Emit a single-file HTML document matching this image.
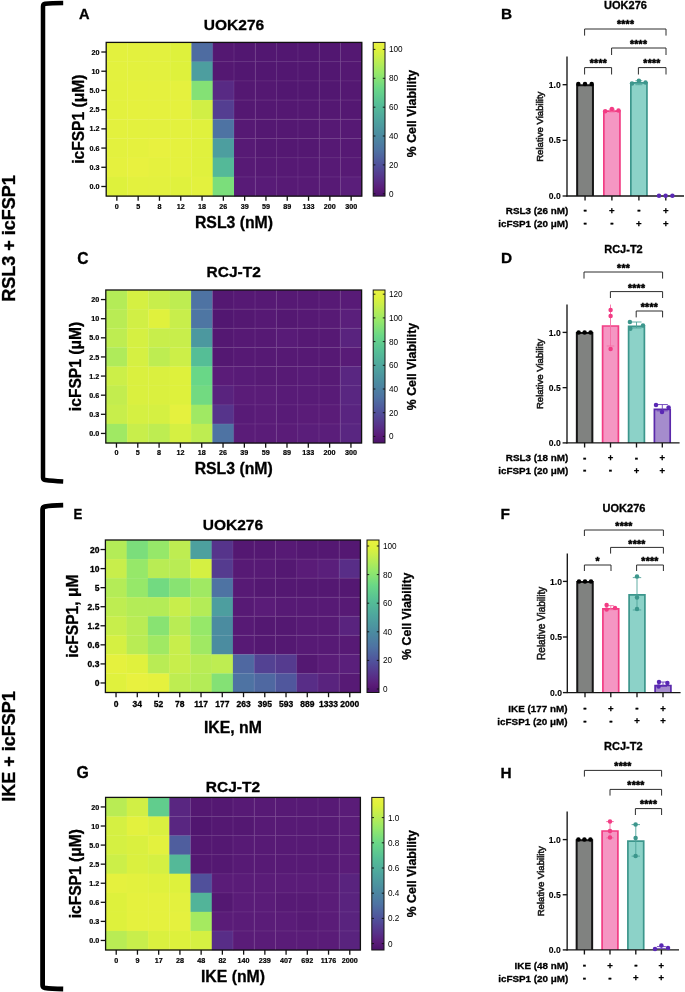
<!DOCTYPE html>
<html lang="en"><head><meta charset="utf-8"><title>Figure</title>
<style>html,body{margin:0;padding:0;background:#fff}svg{display:block}text{font-family:'Liberation Sans', Arial, Helvetica, sans-serif;fill:#000}text[font-weight="700"]{stroke:#000;stroke-width:0.3px}</style>
</head><body>
<svg width="685" height="992" viewBox="0 0 685 992">
<rect width="685" height="992" fill="#fff"/>
<path d="M63.2,2.9 C56,2.9 49,3.2 45.2,3.8 Q43,4.2 43,6.6 L43,477.4 Q43,479.6 45.2,479.9 C49,480.4 56,481 63.2,481.4" fill="none" stroke="#000" stroke-width="4.5"/>
<path d="M63.2,505.1 C56,505.2 49,505.6 44.8,506.6 Q42.6,507.2 42.6,509.6 L42.6,985 Q42.6,987.4 44.8,987.8 C49,988.4 56,988.8 63.2,989" fill="none" stroke="#000" stroke-width="4.8"/>
<text transform="translate(15.4,238.5) rotate(-90)" font-size="18" font-weight="700" text-anchor="middle">RSL3 + icFSP1</text>
<text transform="translate(15.4,746.5) rotate(-90)" font-size="18" font-weight="700" text-anchor="middle">IKE + icFSP1</text>
<text x="78.9" y="19.3" font-size="14.6" font-weight="700">A</text>
<text x="77.2" y="263.7" font-size="15.6" font-weight="700">C</text>
<text x="73.4" y="519.4" font-size="15.4" font-weight="700" textLength="8.8" lengthAdjust="spacingAndGlyphs">E</text>
<text x="76.4" y="778.3" font-size="15.8" font-weight="700">G</text>
<rect x="106.20" y="42.40" width="21.60" height="19.51" fill="#e3f13e"/>
<rect x="127.50" y="42.40" width="21.60" height="19.51" fill="#e3f13e"/>
<rect x="148.80" y="42.40" width="21.60" height="19.51" fill="#e3f13e"/>
<rect x="170.10" y="42.40" width="21.60" height="19.51" fill="#def13c"/>
<rect x="191.40" y="42.40" width="21.60" height="19.51" fill="#4e6ca1"/>
<rect x="212.70" y="42.40" width="21.60" height="19.51" fill="#541872"/>
<rect x="234.00" y="42.40" width="21.60" height="19.51" fill="#521771"/>
<rect x="255.30" y="42.40" width="21.60" height="19.51" fill="#521771"/>
<rect x="276.60" y="42.40" width="21.60" height="19.51" fill="#521771"/>
<rect x="297.90" y="42.40" width="21.60" height="19.51" fill="#521771"/>
<rect x="319.20" y="42.40" width="21.60" height="19.51" fill="#521771"/>
<rect x="340.50" y="42.40" width="21.60" height="19.51" fill="#541872"/>
<rect x="106.20" y="61.61" width="21.60" height="19.51" fill="#e3f13e"/>
<rect x="127.50" y="61.61" width="21.60" height="19.51" fill="#e3f13e"/>
<rect x="148.80" y="61.61" width="21.60" height="19.51" fill="#e3f13e"/>
<rect x="170.10" y="61.61" width="21.60" height="19.51" fill="#def13c"/>
<rect x="191.40" y="61.61" width="21.60" height="19.51" fill="#4d9e9f"/>
<rect x="212.70" y="61.61" width="21.60" height="19.51" fill="#541872"/>
<rect x="234.00" y="61.61" width="21.60" height="19.51" fill="#521771"/>
<rect x="255.30" y="61.61" width="21.60" height="19.51" fill="#521771"/>
<rect x="276.60" y="61.61" width="21.60" height="19.51" fill="#521771"/>
<rect x="297.90" y="61.61" width="21.60" height="19.51" fill="#521771"/>
<rect x="319.20" y="61.61" width="21.60" height="19.51" fill="#521771"/>
<rect x="340.50" y="61.61" width="21.60" height="19.51" fill="#541872"/>
<rect x="106.20" y="80.82" width="21.60" height="19.51" fill="#e3f13e"/>
<rect x="127.50" y="80.82" width="21.60" height="19.51" fill="#e5f13e"/>
<rect x="148.80" y="80.82" width="21.60" height="19.51" fill="#e5f13e"/>
<rect x="170.10" y="80.82" width="21.60" height="19.51" fill="#e5f13e"/>
<rect x="191.40" y="80.82" width="21.60" height="19.51" fill="#84e175"/>
<rect x="212.70" y="80.82" width="21.60" height="19.51" fill="#582a84"/>
<rect x="234.00" y="80.82" width="21.60" height="19.51" fill="#541872"/>
<rect x="255.30" y="80.82" width="21.60" height="19.51" fill="#541872"/>
<rect x="276.60" y="80.82" width="21.60" height="19.51" fill="#521771"/>
<rect x="297.90" y="80.82" width="21.60" height="19.51" fill="#521771"/>
<rect x="319.20" y="80.82" width="21.60" height="19.51" fill="#521771"/>
<rect x="340.50" y="80.82" width="21.60" height="19.51" fill="#541872"/>
<rect x="106.20" y="100.04" width="21.60" height="19.51" fill="#e3f13e"/>
<rect x="127.50" y="100.04" width="21.60" height="19.51" fill="#e5f13e"/>
<rect x="148.80" y="100.04" width="21.60" height="19.51" fill="#e5f13e"/>
<rect x="170.10" y="100.04" width="21.60" height="19.51" fill="#e5f13e"/>
<rect x="191.40" y="100.04" width="21.60" height="19.51" fill="#d1ef45"/>
<rect x="212.70" y="100.04" width="21.60" height="19.51" fill="#543e91"/>
<rect x="234.00" y="100.04" width="21.60" height="19.51" fill="#541872"/>
<rect x="255.30" y="100.04" width="21.60" height="19.51" fill="#541872"/>
<rect x="276.60" y="100.04" width="21.60" height="19.51" fill="#541872"/>
<rect x="297.90" y="100.04" width="21.60" height="19.51" fill="#541872"/>
<rect x="319.20" y="100.04" width="21.60" height="19.51" fill="#541872"/>
<rect x="340.50" y="100.04" width="21.60" height="19.51" fill="#541872"/>
<rect x="106.20" y="119.25" width="21.60" height="19.51" fill="#e3f13e"/>
<rect x="127.50" y="119.25" width="21.60" height="19.51" fill="#e3f13e"/>
<rect x="148.80" y="119.25" width="21.60" height="19.51" fill="#e3f13e"/>
<rect x="170.10" y="119.25" width="21.60" height="19.51" fill="#e3f13e"/>
<rect x="191.40" y="119.25" width="21.60" height="19.51" fill="#e0f13d"/>
<rect x="212.70" y="119.25" width="21.60" height="19.51" fill="#4e73a3"/>
<rect x="234.00" y="119.25" width="21.60" height="19.51" fill="#561974"/>
<rect x="255.30" y="119.25" width="21.60" height="19.51" fill="#541872"/>
<rect x="276.60" y="119.25" width="21.60" height="19.51" fill="#541872"/>
<rect x="297.90" y="119.25" width="21.60" height="19.51" fill="#541872"/>
<rect x="319.20" y="119.25" width="21.60" height="19.51" fill="#561974"/>
<rect x="340.50" y="119.25" width="21.60" height="19.51" fill="#561974"/>
<rect x="106.20" y="138.46" width="21.60" height="19.51" fill="#e3f13e"/>
<rect x="127.50" y="138.46" width="21.60" height="19.51" fill="#e5f13e"/>
<rect x="148.80" y="138.46" width="21.60" height="19.51" fill="#e8f13f"/>
<rect x="170.10" y="138.46" width="21.60" height="19.51" fill="#e5f13e"/>
<rect x="191.40" y="138.46" width="21.60" height="19.51" fill="#e0f13d"/>
<rect x="212.70" y="138.46" width="21.60" height="19.51" fill="#4d9e9f"/>
<rect x="234.00" y="138.46" width="21.60" height="19.51" fill="#571a75"/>
<rect x="255.30" y="138.46" width="21.60" height="19.51" fill="#541872"/>
<rect x="276.60" y="138.46" width="21.60" height="19.51" fill="#541872"/>
<rect x="297.90" y="138.46" width="21.60" height="19.51" fill="#541872"/>
<rect x="319.20" y="138.46" width="21.60" height="19.51" fill="#561974"/>
<rect x="340.50" y="138.46" width="21.60" height="19.51" fill="#561974"/>
<rect x="106.20" y="157.67" width="21.60" height="19.51" fill="#e5f13e"/>
<rect x="127.50" y="157.67" width="21.60" height="19.51" fill="#e8f13f"/>
<rect x="148.80" y="157.67" width="21.60" height="19.51" fill="#e5f13e"/>
<rect x="170.10" y="157.67" width="21.60" height="19.51" fill="#e5f13e"/>
<rect x="191.40" y="157.67" width="21.60" height="19.51" fill="#e0f13d"/>
<rect x="212.70" y="157.67" width="21.60" height="19.51" fill="#54b998"/>
<rect x="234.00" y="157.67" width="21.60" height="19.51" fill="#571a75"/>
<rect x="255.30" y="157.67" width="21.60" height="19.51" fill="#561974"/>
<rect x="276.60" y="157.67" width="21.60" height="19.51" fill="#561974"/>
<rect x="297.90" y="157.67" width="21.60" height="19.51" fill="#561974"/>
<rect x="319.20" y="157.67" width="21.60" height="19.51" fill="#571a75"/>
<rect x="340.50" y="157.67" width="21.60" height="19.51" fill="#571a75"/>
<rect x="106.20" y="176.89" width="21.60" height="19.51" fill="#def13c"/>
<rect x="127.50" y="176.89" width="21.60" height="19.51" fill="#e3f13e"/>
<rect x="148.80" y="176.89" width="21.60" height="19.51" fill="#e3f13e"/>
<rect x="170.10" y="176.89" width="21.60" height="19.51" fill="#e0f13d"/>
<rect x="191.40" y="176.89" width="21.60" height="19.51" fill="#e3f13e"/>
<rect x="212.70" y="176.89" width="21.60" height="19.51" fill="#7bde7b"/>
<rect x="234.00" y="176.89" width="21.60" height="19.51" fill="#581b77"/>
<rect x="255.30" y="176.89" width="21.60" height="19.51" fill="#581b77"/>
<rect x="276.60" y="176.89" width="21.60" height="19.51" fill="#571a75"/>
<rect x="297.90" y="176.89" width="21.60" height="19.51" fill="#571a75"/>
<rect x="319.20" y="176.89" width="21.60" height="19.51" fill="#571a75"/>
<rect x="340.50" y="176.89" width="21.60" height="19.51" fill="#5a1e7a"/>
<line x1="127.50" y1="42.40" x2="127.50" y2="61.61" stroke="#fff" stroke-opacity="0.05" stroke-width="0.6"/>
<line x1="127.50" y1="61.61" x2="127.50" y2="80.82" stroke="#fff" stroke-opacity="0.05" stroke-width="0.6"/>
<line x1="127.50" y1="80.82" x2="127.50" y2="100.04" stroke="#fff" stroke-opacity="0.05" stroke-width="0.6"/>
<line x1="127.50" y1="100.04" x2="127.50" y2="119.25" stroke="#fff" stroke-opacity="0.05" stroke-width="0.6"/>
<line x1="127.50" y1="119.25" x2="127.50" y2="138.46" stroke="#fff" stroke-opacity="0.05" stroke-width="0.6"/>
<line x1="127.50" y1="138.46" x2="127.50" y2="157.67" stroke="#fff" stroke-opacity="0.05" stroke-width="0.6"/>
<line x1="127.50" y1="157.67" x2="127.50" y2="176.89" stroke="#fff" stroke-opacity="0.05" stroke-width="0.6"/>
<line x1="127.50" y1="176.89" x2="127.50" y2="196.10" stroke="#fff" stroke-opacity="0.05" stroke-width="0.6"/>
<line x1="148.80" y1="42.40" x2="148.80" y2="61.61" stroke="#fff" stroke-opacity="0.05" stroke-width="0.6"/>
<line x1="148.80" y1="61.61" x2="148.80" y2="80.82" stroke="#fff" stroke-opacity="0.05" stroke-width="0.6"/>
<line x1="148.80" y1="80.82" x2="148.80" y2="100.04" stroke="#fff" stroke-opacity="0.05" stroke-width="0.6"/>
<line x1="148.80" y1="100.04" x2="148.80" y2="119.25" stroke="#fff" stroke-opacity="0.05" stroke-width="0.6"/>
<line x1="148.80" y1="119.25" x2="148.80" y2="138.46" stroke="#fff" stroke-opacity="0.05" stroke-width="0.6"/>
<line x1="148.80" y1="138.46" x2="148.80" y2="157.67" stroke="#fff" stroke-opacity="0.05" stroke-width="0.6"/>
<line x1="148.80" y1="157.67" x2="148.80" y2="176.89" stroke="#fff" stroke-opacity="0.05" stroke-width="0.6"/>
<line x1="148.80" y1="176.89" x2="148.80" y2="196.10" stroke="#fff" stroke-opacity="0.05" stroke-width="0.6"/>
<line x1="170.10" y1="42.40" x2="170.10" y2="61.61" stroke="#fff" stroke-opacity="0.05" stroke-width="0.6"/>
<line x1="170.10" y1="61.61" x2="170.10" y2="80.82" stroke="#fff" stroke-opacity="0.05" stroke-width="0.6"/>
<line x1="170.10" y1="80.82" x2="170.10" y2="100.04" stroke="#fff" stroke-opacity="0.05" stroke-width="0.6"/>
<line x1="170.10" y1="100.04" x2="170.10" y2="119.25" stroke="#fff" stroke-opacity="0.05" stroke-width="0.6"/>
<line x1="170.10" y1="119.25" x2="170.10" y2="138.46" stroke="#fff" stroke-opacity="0.05" stroke-width="0.6"/>
<line x1="170.10" y1="138.46" x2="170.10" y2="157.67" stroke="#fff" stroke-opacity="0.05" stroke-width="0.6"/>
<line x1="170.10" y1="157.67" x2="170.10" y2="176.89" stroke="#fff" stroke-opacity="0.05" stroke-width="0.6"/>
<line x1="170.10" y1="176.89" x2="170.10" y2="196.10" stroke="#fff" stroke-opacity="0.05" stroke-width="0.6"/>
<line x1="191.40" y1="42.40" x2="191.40" y2="61.61" stroke="#fff" stroke-opacity="0.05" stroke-width="0.6"/>
<line x1="191.40" y1="61.61" x2="191.40" y2="80.82" stroke="#fff" stroke-opacity="0.05" stroke-width="0.6"/>
<line x1="191.40" y1="80.82" x2="191.40" y2="100.04" stroke="#fff" stroke-opacity="0.05" stroke-width="0.6"/>
<line x1="191.40" y1="100.04" x2="191.40" y2="119.25" stroke="#fff" stroke-opacity="0.05" stroke-width="0.6"/>
<line x1="191.40" y1="119.25" x2="191.40" y2="138.46" stroke="#fff" stroke-opacity="0.05" stroke-width="0.6"/>
<line x1="191.40" y1="138.46" x2="191.40" y2="157.67" stroke="#fff" stroke-opacity="0.05" stroke-width="0.6"/>
<line x1="191.40" y1="157.67" x2="191.40" y2="176.89" stroke="#fff" stroke-opacity="0.05" stroke-width="0.6"/>
<line x1="191.40" y1="176.89" x2="191.40" y2="196.10" stroke="#fff" stroke-opacity="0.05" stroke-width="0.6"/>
<line x1="212.70" y1="42.40" x2="212.70" y2="61.61" stroke="#fff" stroke-opacity="0.15" stroke-width="0.6"/>
<line x1="212.70" y1="61.61" x2="212.70" y2="80.82" stroke="#fff" stroke-opacity="0.05" stroke-width="0.6"/>
<line x1="212.70" y1="80.82" x2="212.70" y2="100.04" stroke="#fff" stroke-opacity="0.05" stroke-width="0.6"/>
<line x1="212.70" y1="100.04" x2="212.70" y2="119.25" stroke="#fff" stroke-opacity="0.05" stroke-width="0.6"/>
<line x1="212.70" y1="119.25" x2="212.70" y2="138.46" stroke="#fff" stroke-opacity="0.05" stroke-width="0.6"/>
<line x1="212.70" y1="138.46" x2="212.70" y2="157.67" stroke="#fff" stroke-opacity="0.05" stroke-width="0.6"/>
<line x1="212.70" y1="157.67" x2="212.70" y2="176.89" stroke="#fff" stroke-opacity="0.05" stroke-width="0.6"/>
<line x1="212.70" y1="176.89" x2="212.70" y2="196.10" stroke="#fff" stroke-opacity="0.05" stroke-width="0.6"/>
<line x1="234.00" y1="42.40" x2="234.00" y2="61.61" stroke="#fff" stroke-opacity="0.15" stroke-width="0.6"/>
<line x1="234.00" y1="61.61" x2="234.00" y2="80.82" stroke="#fff" stroke-opacity="0.15" stroke-width="0.6"/>
<line x1="234.00" y1="80.82" x2="234.00" y2="100.04" stroke="#fff" stroke-opacity="0.15" stroke-width="0.6"/>
<line x1="234.00" y1="100.04" x2="234.00" y2="119.25" stroke="#fff" stroke-opacity="0.15" stroke-width="0.6"/>
<line x1="234.00" y1="119.25" x2="234.00" y2="138.46" stroke="#fff" stroke-opacity="0.15" stroke-width="0.6"/>
<line x1="234.00" y1="138.46" x2="234.00" y2="157.67" stroke="#fff" stroke-opacity="0.05" stroke-width="0.6"/>
<line x1="234.00" y1="157.67" x2="234.00" y2="176.89" stroke="#fff" stroke-opacity="0.05" stroke-width="0.6"/>
<line x1="234.00" y1="176.89" x2="234.00" y2="196.10" stroke="#fff" stroke-opacity="0.05" stroke-width="0.6"/>
<line x1="255.30" y1="42.40" x2="255.30" y2="61.61" stroke="#fff" stroke-opacity="0.15" stroke-width="0.6"/>
<line x1="255.30" y1="61.61" x2="255.30" y2="80.82" stroke="#fff" stroke-opacity="0.15" stroke-width="0.6"/>
<line x1="255.30" y1="80.82" x2="255.30" y2="100.04" stroke="#fff" stroke-opacity="0.15" stroke-width="0.6"/>
<line x1="255.30" y1="100.04" x2="255.30" y2="119.25" stroke="#fff" stroke-opacity="0.15" stroke-width="0.6"/>
<line x1="255.30" y1="119.25" x2="255.30" y2="138.46" stroke="#fff" stroke-opacity="0.15" stroke-width="0.6"/>
<line x1="255.30" y1="138.46" x2="255.30" y2="157.67" stroke="#fff" stroke-opacity="0.15" stroke-width="0.6"/>
<line x1="255.30" y1="157.67" x2="255.30" y2="176.89" stroke="#fff" stroke-opacity="0.15" stroke-width="0.6"/>
<line x1="255.30" y1="176.89" x2="255.30" y2="196.10" stroke="#fff" stroke-opacity="0.15" stroke-width="0.6"/>
<line x1="276.60" y1="42.40" x2="276.60" y2="61.61" stroke="#fff" stroke-opacity="0.15" stroke-width="0.6"/>
<line x1="276.60" y1="61.61" x2="276.60" y2="80.82" stroke="#fff" stroke-opacity="0.15" stroke-width="0.6"/>
<line x1="276.60" y1="80.82" x2="276.60" y2="100.04" stroke="#fff" stroke-opacity="0.15" stroke-width="0.6"/>
<line x1="276.60" y1="100.04" x2="276.60" y2="119.25" stroke="#fff" stroke-opacity="0.15" stroke-width="0.6"/>
<line x1="276.60" y1="119.25" x2="276.60" y2="138.46" stroke="#fff" stroke-opacity="0.15" stroke-width="0.6"/>
<line x1="276.60" y1="138.46" x2="276.60" y2="157.67" stroke="#fff" stroke-opacity="0.15" stroke-width="0.6"/>
<line x1="276.60" y1="157.67" x2="276.60" y2="176.89" stroke="#fff" stroke-opacity="0.15" stroke-width="0.6"/>
<line x1="276.60" y1="176.89" x2="276.60" y2="196.10" stroke="#fff" stroke-opacity="0.15" stroke-width="0.6"/>
<line x1="297.90" y1="42.40" x2="297.90" y2="61.61" stroke="#fff" stroke-opacity="0.15" stroke-width="0.6"/>
<line x1="297.90" y1="61.61" x2="297.90" y2="80.82" stroke="#fff" stroke-opacity="0.15" stroke-width="0.6"/>
<line x1="297.90" y1="80.82" x2="297.90" y2="100.04" stroke="#fff" stroke-opacity="0.15" stroke-width="0.6"/>
<line x1="297.90" y1="100.04" x2="297.90" y2="119.25" stroke="#fff" stroke-opacity="0.15" stroke-width="0.6"/>
<line x1="297.90" y1="119.25" x2="297.90" y2="138.46" stroke="#fff" stroke-opacity="0.15" stroke-width="0.6"/>
<line x1="297.90" y1="138.46" x2="297.90" y2="157.67" stroke="#fff" stroke-opacity="0.15" stroke-width="0.6"/>
<line x1="297.90" y1="157.67" x2="297.90" y2="176.89" stroke="#fff" stroke-opacity="0.15" stroke-width="0.6"/>
<line x1="297.90" y1="176.89" x2="297.90" y2="196.10" stroke="#fff" stroke-opacity="0.15" stroke-width="0.6"/>
<line x1="319.20" y1="42.40" x2="319.20" y2="61.61" stroke="#fff" stroke-opacity="0.15" stroke-width="0.6"/>
<line x1="319.20" y1="61.61" x2="319.20" y2="80.82" stroke="#fff" stroke-opacity="0.15" stroke-width="0.6"/>
<line x1="319.20" y1="80.82" x2="319.20" y2="100.04" stroke="#fff" stroke-opacity="0.15" stroke-width="0.6"/>
<line x1="319.20" y1="100.04" x2="319.20" y2="119.25" stroke="#fff" stroke-opacity="0.15" stroke-width="0.6"/>
<line x1="319.20" y1="119.25" x2="319.20" y2="138.46" stroke="#fff" stroke-opacity="0.15" stroke-width="0.6"/>
<line x1="319.20" y1="138.46" x2="319.20" y2="157.67" stroke="#fff" stroke-opacity="0.15" stroke-width="0.6"/>
<line x1="319.20" y1="157.67" x2="319.20" y2="176.89" stroke="#fff" stroke-opacity="0.15" stroke-width="0.6"/>
<line x1="319.20" y1="176.89" x2="319.20" y2="196.10" stroke="#fff" stroke-opacity="0.15" stroke-width="0.6"/>
<line x1="340.50" y1="42.40" x2="340.50" y2="61.61" stroke="#fff" stroke-opacity="0.15" stroke-width="0.6"/>
<line x1="340.50" y1="61.61" x2="340.50" y2="80.82" stroke="#fff" stroke-opacity="0.15" stroke-width="0.6"/>
<line x1="340.50" y1="80.82" x2="340.50" y2="100.04" stroke="#fff" stroke-opacity="0.15" stroke-width="0.6"/>
<line x1="340.50" y1="100.04" x2="340.50" y2="119.25" stroke="#fff" stroke-opacity="0.15" stroke-width="0.6"/>
<line x1="340.50" y1="119.25" x2="340.50" y2="138.46" stroke="#fff" stroke-opacity="0.15" stroke-width="0.6"/>
<line x1="340.50" y1="138.46" x2="340.50" y2="157.67" stroke="#fff" stroke-opacity="0.15" stroke-width="0.6"/>
<line x1="340.50" y1="157.67" x2="340.50" y2="176.89" stroke="#fff" stroke-opacity="0.15" stroke-width="0.6"/>
<line x1="340.50" y1="176.89" x2="340.50" y2="196.10" stroke="#fff" stroke-opacity="0.15" stroke-width="0.6"/>
<line x1="106.20" y1="61.61" x2="127.50" y2="61.61" stroke="#fff" stroke-opacity="0.05" stroke-width="0.6"/>
<line x1="127.50" y1="61.61" x2="148.80" y2="61.61" stroke="#fff" stroke-opacity="0.05" stroke-width="0.6"/>
<line x1="148.80" y1="61.61" x2="170.10" y2="61.61" stroke="#fff" stroke-opacity="0.05" stroke-width="0.6"/>
<line x1="170.10" y1="61.61" x2="191.40" y2="61.61" stroke="#fff" stroke-opacity="0.05" stroke-width="0.6"/>
<line x1="191.40" y1="61.61" x2="212.70" y2="61.61" stroke="#fff" stroke-opacity="0.05" stroke-width="0.6"/>
<line x1="212.70" y1="61.61" x2="234.00" y2="61.61" stroke="#fff" stroke-opacity="0.15" stroke-width="0.6"/>
<line x1="234.00" y1="61.61" x2="255.30" y2="61.61" stroke="#fff" stroke-opacity="0.15" stroke-width="0.6"/>
<line x1="255.30" y1="61.61" x2="276.60" y2="61.61" stroke="#fff" stroke-opacity="0.15" stroke-width="0.6"/>
<line x1="276.60" y1="61.61" x2="297.90" y2="61.61" stroke="#fff" stroke-opacity="0.15" stroke-width="0.6"/>
<line x1="297.90" y1="61.61" x2="319.20" y2="61.61" stroke="#fff" stroke-opacity="0.15" stroke-width="0.6"/>
<line x1="319.20" y1="61.61" x2="340.50" y2="61.61" stroke="#fff" stroke-opacity="0.15" stroke-width="0.6"/>
<line x1="340.50" y1="61.61" x2="361.80" y2="61.61" stroke="#fff" stroke-opacity="0.15" stroke-width="0.6"/>
<line x1="106.20" y1="80.82" x2="127.50" y2="80.82" stroke="#fff" stroke-opacity="0.05" stroke-width="0.6"/>
<line x1="127.50" y1="80.82" x2="148.80" y2="80.82" stroke="#fff" stroke-opacity="0.05" stroke-width="0.6"/>
<line x1="148.80" y1="80.82" x2="170.10" y2="80.82" stroke="#fff" stroke-opacity="0.05" stroke-width="0.6"/>
<line x1="170.10" y1="80.82" x2="191.40" y2="80.82" stroke="#fff" stroke-opacity="0.05" stroke-width="0.6"/>
<line x1="191.40" y1="80.82" x2="212.70" y2="80.82" stroke="#fff" stroke-opacity="0.05" stroke-width="0.6"/>
<line x1="212.70" y1="80.82" x2="234.00" y2="80.82" stroke="#fff" stroke-opacity="0.15" stroke-width="0.6"/>
<line x1="234.00" y1="80.82" x2="255.30" y2="80.82" stroke="#fff" stroke-opacity="0.15" stroke-width="0.6"/>
<line x1="255.30" y1="80.82" x2="276.60" y2="80.82" stroke="#fff" stroke-opacity="0.15" stroke-width="0.6"/>
<line x1="276.60" y1="80.82" x2="297.90" y2="80.82" stroke="#fff" stroke-opacity="0.15" stroke-width="0.6"/>
<line x1="297.90" y1="80.82" x2="319.20" y2="80.82" stroke="#fff" stroke-opacity="0.15" stroke-width="0.6"/>
<line x1="319.20" y1="80.82" x2="340.50" y2="80.82" stroke="#fff" stroke-opacity="0.15" stroke-width="0.6"/>
<line x1="340.50" y1="80.82" x2="361.80" y2="80.82" stroke="#fff" stroke-opacity="0.15" stroke-width="0.6"/>
<line x1="106.20" y1="100.04" x2="127.50" y2="100.04" stroke="#fff" stroke-opacity="0.05" stroke-width="0.6"/>
<line x1="127.50" y1="100.04" x2="148.80" y2="100.04" stroke="#fff" stroke-opacity="0.05" stroke-width="0.6"/>
<line x1="148.80" y1="100.04" x2="170.10" y2="100.04" stroke="#fff" stroke-opacity="0.05" stroke-width="0.6"/>
<line x1="170.10" y1="100.04" x2="191.40" y2="100.04" stroke="#fff" stroke-opacity="0.05" stroke-width="0.6"/>
<line x1="191.40" y1="100.04" x2="212.70" y2="100.04" stroke="#fff" stroke-opacity="0.05" stroke-width="0.6"/>
<line x1="212.70" y1="100.04" x2="234.00" y2="100.04" stroke="#fff" stroke-opacity="0.15" stroke-width="0.6"/>
<line x1="234.00" y1="100.04" x2="255.30" y2="100.04" stroke="#fff" stroke-opacity="0.15" stroke-width="0.6"/>
<line x1="255.30" y1="100.04" x2="276.60" y2="100.04" stroke="#fff" stroke-opacity="0.15" stroke-width="0.6"/>
<line x1="276.60" y1="100.04" x2="297.90" y2="100.04" stroke="#fff" stroke-opacity="0.15" stroke-width="0.6"/>
<line x1="297.90" y1="100.04" x2="319.20" y2="100.04" stroke="#fff" stroke-opacity="0.15" stroke-width="0.6"/>
<line x1="319.20" y1="100.04" x2="340.50" y2="100.04" stroke="#fff" stroke-opacity="0.15" stroke-width="0.6"/>
<line x1="340.50" y1="100.04" x2="361.80" y2="100.04" stroke="#fff" stroke-opacity="0.15" stroke-width="0.6"/>
<line x1="106.20" y1="119.25" x2="127.50" y2="119.25" stroke="#fff" stroke-opacity="0.05" stroke-width="0.6"/>
<line x1="127.50" y1="119.25" x2="148.80" y2="119.25" stroke="#fff" stroke-opacity="0.05" stroke-width="0.6"/>
<line x1="148.80" y1="119.25" x2="170.10" y2="119.25" stroke="#fff" stroke-opacity="0.05" stroke-width="0.6"/>
<line x1="170.10" y1="119.25" x2="191.40" y2="119.25" stroke="#fff" stroke-opacity="0.05" stroke-width="0.6"/>
<line x1="191.40" y1="119.25" x2="212.70" y2="119.25" stroke="#fff" stroke-opacity="0.05" stroke-width="0.6"/>
<line x1="212.70" y1="119.25" x2="234.00" y2="119.25" stroke="#fff" stroke-opacity="0.15" stroke-width="0.6"/>
<line x1="234.00" y1="119.25" x2="255.30" y2="119.25" stroke="#fff" stroke-opacity="0.15" stroke-width="0.6"/>
<line x1="255.30" y1="119.25" x2="276.60" y2="119.25" stroke="#fff" stroke-opacity="0.15" stroke-width="0.6"/>
<line x1="276.60" y1="119.25" x2="297.90" y2="119.25" stroke="#fff" stroke-opacity="0.15" stroke-width="0.6"/>
<line x1="297.90" y1="119.25" x2="319.20" y2="119.25" stroke="#fff" stroke-opacity="0.15" stroke-width="0.6"/>
<line x1="319.20" y1="119.25" x2="340.50" y2="119.25" stroke="#fff" stroke-opacity="0.15" stroke-width="0.6"/>
<line x1="340.50" y1="119.25" x2="361.80" y2="119.25" stroke="#fff" stroke-opacity="0.15" stroke-width="0.6"/>
<line x1="106.20" y1="138.46" x2="127.50" y2="138.46" stroke="#fff" stroke-opacity="0.05" stroke-width="0.6"/>
<line x1="127.50" y1="138.46" x2="148.80" y2="138.46" stroke="#fff" stroke-opacity="0.05" stroke-width="0.6"/>
<line x1="148.80" y1="138.46" x2="170.10" y2="138.46" stroke="#fff" stroke-opacity="0.05" stroke-width="0.6"/>
<line x1="170.10" y1="138.46" x2="191.40" y2="138.46" stroke="#fff" stroke-opacity="0.05" stroke-width="0.6"/>
<line x1="191.40" y1="138.46" x2="212.70" y2="138.46" stroke="#fff" stroke-opacity="0.05" stroke-width="0.6"/>
<line x1="212.70" y1="138.46" x2="234.00" y2="138.46" stroke="#fff" stroke-opacity="0.05" stroke-width="0.6"/>
<line x1="234.00" y1="138.46" x2="255.30" y2="138.46" stroke="#fff" stroke-opacity="0.15" stroke-width="0.6"/>
<line x1="255.30" y1="138.46" x2="276.60" y2="138.46" stroke="#fff" stroke-opacity="0.15" stroke-width="0.6"/>
<line x1="276.60" y1="138.46" x2="297.90" y2="138.46" stroke="#fff" stroke-opacity="0.15" stroke-width="0.6"/>
<line x1="297.90" y1="138.46" x2="319.20" y2="138.46" stroke="#fff" stroke-opacity="0.15" stroke-width="0.6"/>
<line x1="319.20" y1="138.46" x2="340.50" y2="138.46" stroke="#fff" stroke-opacity="0.15" stroke-width="0.6"/>
<line x1="340.50" y1="138.46" x2="361.80" y2="138.46" stroke="#fff" stroke-opacity="0.15" stroke-width="0.6"/>
<line x1="106.20" y1="157.67" x2="127.50" y2="157.67" stroke="#fff" stroke-opacity="0.05" stroke-width="0.6"/>
<line x1="127.50" y1="157.67" x2="148.80" y2="157.67" stroke="#fff" stroke-opacity="0.05" stroke-width="0.6"/>
<line x1="148.80" y1="157.67" x2="170.10" y2="157.67" stroke="#fff" stroke-opacity="0.05" stroke-width="0.6"/>
<line x1="170.10" y1="157.67" x2="191.40" y2="157.67" stroke="#fff" stroke-opacity="0.05" stroke-width="0.6"/>
<line x1="191.40" y1="157.67" x2="212.70" y2="157.67" stroke="#fff" stroke-opacity="0.05" stroke-width="0.6"/>
<line x1="212.70" y1="157.67" x2="234.00" y2="157.67" stroke="#fff" stroke-opacity="0.05" stroke-width="0.6"/>
<line x1="234.00" y1="157.67" x2="255.30" y2="157.67" stroke="#fff" stroke-opacity="0.15" stroke-width="0.6"/>
<line x1="255.30" y1="157.67" x2="276.60" y2="157.67" stroke="#fff" stroke-opacity="0.15" stroke-width="0.6"/>
<line x1="276.60" y1="157.67" x2="297.90" y2="157.67" stroke="#fff" stroke-opacity="0.15" stroke-width="0.6"/>
<line x1="297.90" y1="157.67" x2="319.20" y2="157.67" stroke="#fff" stroke-opacity="0.15" stroke-width="0.6"/>
<line x1="319.20" y1="157.67" x2="340.50" y2="157.67" stroke="#fff" stroke-opacity="0.15" stroke-width="0.6"/>
<line x1="340.50" y1="157.67" x2="361.80" y2="157.67" stroke="#fff" stroke-opacity="0.15" stroke-width="0.6"/>
<line x1="106.20" y1="176.89" x2="127.50" y2="176.89" stroke="#fff" stroke-opacity="0.05" stroke-width="0.6"/>
<line x1="127.50" y1="176.89" x2="148.80" y2="176.89" stroke="#fff" stroke-opacity="0.05" stroke-width="0.6"/>
<line x1="148.80" y1="176.89" x2="170.10" y2="176.89" stroke="#fff" stroke-opacity="0.05" stroke-width="0.6"/>
<line x1="170.10" y1="176.89" x2="191.40" y2="176.89" stroke="#fff" stroke-opacity="0.05" stroke-width="0.6"/>
<line x1="191.40" y1="176.89" x2="212.70" y2="176.89" stroke="#fff" stroke-opacity="0.05" stroke-width="0.6"/>
<line x1="212.70" y1="176.89" x2="234.00" y2="176.89" stroke="#fff" stroke-opacity="0.05" stroke-width="0.6"/>
<line x1="234.00" y1="176.89" x2="255.30" y2="176.89" stroke="#fff" stroke-opacity="0.15" stroke-width="0.6"/>
<line x1="255.30" y1="176.89" x2="276.60" y2="176.89" stroke="#fff" stroke-opacity="0.15" stroke-width="0.6"/>
<line x1="276.60" y1="176.89" x2="297.90" y2="176.89" stroke="#fff" stroke-opacity="0.15" stroke-width="0.6"/>
<line x1="297.90" y1="176.89" x2="319.20" y2="176.89" stroke="#fff" stroke-opacity="0.15" stroke-width="0.6"/>
<line x1="319.20" y1="176.89" x2="340.50" y2="176.89" stroke="#fff" stroke-opacity="0.15" stroke-width="0.6"/>
<line x1="340.50" y1="176.89" x2="361.80" y2="176.89" stroke="#fff" stroke-opacity="0.15" stroke-width="0.6"/>
<rect x="106.2" y="42.4" width="255.60000000000002" height="153.7" fill="none" stroke="#111" stroke-width="1.3"/>
<text x="234.0" y="30" font-size="15.5" font-weight="700" text-anchor="middle">UOK276</text>
<line x1="116.85" y1="196.1" x2="116.85" y2="200.79999999999998" stroke="#111" stroke-width="1.3"/>
<text x="116.85" y="208.5" font-size="7.2" font-weight="700" text-anchor="middle" style="stroke-width:0.2px">0</text>
<line x1="138.15" y1="196.1" x2="138.15" y2="200.79999999999998" stroke="#111" stroke-width="1.3"/>
<text x="138.15" y="208.5" font-size="7.2" font-weight="700" text-anchor="middle" style="stroke-width:0.2px">5</text>
<line x1="159.45" y1="196.1" x2="159.45" y2="200.79999999999998" stroke="#111" stroke-width="1.3"/>
<text x="159.45" y="208.5" font-size="7.2" font-weight="700" text-anchor="middle" style="stroke-width:0.2px">8</text>
<line x1="180.75" y1="196.1" x2="180.75" y2="200.79999999999998" stroke="#111" stroke-width="1.3"/>
<text x="180.75" y="208.5" font-size="7.2" font-weight="700" text-anchor="middle" style="stroke-width:0.2px">12</text>
<line x1="202.05" y1="196.1" x2="202.05" y2="200.79999999999998" stroke="#111" stroke-width="1.3"/>
<text x="202.05" y="208.5" font-size="7.2" font-weight="700" text-anchor="middle" style="stroke-width:0.2px">18</text>
<line x1="223.35" y1="196.1" x2="223.35" y2="200.79999999999998" stroke="#111" stroke-width="1.3"/>
<text x="223.35" y="208.5" font-size="7.2" font-weight="700" text-anchor="middle" style="stroke-width:0.2px">26</text>
<line x1="244.65" y1="196.1" x2="244.65" y2="200.79999999999998" stroke="#111" stroke-width="1.3"/>
<text x="244.65" y="208.5" font-size="7.2" font-weight="700" text-anchor="middle" style="stroke-width:0.2px">39</text>
<line x1="265.95" y1="196.1" x2="265.95" y2="200.79999999999998" stroke="#111" stroke-width="1.3"/>
<text x="265.95" y="208.5" font-size="7.2" font-weight="700" text-anchor="middle" style="stroke-width:0.2px">59</text>
<line x1="287.25" y1="196.1" x2="287.25" y2="200.79999999999998" stroke="#111" stroke-width="1.3"/>
<text x="287.25" y="208.5" font-size="7.2" font-weight="700" text-anchor="middle" style="stroke-width:0.2px">89</text>
<line x1="308.55" y1="196.1" x2="308.55" y2="200.79999999999998" stroke="#111" stroke-width="1.3"/>
<text x="308.55" y="208.5" font-size="7.2" font-weight="700" text-anchor="middle" style="stroke-width:0.2px">133</text>
<line x1="329.85" y1="196.1" x2="329.85" y2="200.79999999999998" stroke="#111" stroke-width="1.3"/>
<text x="329.85" y="208.5" font-size="7.2" font-weight="700" text-anchor="middle" style="stroke-width:0.2px">200</text>
<line x1="351.15" y1="196.1" x2="351.15" y2="200.79999999999998" stroke="#111" stroke-width="1.3"/>
<text x="351.15" y="208.5" font-size="7.2" font-weight="700" text-anchor="middle" style="stroke-width:0.2px">300</text>
<line x1="101.3" y1="52.01" x2="106.2" y2="52.01" stroke="#111" stroke-width="1.3"/>
<text x="99.6" y="54.60" font-size="7.2" font-weight="700" text-anchor="end" style="stroke-width:0.2px">20</text>
<line x1="101.3" y1="71.22" x2="106.2" y2="71.22" stroke="#111" stroke-width="1.3"/>
<text x="99.6" y="73.81" font-size="7.2" font-weight="700" text-anchor="end" style="stroke-width:0.2px">10</text>
<line x1="101.3" y1="90.43" x2="106.2" y2="90.43" stroke="#111" stroke-width="1.3"/>
<text x="99.6" y="93.02" font-size="7.2" font-weight="700" text-anchor="end" style="stroke-width:0.2px">5.0</text>
<line x1="101.3" y1="109.64" x2="106.2" y2="109.64" stroke="#111" stroke-width="1.3"/>
<text x="99.6" y="112.24" font-size="7.2" font-weight="700" text-anchor="end" style="stroke-width:0.2px">2.5</text>
<line x1="101.3" y1="128.86" x2="106.2" y2="128.86" stroke="#111" stroke-width="1.3"/>
<text x="99.6" y="131.45" font-size="7.2" font-weight="700" text-anchor="end" style="stroke-width:0.2px">1.2</text>
<line x1="101.3" y1="148.07" x2="106.2" y2="148.07" stroke="#111" stroke-width="1.3"/>
<text x="99.6" y="150.66" font-size="7.2" font-weight="700" text-anchor="end" style="stroke-width:0.2px">0.6</text>
<line x1="101.3" y1="167.28" x2="106.2" y2="167.28" stroke="#111" stroke-width="1.3"/>
<text x="99.6" y="169.87" font-size="7.2" font-weight="700" text-anchor="end" style="stroke-width:0.2px">0.3</text>
<line x1="101.3" y1="186.49" x2="106.2" y2="186.49" stroke="#111" stroke-width="1.3"/>
<text x="99.6" y="189.09" font-size="7.2" font-weight="700" text-anchor="end" style="stroke-width:0.2px">0.0</text>
<text x="234.0" y="227.6" font-size="15.8" font-weight="700" text-anchor="middle">RSL3 (nM)</text>
<text transform="translate(84,119.2) rotate(-90)" font-size="15.6" font-weight="700" text-anchor="middle">icFSP1 (μM)</text>
<defs><linearGradient id="g42" x1="0" y1="1" x2="0" y2="0">
<stop offset="0.0" stop-color="#4b126a"/>
<stop offset="0.05" stop-color="#5a1c78"/>
<stop offset="0.1" stop-color="#582d87"/>
<stop offset="0.2" stop-color="#50509b"/>
<stop offset="0.3" stop-color="#4e73a3"/>
<stop offset="0.4" stop-color="#4b8ca0"/>
<stop offset="0.5" stop-color="#4ea59e"/>
<stop offset="0.6" stop-color="#55be96"/>
<stop offset="0.7" stop-color="#69d787"/>
<stop offset="0.8" stop-color="#96e869"/>
<stop offset="0.9" stop-color="#c8ee4b"/>
<stop offset="0.95" stop-color="#def13c"/>
<stop offset="1.0" stop-color="#eaf140"/>
</linearGradient></defs>
<rect x="373.2" y="42.4" width="11.800000000000011" height="153.7" fill="url(#g42)" stroke="#151515" stroke-width="1"/>
<line x1="373.2" y1="49.4" x2="375.4" y2="49.4" stroke="#111" stroke-width="0.9"/>
<line x1="382.8" y1="49.4" x2="385" y2="49.4" stroke="#111" stroke-width="0.9"/>
<text x="389" y="52.35" font-size="8.2" fill="#222">100</text>
<line x1="373.2" y1="78.3" x2="375.4" y2="78.3" stroke="#111" stroke-width="0.9"/>
<line x1="382.8" y1="78.3" x2="385" y2="78.3" stroke="#111" stroke-width="0.9"/>
<text x="389" y="81.25" font-size="8.2" fill="#222">80</text>
<line x1="373.2" y1="107.2" x2="375.4" y2="107.2" stroke="#111" stroke-width="0.9"/>
<line x1="382.8" y1="107.2" x2="385" y2="107.2" stroke="#111" stroke-width="0.9"/>
<text x="389" y="110.15" font-size="8.2" fill="#222">60</text>
<line x1="373.2" y1="136" x2="375.4" y2="136" stroke="#111" stroke-width="0.9"/>
<line x1="382.8" y1="136" x2="385" y2="136" stroke="#111" stroke-width="0.9"/>
<text x="389" y="138.95" font-size="8.2" fill="#222">40</text>
<line x1="373.2" y1="164.9" x2="375.4" y2="164.9" stroke="#111" stroke-width="0.9"/>
<line x1="382.8" y1="164.9" x2="385" y2="164.9" stroke="#111" stroke-width="0.9"/>
<text x="389" y="167.85" font-size="8.2" fill="#222">20</text>
<line x1="373.2" y1="193.8" x2="375.4" y2="193.8" stroke="#111" stroke-width="0.9"/>
<line x1="382.8" y1="193.8" x2="385" y2="193.8" stroke="#111" stroke-width="0.9"/>
<text x="389" y="196.75" font-size="8.2" fill="#222">0</text>
<text transform="translate(416.2,113.5) rotate(-90)" font-size="12.3" font-weight="700" text-anchor="middle">% Cell Viability</text>
<rect x="105.80" y="290.00" width="21.62" height="19.43" fill="#b4ec57"/>
<rect x="127.12" y="290.00" width="21.62" height="19.43" fill="#d5f042"/>
<rect x="148.43" y="290.00" width="21.62" height="19.43" fill="#c8ee4b"/>
<rect x="169.75" y="290.00" width="21.62" height="19.43" fill="#beed51"/>
<rect x="191.07" y="290.00" width="21.62" height="19.43" fill="#4e73a3"/>
<rect x="212.38" y="290.00" width="21.62" height="19.43" fill="#541872"/>
<rect x="233.70" y="290.00" width="21.62" height="19.43" fill="#561974"/>
<rect x="255.02" y="290.00" width="21.62" height="19.43" fill="#561974"/>
<rect x="276.33" y="290.00" width="21.62" height="19.43" fill="#561974"/>
<rect x="297.65" y="290.00" width="21.62" height="19.43" fill="#561974"/>
<rect x="318.97" y="290.00" width="21.62" height="19.43" fill="#571a75"/>
<rect x="340.28" y="290.00" width="21.62" height="19.43" fill="#581b77"/>
<rect x="105.80" y="309.12" width="21.62" height="19.43" fill="#b9ec54"/>
<rect x="127.12" y="309.12" width="21.62" height="19.43" fill="#d1ef45"/>
<rect x="148.43" y="309.12" width="21.62" height="19.43" fill="#e0f13d"/>
<rect x="169.75" y="309.12" width="21.62" height="19.43" fill="#c8ee4b"/>
<rect x="191.07" y="309.12" width="21.62" height="19.43" fill="#4e76a3"/>
<rect x="212.38" y="309.12" width="21.62" height="19.43" fill="#521771"/>
<rect x="233.70" y="309.12" width="21.62" height="19.43" fill="#541872"/>
<rect x="255.02" y="309.12" width="21.62" height="19.43" fill="#561974"/>
<rect x="276.33" y="309.12" width="21.62" height="19.43" fill="#541872"/>
<rect x="297.65" y="309.12" width="21.62" height="19.43" fill="#561974"/>
<rect x="318.97" y="309.12" width="21.62" height="19.43" fill="#571a75"/>
<rect x="340.28" y="309.12" width="21.62" height="19.43" fill="#5a1f7b"/>
<rect x="105.80" y="328.25" width="21.62" height="19.43" fill="#beed51"/>
<rect x="127.12" y="328.25" width="21.62" height="19.43" fill="#d5f042"/>
<rect x="148.43" y="328.25" width="21.62" height="19.43" fill="#c8ee4b"/>
<rect x="169.75" y="328.25" width="21.62" height="19.43" fill="#c8ee4b"/>
<rect x="191.07" y="328.25" width="21.62" height="19.43" fill="#4c989f"/>
<rect x="212.38" y="328.25" width="21.62" height="19.43" fill="#541872"/>
<rect x="233.70" y="328.25" width="21.62" height="19.43" fill="#561974"/>
<rect x="255.02" y="328.25" width="21.62" height="19.43" fill="#561974"/>
<rect x="276.33" y="328.25" width="21.62" height="19.43" fill="#581b77"/>
<rect x="297.65" y="328.25" width="21.62" height="19.43" fill="#561974"/>
<rect x="318.97" y="328.25" width="21.62" height="19.43" fill="#561974"/>
<rect x="340.28" y="328.25" width="21.62" height="19.43" fill="#59237e"/>
<rect x="105.80" y="347.38" width="21.62" height="19.43" fill="#afeb5a"/>
<rect x="127.12" y="347.38" width="21.62" height="19.43" fill="#d5f042"/>
<rect x="148.43" y="347.38" width="21.62" height="19.43" fill="#beed51"/>
<rect x="169.75" y="347.38" width="21.62" height="19.43" fill="#ccef48"/>
<rect x="191.07" y="347.38" width="21.62" height="19.43" fill="#55be96"/>
<rect x="212.38" y="347.38" width="21.62" height="19.43" fill="#541872"/>
<rect x="233.70" y="347.38" width="21.62" height="19.43" fill="#561974"/>
<rect x="255.02" y="347.38" width="21.62" height="19.43" fill="#561974"/>
<rect x="276.33" y="347.38" width="21.62" height="19.43" fill="#561974"/>
<rect x="297.65" y="347.38" width="21.62" height="19.43" fill="#561974"/>
<rect x="318.97" y="347.38" width="21.62" height="19.43" fill="#561974"/>
<rect x="340.28" y="347.38" width="21.62" height="19.43" fill="#581b77"/>
<rect x="105.80" y="366.50" width="21.62" height="19.43" fill="#ccef48"/>
<rect x="127.12" y="366.50" width="21.62" height="19.43" fill="#daf03f"/>
<rect x="148.43" y="366.50" width="21.62" height="19.43" fill="#daf03f"/>
<rect x="169.75" y="366.50" width="21.62" height="19.43" fill="#def13c"/>
<rect x="191.07" y="366.50" width="21.62" height="19.43" fill="#69d787"/>
<rect x="212.38" y="366.50" width="21.62" height="19.43" fill="#5a1c78"/>
<rect x="233.70" y="366.50" width="21.62" height="19.43" fill="#581b77"/>
<rect x="255.02" y="366.50" width="21.62" height="19.43" fill="#571a75"/>
<rect x="276.33" y="366.50" width="21.62" height="19.43" fill="#571a75"/>
<rect x="297.65" y="366.50" width="21.62" height="19.43" fill="#581b77"/>
<rect x="318.97" y="366.50" width="21.62" height="19.43" fill="#571a75"/>
<rect x="340.28" y="366.50" width="21.62" height="19.43" fill="#592681"/>
<rect x="105.80" y="385.62" width="21.62" height="19.43" fill="#c3ed4e"/>
<rect x="127.12" y="385.62" width="21.62" height="19.43" fill="#daf03f"/>
<rect x="148.43" y="385.62" width="21.62" height="19.43" fill="#daf03f"/>
<rect x="169.75" y="385.62" width="21.62" height="19.43" fill="#def13c"/>
<rect x="191.07" y="385.62" width="21.62" height="19.43" fill="#72da81"/>
<rect x="212.38" y="385.62" width="21.62" height="19.43" fill="#59237e"/>
<rect x="233.70" y="385.62" width="21.62" height="19.43" fill="#5a1c78"/>
<rect x="255.02" y="385.62" width="21.62" height="19.43" fill="#5a1c78"/>
<rect x="276.33" y="385.62" width="21.62" height="19.43" fill="#581b77"/>
<rect x="297.65" y="385.62" width="21.62" height="19.43" fill="#581b77"/>
<rect x="318.97" y="385.62" width="21.62" height="19.43" fill="#581b77"/>
<rect x="340.28" y="385.62" width="21.62" height="19.43" fill="#592681"/>
<rect x="105.80" y="404.75" width="21.62" height="19.43" fill="#c8ee4b"/>
<rect x="127.12" y="404.75" width="21.62" height="19.43" fill="#d5f042"/>
<rect x="148.43" y="404.75" width="21.62" height="19.43" fill="#d5f042"/>
<rect x="169.75" y="404.75" width="21.62" height="19.43" fill="#e5f13e"/>
<rect x="191.07" y="404.75" width="21.62" height="19.43" fill="#a0e963"/>
<rect x="212.38" y="404.75" width="21.62" height="19.43" fill="#56348b"/>
<rect x="233.70" y="404.75" width="21.62" height="19.43" fill="#581b77"/>
<rect x="255.02" y="404.75" width="21.62" height="19.43" fill="#5a1c78"/>
<rect x="276.33" y="404.75" width="21.62" height="19.43" fill="#581b77"/>
<rect x="297.65" y="404.75" width="21.62" height="19.43" fill="#5a1c78"/>
<rect x="318.97" y="404.75" width="21.62" height="19.43" fill="#5a1c78"/>
<rect x="340.28" y="404.75" width="21.62" height="19.43" fill="#592480"/>
<rect x="105.80" y="423.88" width="21.62" height="19.43" fill="#a0e963"/>
<rect x="127.12" y="423.88" width="21.62" height="19.43" fill="#c8ee4b"/>
<rect x="148.43" y="423.88" width="21.62" height="19.43" fill="#beed51"/>
<rect x="169.75" y="423.88" width="21.62" height="19.43" fill="#d5f042"/>
<rect x="191.07" y="423.88" width="21.62" height="19.43" fill="#beed51"/>
<rect x="212.38" y="423.88" width="21.62" height="19.43" fill="#4e73a3"/>
<rect x="233.70" y="423.88" width="21.62" height="19.43" fill="#5a1c78"/>
<rect x="255.02" y="423.88" width="21.62" height="19.43" fill="#5a1c78"/>
<rect x="276.33" y="423.88" width="21.62" height="19.43" fill="#5a1c78"/>
<rect x="297.65" y="423.88" width="21.62" height="19.43" fill="#5a1e7a"/>
<rect x="318.97" y="423.88" width="21.62" height="19.43" fill="#5a1e7a"/>
<rect x="340.28" y="423.88" width="21.62" height="19.43" fill="#592681"/>
<line x1="127.12" y1="290.00" x2="127.12" y2="309.12" stroke="#fff" stroke-opacity="0.05" stroke-width="0.6"/>
<line x1="127.12" y1="309.12" x2="127.12" y2="328.25" stroke="#fff" stroke-opacity="0.05" stroke-width="0.6"/>
<line x1="127.12" y1="328.25" x2="127.12" y2="347.38" stroke="#fff" stroke-opacity="0.05" stroke-width="0.6"/>
<line x1="127.12" y1="347.38" x2="127.12" y2="366.50" stroke="#fff" stroke-opacity="0.05" stroke-width="0.6"/>
<line x1="127.12" y1="366.50" x2="127.12" y2="385.62" stroke="#fff" stroke-opacity="0.05" stroke-width="0.6"/>
<line x1="127.12" y1="385.62" x2="127.12" y2="404.75" stroke="#fff" stroke-opacity="0.05" stroke-width="0.6"/>
<line x1="127.12" y1="404.75" x2="127.12" y2="423.88" stroke="#fff" stroke-opacity="0.05" stroke-width="0.6"/>
<line x1="127.12" y1="423.88" x2="127.12" y2="443.00" stroke="#fff" stroke-opacity="0.05" stroke-width="0.6"/>
<line x1="148.43" y1="290.00" x2="148.43" y2="309.12" stroke="#fff" stroke-opacity="0.05" stroke-width="0.6"/>
<line x1="148.43" y1="309.12" x2="148.43" y2="328.25" stroke="#fff" stroke-opacity="0.05" stroke-width="0.6"/>
<line x1="148.43" y1="328.25" x2="148.43" y2="347.38" stroke="#fff" stroke-opacity="0.05" stroke-width="0.6"/>
<line x1="148.43" y1="347.38" x2="148.43" y2="366.50" stroke="#fff" stroke-opacity="0.05" stroke-width="0.6"/>
<line x1="148.43" y1="366.50" x2="148.43" y2="385.62" stroke="#fff" stroke-opacity="0.05" stroke-width="0.6"/>
<line x1="148.43" y1="385.62" x2="148.43" y2="404.75" stroke="#fff" stroke-opacity="0.05" stroke-width="0.6"/>
<line x1="148.43" y1="404.75" x2="148.43" y2="423.88" stroke="#fff" stroke-opacity="0.05" stroke-width="0.6"/>
<line x1="148.43" y1="423.88" x2="148.43" y2="443.00" stroke="#fff" stroke-opacity="0.05" stroke-width="0.6"/>
<line x1="169.75" y1="290.00" x2="169.75" y2="309.12" stroke="#fff" stroke-opacity="0.05" stroke-width="0.6"/>
<line x1="169.75" y1="309.12" x2="169.75" y2="328.25" stroke="#fff" stroke-opacity="0.05" stroke-width="0.6"/>
<line x1="169.75" y1="328.25" x2="169.75" y2="347.38" stroke="#fff" stroke-opacity="0.05" stroke-width="0.6"/>
<line x1="169.75" y1="347.38" x2="169.75" y2="366.50" stroke="#fff" stroke-opacity="0.05" stroke-width="0.6"/>
<line x1="169.75" y1="366.50" x2="169.75" y2="385.62" stroke="#fff" stroke-opacity="0.05" stroke-width="0.6"/>
<line x1="169.75" y1="385.62" x2="169.75" y2="404.75" stroke="#fff" stroke-opacity="0.05" stroke-width="0.6"/>
<line x1="169.75" y1="404.75" x2="169.75" y2="423.88" stroke="#fff" stroke-opacity="0.05" stroke-width="0.6"/>
<line x1="169.75" y1="423.88" x2="169.75" y2="443.00" stroke="#fff" stroke-opacity="0.05" stroke-width="0.6"/>
<line x1="191.07" y1="290.00" x2="191.07" y2="309.12" stroke="#fff" stroke-opacity="0.05" stroke-width="0.6"/>
<line x1="191.07" y1="309.12" x2="191.07" y2="328.25" stroke="#fff" stroke-opacity="0.05" stroke-width="0.6"/>
<line x1="191.07" y1="328.25" x2="191.07" y2="347.38" stroke="#fff" stroke-opacity="0.05" stroke-width="0.6"/>
<line x1="191.07" y1="347.38" x2="191.07" y2="366.50" stroke="#fff" stroke-opacity="0.05" stroke-width="0.6"/>
<line x1="191.07" y1="366.50" x2="191.07" y2="385.62" stroke="#fff" stroke-opacity="0.05" stroke-width="0.6"/>
<line x1="191.07" y1="385.62" x2="191.07" y2="404.75" stroke="#fff" stroke-opacity="0.05" stroke-width="0.6"/>
<line x1="191.07" y1="404.75" x2="191.07" y2="423.88" stroke="#fff" stroke-opacity="0.05" stroke-width="0.6"/>
<line x1="191.07" y1="423.88" x2="191.07" y2="443.00" stroke="#fff" stroke-opacity="0.05" stroke-width="0.6"/>
<line x1="212.38" y1="290.00" x2="212.38" y2="309.12" stroke="#fff" stroke-opacity="0.15" stroke-width="0.6"/>
<line x1="212.38" y1="309.12" x2="212.38" y2="328.25" stroke="#fff" stroke-opacity="0.15" stroke-width="0.6"/>
<line x1="212.38" y1="328.25" x2="212.38" y2="347.38" stroke="#fff" stroke-opacity="0.05" stroke-width="0.6"/>
<line x1="212.38" y1="347.38" x2="212.38" y2="366.50" stroke="#fff" stroke-opacity="0.05" stroke-width="0.6"/>
<line x1="212.38" y1="366.50" x2="212.38" y2="385.62" stroke="#fff" stroke-opacity="0.05" stroke-width="0.6"/>
<line x1="212.38" y1="385.62" x2="212.38" y2="404.75" stroke="#fff" stroke-opacity="0.05" stroke-width="0.6"/>
<line x1="212.38" y1="404.75" x2="212.38" y2="423.88" stroke="#fff" stroke-opacity="0.05" stroke-width="0.6"/>
<line x1="212.38" y1="423.88" x2="212.38" y2="443.00" stroke="#fff" stroke-opacity="0.05" stroke-width="0.6"/>
<line x1="233.70" y1="290.00" x2="233.70" y2="309.12" stroke="#fff" stroke-opacity="0.15" stroke-width="0.6"/>
<line x1="233.70" y1="309.12" x2="233.70" y2="328.25" stroke="#fff" stroke-opacity="0.15" stroke-width="0.6"/>
<line x1="233.70" y1="328.25" x2="233.70" y2="347.38" stroke="#fff" stroke-opacity="0.15" stroke-width="0.6"/>
<line x1="233.70" y1="347.38" x2="233.70" y2="366.50" stroke="#fff" stroke-opacity="0.15" stroke-width="0.6"/>
<line x1="233.70" y1="366.50" x2="233.70" y2="385.62" stroke="#fff" stroke-opacity="0.15" stroke-width="0.6"/>
<line x1="233.70" y1="385.62" x2="233.70" y2="404.75" stroke="#fff" stroke-opacity="0.15" stroke-width="0.6"/>
<line x1="233.70" y1="404.75" x2="233.70" y2="423.88" stroke="#fff" stroke-opacity="0.15" stroke-width="0.6"/>
<line x1="233.70" y1="423.88" x2="233.70" y2="443.00" stroke="#fff" stroke-opacity="0.15" stroke-width="0.6"/>
<line x1="255.02" y1="290.00" x2="255.02" y2="309.12" stroke="#fff" stroke-opacity="0.15" stroke-width="0.6"/>
<line x1="255.02" y1="309.12" x2="255.02" y2="328.25" stroke="#fff" stroke-opacity="0.15" stroke-width="0.6"/>
<line x1="255.02" y1="328.25" x2="255.02" y2="347.38" stroke="#fff" stroke-opacity="0.15" stroke-width="0.6"/>
<line x1="255.02" y1="347.38" x2="255.02" y2="366.50" stroke="#fff" stroke-opacity="0.15" stroke-width="0.6"/>
<line x1="255.02" y1="366.50" x2="255.02" y2="385.62" stroke="#fff" stroke-opacity="0.15" stroke-width="0.6"/>
<line x1="255.02" y1="385.62" x2="255.02" y2="404.75" stroke="#fff" stroke-opacity="0.15" stroke-width="0.6"/>
<line x1="255.02" y1="404.75" x2="255.02" y2="423.88" stroke="#fff" stroke-opacity="0.15" stroke-width="0.6"/>
<line x1="255.02" y1="423.88" x2="255.02" y2="443.00" stroke="#fff" stroke-opacity="0.15" stroke-width="0.6"/>
<line x1="276.33" y1="290.00" x2="276.33" y2="309.12" stroke="#fff" stroke-opacity="0.15" stroke-width="0.6"/>
<line x1="276.33" y1="309.12" x2="276.33" y2="328.25" stroke="#fff" stroke-opacity="0.15" stroke-width="0.6"/>
<line x1="276.33" y1="328.25" x2="276.33" y2="347.38" stroke="#fff" stroke-opacity="0.15" stroke-width="0.6"/>
<line x1="276.33" y1="347.38" x2="276.33" y2="366.50" stroke="#fff" stroke-opacity="0.15" stroke-width="0.6"/>
<line x1="276.33" y1="366.50" x2="276.33" y2="385.62" stroke="#fff" stroke-opacity="0.15" stroke-width="0.6"/>
<line x1="276.33" y1="385.62" x2="276.33" y2="404.75" stroke="#fff" stroke-opacity="0.15" stroke-width="0.6"/>
<line x1="276.33" y1="404.75" x2="276.33" y2="423.88" stroke="#fff" stroke-opacity="0.15" stroke-width="0.6"/>
<line x1="276.33" y1="423.88" x2="276.33" y2="443.00" stroke="#fff" stroke-opacity="0.15" stroke-width="0.6"/>
<line x1="297.65" y1="290.00" x2="297.65" y2="309.12" stroke="#fff" stroke-opacity="0.15" stroke-width="0.6"/>
<line x1="297.65" y1="309.12" x2="297.65" y2="328.25" stroke="#fff" stroke-opacity="0.15" stroke-width="0.6"/>
<line x1="297.65" y1="328.25" x2="297.65" y2="347.38" stroke="#fff" stroke-opacity="0.15" stroke-width="0.6"/>
<line x1="297.65" y1="347.38" x2="297.65" y2="366.50" stroke="#fff" stroke-opacity="0.15" stroke-width="0.6"/>
<line x1="297.65" y1="366.50" x2="297.65" y2="385.62" stroke="#fff" stroke-opacity="0.15" stroke-width="0.6"/>
<line x1="297.65" y1="385.62" x2="297.65" y2="404.75" stroke="#fff" stroke-opacity="0.15" stroke-width="0.6"/>
<line x1="297.65" y1="404.75" x2="297.65" y2="423.88" stroke="#fff" stroke-opacity="0.15" stroke-width="0.6"/>
<line x1="297.65" y1="423.88" x2="297.65" y2="443.00" stroke="#fff" stroke-opacity="0.15" stroke-width="0.6"/>
<line x1="318.97" y1="290.00" x2="318.97" y2="309.12" stroke="#fff" stroke-opacity="0.15" stroke-width="0.6"/>
<line x1="318.97" y1="309.12" x2="318.97" y2="328.25" stroke="#fff" stroke-opacity="0.15" stroke-width="0.6"/>
<line x1="318.97" y1="328.25" x2="318.97" y2="347.38" stroke="#fff" stroke-opacity="0.15" stroke-width="0.6"/>
<line x1="318.97" y1="347.38" x2="318.97" y2="366.50" stroke="#fff" stroke-opacity="0.15" stroke-width="0.6"/>
<line x1="318.97" y1="366.50" x2="318.97" y2="385.62" stroke="#fff" stroke-opacity="0.15" stroke-width="0.6"/>
<line x1="318.97" y1="385.62" x2="318.97" y2="404.75" stroke="#fff" stroke-opacity="0.15" stroke-width="0.6"/>
<line x1="318.97" y1="404.75" x2="318.97" y2="423.88" stroke="#fff" stroke-opacity="0.15" stroke-width="0.6"/>
<line x1="318.97" y1="423.88" x2="318.97" y2="443.00" stroke="#fff" stroke-opacity="0.15" stroke-width="0.6"/>
<line x1="340.28" y1="290.00" x2="340.28" y2="309.12" stroke="#fff" stroke-opacity="0.15" stroke-width="0.6"/>
<line x1="340.28" y1="309.12" x2="340.28" y2="328.25" stroke="#fff" stroke-opacity="0.15" stroke-width="0.6"/>
<line x1="340.28" y1="328.25" x2="340.28" y2="347.38" stroke="#fff" stroke-opacity="0.15" stroke-width="0.6"/>
<line x1="340.28" y1="347.38" x2="340.28" y2="366.50" stroke="#fff" stroke-opacity="0.15" stroke-width="0.6"/>
<line x1="340.28" y1="366.50" x2="340.28" y2="385.62" stroke="#fff" stroke-opacity="0.15" stroke-width="0.6"/>
<line x1="340.28" y1="385.62" x2="340.28" y2="404.75" stroke="#fff" stroke-opacity="0.15" stroke-width="0.6"/>
<line x1="340.28" y1="404.75" x2="340.28" y2="423.88" stroke="#fff" stroke-opacity="0.15" stroke-width="0.6"/>
<line x1="340.28" y1="423.88" x2="340.28" y2="443.00" stroke="#fff" stroke-opacity="0.15" stroke-width="0.6"/>
<line x1="105.80" y1="309.12" x2="127.12" y2="309.12" stroke="#fff" stroke-opacity="0.05" stroke-width="0.6"/>
<line x1="127.12" y1="309.12" x2="148.43" y2="309.12" stroke="#fff" stroke-opacity="0.05" stroke-width="0.6"/>
<line x1="148.43" y1="309.12" x2="169.75" y2="309.12" stroke="#fff" stroke-opacity="0.05" stroke-width="0.6"/>
<line x1="169.75" y1="309.12" x2="191.07" y2="309.12" stroke="#fff" stroke-opacity="0.05" stroke-width="0.6"/>
<line x1="191.07" y1="309.12" x2="212.38" y2="309.12" stroke="#fff" stroke-opacity="0.15" stroke-width="0.6"/>
<line x1="212.38" y1="309.12" x2="233.70" y2="309.12" stroke="#fff" stroke-opacity="0.15" stroke-width="0.6"/>
<line x1="233.70" y1="309.12" x2="255.02" y2="309.12" stroke="#fff" stroke-opacity="0.15" stroke-width="0.6"/>
<line x1="255.02" y1="309.12" x2="276.33" y2="309.12" stroke="#fff" stroke-opacity="0.15" stroke-width="0.6"/>
<line x1="276.33" y1="309.12" x2="297.65" y2="309.12" stroke="#fff" stroke-opacity="0.15" stroke-width="0.6"/>
<line x1="297.65" y1="309.12" x2="318.97" y2="309.12" stroke="#fff" stroke-opacity="0.15" stroke-width="0.6"/>
<line x1="318.97" y1="309.12" x2="340.28" y2="309.12" stroke="#fff" stroke-opacity="0.15" stroke-width="0.6"/>
<line x1="340.28" y1="309.12" x2="361.60" y2="309.12" stroke="#fff" stroke-opacity="0.15" stroke-width="0.6"/>
<line x1="105.80" y1="328.25" x2="127.12" y2="328.25" stroke="#fff" stroke-opacity="0.05" stroke-width="0.6"/>
<line x1="127.12" y1="328.25" x2="148.43" y2="328.25" stroke="#fff" stroke-opacity="0.05" stroke-width="0.6"/>
<line x1="148.43" y1="328.25" x2="169.75" y2="328.25" stroke="#fff" stroke-opacity="0.05" stroke-width="0.6"/>
<line x1="169.75" y1="328.25" x2="191.07" y2="328.25" stroke="#fff" stroke-opacity="0.05" stroke-width="0.6"/>
<line x1="191.07" y1="328.25" x2="212.38" y2="328.25" stroke="#fff" stroke-opacity="0.05" stroke-width="0.6"/>
<line x1="212.38" y1="328.25" x2="233.70" y2="328.25" stroke="#fff" stroke-opacity="0.15" stroke-width="0.6"/>
<line x1="233.70" y1="328.25" x2="255.02" y2="328.25" stroke="#fff" stroke-opacity="0.15" stroke-width="0.6"/>
<line x1="255.02" y1="328.25" x2="276.33" y2="328.25" stroke="#fff" stroke-opacity="0.15" stroke-width="0.6"/>
<line x1="276.33" y1="328.25" x2="297.65" y2="328.25" stroke="#fff" stroke-opacity="0.15" stroke-width="0.6"/>
<line x1="297.65" y1="328.25" x2="318.97" y2="328.25" stroke="#fff" stroke-opacity="0.15" stroke-width="0.6"/>
<line x1="318.97" y1="328.25" x2="340.28" y2="328.25" stroke="#fff" stroke-opacity="0.15" stroke-width="0.6"/>
<line x1="340.28" y1="328.25" x2="361.60" y2="328.25" stroke="#fff" stroke-opacity="0.15" stroke-width="0.6"/>
<line x1="105.80" y1="347.38" x2="127.12" y2="347.38" stroke="#fff" stroke-opacity="0.05" stroke-width="0.6"/>
<line x1="127.12" y1="347.38" x2="148.43" y2="347.38" stroke="#fff" stroke-opacity="0.05" stroke-width="0.6"/>
<line x1="148.43" y1="347.38" x2="169.75" y2="347.38" stroke="#fff" stroke-opacity="0.05" stroke-width="0.6"/>
<line x1="169.75" y1="347.38" x2="191.07" y2="347.38" stroke="#fff" stroke-opacity="0.05" stroke-width="0.6"/>
<line x1="191.07" y1="347.38" x2="212.38" y2="347.38" stroke="#fff" stroke-opacity="0.05" stroke-width="0.6"/>
<line x1="212.38" y1="347.38" x2="233.70" y2="347.38" stroke="#fff" stroke-opacity="0.15" stroke-width="0.6"/>
<line x1="233.70" y1="347.38" x2="255.02" y2="347.38" stroke="#fff" stroke-opacity="0.15" stroke-width="0.6"/>
<line x1="255.02" y1="347.38" x2="276.33" y2="347.38" stroke="#fff" stroke-opacity="0.15" stroke-width="0.6"/>
<line x1="276.33" y1="347.38" x2="297.65" y2="347.38" stroke="#fff" stroke-opacity="0.15" stroke-width="0.6"/>
<line x1="297.65" y1="347.38" x2="318.97" y2="347.38" stroke="#fff" stroke-opacity="0.15" stroke-width="0.6"/>
<line x1="318.97" y1="347.38" x2="340.28" y2="347.38" stroke="#fff" stroke-opacity="0.15" stroke-width="0.6"/>
<line x1="340.28" y1="347.38" x2="361.60" y2="347.38" stroke="#fff" stroke-opacity="0.15" stroke-width="0.6"/>
<line x1="105.80" y1="366.50" x2="127.12" y2="366.50" stroke="#fff" stroke-opacity="0.05" stroke-width="0.6"/>
<line x1="127.12" y1="366.50" x2="148.43" y2="366.50" stroke="#fff" stroke-opacity="0.05" stroke-width="0.6"/>
<line x1="148.43" y1="366.50" x2="169.75" y2="366.50" stroke="#fff" stroke-opacity="0.05" stroke-width="0.6"/>
<line x1="169.75" y1="366.50" x2="191.07" y2="366.50" stroke="#fff" stroke-opacity="0.05" stroke-width="0.6"/>
<line x1="191.07" y1="366.50" x2="212.38" y2="366.50" stroke="#fff" stroke-opacity="0.05" stroke-width="0.6"/>
<line x1="212.38" y1="366.50" x2="233.70" y2="366.50" stroke="#fff" stroke-opacity="0.15" stroke-width="0.6"/>
<line x1="233.70" y1="366.50" x2="255.02" y2="366.50" stroke="#fff" stroke-opacity="0.15" stroke-width="0.6"/>
<line x1="255.02" y1="366.50" x2="276.33" y2="366.50" stroke="#fff" stroke-opacity="0.15" stroke-width="0.6"/>
<line x1="276.33" y1="366.50" x2="297.65" y2="366.50" stroke="#fff" stroke-opacity="0.15" stroke-width="0.6"/>
<line x1="297.65" y1="366.50" x2="318.97" y2="366.50" stroke="#fff" stroke-opacity="0.15" stroke-width="0.6"/>
<line x1="318.97" y1="366.50" x2="340.28" y2="366.50" stroke="#fff" stroke-opacity="0.15" stroke-width="0.6"/>
<line x1="340.28" y1="366.50" x2="361.60" y2="366.50" stroke="#fff" stroke-opacity="0.15" stroke-width="0.6"/>
<line x1="105.80" y1="385.62" x2="127.12" y2="385.62" stroke="#fff" stroke-opacity="0.05" stroke-width="0.6"/>
<line x1="127.12" y1="385.62" x2="148.43" y2="385.62" stroke="#fff" stroke-opacity="0.05" stroke-width="0.6"/>
<line x1="148.43" y1="385.62" x2="169.75" y2="385.62" stroke="#fff" stroke-opacity="0.05" stroke-width="0.6"/>
<line x1="169.75" y1="385.62" x2="191.07" y2="385.62" stroke="#fff" stroke-opacity="0.05" stroke-width="0.6"/>
<line x1="191.07" y1="385.62" x2="212.38" y2="385.62" stroke="#fff" stroke-opacity="0.05" stroke-width="0.6"/>
<line x1="212.38" y1="385.62" x2="233.70" y2="385.62" stroke="#fff" stroke-opacity="0.15" stroke-width="0.6"/>
<line x1="233.70" y1="385.62" x2="255.02" y2="385.62" stroke="#fff" stroke-opacity="0.15" stroke-width="0.6"/>
<line x1="255.02" y1="385.62" x2="276.33" y2="385.62" stroke="#fff" stroke-opacity="0.15" stroke-width="0.6"/>
<line x1="276.33" y1="385.62" x2="297.65" y2="385.62" stroke="#fff" stroke-opacity="0.15" stroke-width="0.6"/>
<line x1="297.65" y1="385.62" x2="318.97" y2="385.62" stroke="#fff" stroke-opacity="0.15" stroke-width="0.6"/>
<line x1="318.97" y1="385.62" x2="340.28" y2="385.62" stroke="#fff" stroke-opacity="0.15" stroke-width="0.6"/>
<line x1="340.28" y1="385.62" x2="361.60" y2="385.62" stroke="#fff" stroke-opacity="0.15" stroke-width="0.6"/>
<line x1="105.80" y1="404.75" x2="127.12" y2="404.75" stroke="#fff" stroke-opacity="0.05" stroke-width="0.6"/>
<line x1="127.12" y1="404.75" x2="148.43" y2="404.75" stroke="#fff" stroke-opacity="0.05" stroke-width="0.6"/>
<line x1="148.43" y1="404.75" x2="169.75" y2="404.75" stroke="#fff" stroke-opacity="0.05" stroke-width="0.6"/>
<line x1="169.75" y1="404.75" x2="191.07" y2="404.75" stroke="#fff" stroke-opacity="0.05" stroke-width="0.6"/>
<line x1="191.07" y1="404.75" x2="212.38" y2="404.75" stroke="#fff" stroke-opacity="0.05" stroke-width="0.6"/>
<line x1="212.38" y1="404.75" x2="233.70" y2="404.75" stroke="#fff" stroke-opacity="0.15" stroke-width="0.6"/>
<line x1="233.70" y1="404.75" x2="255.02" y2="404.75" stroke="#fff" stroke-opacity="0.15" stroke-width="0.6"/>
<line x1="255.02" y1="404.75" x2="276.33" y2="404.75" stroke="#fff" stroke-opacity="0.15" stroke-width="0.6"/>
<line x1="276.33" y1="404.75" x2="297.65" y2="404.75" stroke="#fff" stroke-opacity="0.15" stroke-width="0.6"/>
<line x1="297.65" y1="404.75" x2="318.97" y2="404.75" stroke="#fff" stroke-opacity="0.15" stroke-width="0.6"/>
<line x1="318.97" y1="404.75" x2="340.28" y2="404.75" stroke="#fff" stroke-opacity="0.15" stroke-width="0.6"/>
<line x1="340.28" y1="404.75" x2="361.60" y2="404.75" stroke="#fff" stroke-opacity="0.15" stroke-width="0.6"/>
<line x1="105.80" y1="423.88" x2="127.12" y2="423.88" stroke="#fff" stroke-opacity="0.05" stroke-width="0.6"/>
<line x1="127.12" y1="423.88" x2="148.43" y2="423.88" stroke="#fff" stroke-opacity="0.05" stroke-width="0.6"/>
<line x1="148.43" y1="423.88" x2="169.75" y2="423.88" stroke="#fff" stroke-opacity="0.05" stroke-width="0.6"/>
<line x1="169.75" y1="423.88" x2="191.07" y2="423.88" stroke="#fff" stroke-opacity="0.05" stroke-width="0.6"/>
<line x1="191.07" y1="423.88" x2="212.38" y2="423.88" stroke="#fff" stroke-opacity="0.05" stroke-width="0.6"/>
<line x1="212.38" y1="423.88" x2="233.70" y2="423.88" stroke="#fff" stroke-opacity="0.15" stroke-width="0.6"/>
<line x1="233.70" y1="423.88" x2="255.02" y2="423.88" stroke="#fff" stroke-opacity="0.15" stroke-width="0.6"/>
<line x1="255.02" y1="423.88" x2="276.33" y2="423.88" stroke="#fff" stroke-opacity="0.15" stroke-width="0.6"/>
<line x1="276.33" y1="423.88" x2="297.65" y2="423.88" stroke="#fff" stroke-opacity="0.15" stroke-width="0.6"/>
<line x1="297.65" y1="423.88" x2="318.97" y2="423.88" stroke="#fff" stroke-opacity="0.15" stroke-width="0.6"/>
<line x1="318.97" y1="423.88" x2="340.28" y2="423.88" stroke="#fff" stroke-opacity="0.15" stroke-width="0.6"/>
<line x1="340.28" y1="423.88" x2="361.60" y2="423.88" stroke="#fff" stroke-opacity="0.15" stroke-width="0.6"/>
<rect x="105.8" y="290" width="255.8" height="153" fill="none" stroke="#111" stroke-width="1.3"/>
<text x="233.7" y="276.6" font-size="15.5" font-weight="700" text-anchor="middle">RCJ-T2</text>
<line x1="116.46" y1="443" x2="116.46" y2="447.7" stroke="#111" stroke-width="1.3"/>
<text x="116.46" y="455.4" font-size="7.2" font-weight="700" text-anchor="middle" style="stroke-width:0.2px">0</text>
<line x1="137.78" y1="443" x2="137.78" y2="447.7" stroke="#111" stroke-width="1.3"/>
<text x="137.78" y="455.4" font-size="7.2" font-weight="700" text-anchor="middle" style="stroke-width:0.2px">5</text>
<line x1="159.09" y1="443" x2="159.09" y2="447.7" stroke="#111" stroke-width="1.3"/>
<text x="159.09" y="455.4" font-size="7.2" font-weight="700" text-anchor="middle" style="stroke-width:0.2px">8</text>
<line x1="180.41" y1="443" x2="180.41" y2="447.7" stroke="#111" stroke-width="1.3"/>
<text x="180.41" y="455.4" font-size="7.2" font-weight="700" text-anchor="middle" style="stroke-width:0.2px">12</text>
<line x1="201.72" y1="443" x2="201.72" y2="447.7" stroke="#111" stroke-width="1.3"/>
<text x="201.72" y="455.4" font-size="7.2" font-weight="700" text-anchor="middle" style="stroke-width:0.2px">18</text>
<line x1="223.04" y1="443" x2="223.04" y2="447.7" stroke="#111" stroke-width="1.3"/>
<text x="223.04" y="455.4" font-size="7.2" font-weight="700" text-anchor="middle" style="stroke-width:0.2px">26</text>
<line x1="244.36" y1="443" x2="244.36" y2="447.7" stroke="#111" stroke-width="1.3"/>
<text x="244.36" y="455.4" font-size="7.2" font-weight="700" text-anchor="middle" style="stroke-width:0.2px">39</text>
<line x1="265.68" y1="443" x2="265.68" y2="447.7" stroke="#111" stroke-width="1.3"/>
<text x="265.68" y="455.4" font-size="7.2" font-weight="700" text-anchor="middle" style="stroke-width:0.2px">59</text>
<line x1="286.99" y1="443" x2="286.99" y2="447.7" stroke="#111" stroke-width="1.3"/>
<text x="286.99" y="455.4" font-size="7.2" font-weight="700" text-anchor="middle" style="stroke-width:0.2px">89</text>
<line x1="308.31" y1="443" x2="308.31" y2="447.7" stroke="#111" stroke-width="1.3"/>
<text x="308.31" y="455.4" font-size="7.2" font-weight="700" text-anchor="middle" style="stroke-width:0.2px">133</text>
<line x1="329.62" y1="443" x2="329.62" y2="447.7" stroke="#111" stroke-width="1.3"/>
<text x="329.62" y="455.4" font-size="7.2" font-weight="700" text-anchor="middle" style="stroke-width:0.2px">200</text>
<line x1="350.94" y1="443" x2="350.94" y2="447.7" stroke="#111" stroke-width="1.3"/>
<text x="350.94" y="455.4" font-size="7.2" font-weight="700" text-anchor="middle" style="stroke-width:0.2px">300</text>
<line x1="100.89999999999999" y1="299.56" x2="105.8" y2="299.56" stroke="#111" stroke-width="1.3"/>
<text x="99.2" y="302.15" font-size="7.2" font-weight="700" text-anchor="end" style="stroke-width:0.2px">20</text>
<line x1="100.89999999999999" y1="318.69" x2="105.8" y2="318.69" stroke="#111" stroke-width="1.3"/>
<text x="99.2" y="321.28" font-size="7.2" font-weight="700" text-anchor="end" style="stroke-width:0.2px">10</text>
<line x1="100.89999999999999" y1="337.81" x2="105.8" y2="337.81" stroke="#111" stroke-width="1.3"/>
<text x="99.2" y="340.40" font-size="7.2" font-weight="700" text-anchor="end" style="stroke-width:0.2px">5.0</text>
<line x1="100.89999999999999" y1="356.94" x2="105.8" y2="356.94" stroke="#111" stroke-width="1.3"/>
<text x="99.2" y="359.53" font-size="7.2" font-weight="700" text-anchor="end" style="stroke-width:0.2px">2.5</text>
<line x1="100.89999999999999" y1="376.06" x2="105.8" y2="376.06" stroke="#111" stroke-width="1.3"/>
<text x="99.2" y="378.65" font-size="7.2" font-weight="700" text-anchor="end" style="stroke-width:0.2px">1.2</text>
<line x1="100.89999999999999" y1="395.19" x2="105.8" y2="395.19" stroke="#111" stroke-width="1.3"/>
<text x="99.2" y="397.78" font-size="7.2" font-weight="700" text-anchor="end" style="stroke-width:0.2px">0.6</text>
<line x1="100.89999999999999" y1="414.31" x2="105.8" y2="414.31" stroke="#111" stroke-width="1.3"/>
<text x="99.2" y="416.90" font-size="7.2" font-weight="700" text-anchor="end" style="stroke-width:0.2px">0.3</text>
<line x1="100.89999999999999" y1="433.44" x2="105.8" y2="433.44" stroke="#111" stroke-width="1.3"/>
<text x="99.2" y="436.03" font-size="7.2" font-weight="700" text-anchor="end" style="stroke-width:0.2px">0.0</text>
<text x="233.7" y="474.4" font-size="15.8" font-weight="700" text-anchor="middle">RSL3 (nM)</text>
<text transform="translate(81.3,366.5) rotate(-90)" font-size="15.6" font-weight="700" text-anchor="middle">icFSP1 (μM)</text>
<defs><linearGradient id="g290" x1="0" y1="1" x2="0" y2="0">
<stop offset="0.0" stop-color="#4b126a"/>
<stop offset="0.05" stop-color="#5a1c78"/>
<stop offset="0.1" stop-color="#582d87"/>
<stop offset="0.2" stop-color="#50509b"/>
<stop offset="0.3" stop-color="#4e73a3"/>
<stop offset="0.4" stop-color="#4b8ca0"/>
<stop offset="0.5" stop-color="#4ea59e"/>
<stop offset="0.6" stop-color="#55be96"/>
<stop offset="0.7" stop-color="#69d787"/>
<stop offset="0.8" stop-color="#96e869"/>
<stop offset="0.9" stop-color="#c8ee4b"/>
<stop offset="0.95" stop-color="#def13c"/>
<stop offset="1.0" stop-color="#eaf140"/>
</linearGradient></defs>
<rect x="373.2" y="290" width="11.800000000000011" height="153" fill="url(#g290)" stroke="#151515" stroke-width="1"/>
<line x1="373.2" y1="294.2" x2="375.4" y2="294.2" stroke="#111" stroke-width="0.9"/>
<line x1="382.8" y1="294.2" x2="385" y2="294.2" stroke="#111" stroke-width="0.9"/>
<text x="389" y="297.15" font-size="8.2" fill="#222">120</text>
<line x1="373.2" y1="317.9" x2="375.4" y2="317.9" stroke="#111" stroke-width="0.9"/>
<line x1="382.8" y1="317.9" x2="385" y2="317.9" stroke="#111" stroke-width="0.9"/>
<text x="389" y="320.85" font-size="8.2" fill="#222">100</text>
<line x1="373.2" y1="341.6" x2="375.4" y2="341.6" stroke="#111" stroke-width="0.9"/>
<line x1="382.8" y1="341.6" x2="385" y2="341.6" stroke="#111" stroke-width="0.9"/>
<text x="389" y="344.55" font-size="8.2" fill="#222">80</text>
<line x1="373.2" y1="365.3" x2="375.4" y2="365.3" stroke="#111" stroke-width="0.9"/>
<line x1="382.8" y1="365.3" x2="385" y2="365.3" stroke="#111" stroke-width="0.9"/>
<text x="389" y="368.25" font-size="8.2" fill="#222">60</text>
<line x1="373.2" y1="389" x2="375.4" y2="389" stroke="#111" stroke-width="0.9"/>
<line x1="382.8" y1="389" x2="385" y2="389" stroke="#111" stroke-width="0.9"/>
<text x="389" y="391.95" font-size="8.2" fill="#222">40</text>
<line x1="373.2" y1="412.7" x2="375.4" y2="412.7" stroke="#111" stroke-width="0.9"/>
<line x1="382.8" y1="412.7" x2="385" y2="412.7" stroke="#111" stroke-width="0.9"/>
<text x="389" y="415.65" font-size="8.2" fill="#222">20</text>
<line x1="373.2" y1="436.4" x2="375.4" y2="436.4" stroke="#111" stroke-width="0.9"/>
<line x1="382.8" y1="436.4" x2="385" y2="436.4" stroke="#111" stroke-width="0.9"/>
<text x="389" y="439.35" font-size="8.2" fill="#222">0</text>
<text transform="translate(416.2,366.5) rotate(-90)" font-size="12.3" font-weight="700" text-anchor="middle">% Cell Viability</text>
<rect x="105.40" y="540.00" width="21.55" height="19.36" fill="#b4ec57"/>
<rect x="126.65" y="540.00" width="21.55" height="19.36" fill="#7bde7b"/>
<rect x="147.90" y="540.00" width="21.55" height="19.36" fill="#96e869"/>
<rect x="169.15" y="540.00" width="21.55" height="19.36" fill="#beed51"/>
<rect x="190.40" y="540.00" width="21.55" height="19.36" fill="#4da09e"/>
<rect x="211.65" y="540.00" width="21.55" height="19.36" fill="#56348b"/>
<rect x="232.90" y="540.00" width="21.55" height="19.36" fill="#541872"/>
<rect x="254.15" y="540.00" width="21.55" height="19.36" fill="#541872"/>
<rect x="275.40" y="540.00" width="21.55" height="19.36" fill="#571a75"/>
<rect x="296.65" y="540.00" width="21.55" height="19.36" fill="#541872"/>
<rect x="317.90" y="540.00" width="21.55" height="19.36" fill="#541872"/>
<rect x="339.15" y="540.00" width="21.55" height="19.36" fill="#541872"/>
<rect x="105.40" y="559.06" width="21.55" height="19.36" fill="#c8ee4b"/>
<rect x="126.65" y="559.06" width="21.55" height="19.36" fill="#96e869"/>
<rect x="147.90" y="559.06" width="21.55" height="19.36" fill="#b9ec54"/>
<rect x="169.15" y="559.06" width="21.55" height="19.36" fill="#b9ec54"/>
<rect x="190.40" y="559.06" width="21.55" height="19.36" fill="#d5f042"/>
<rect x="211.65" y="559.06" width="21.55" height="19.36" fill="#553b8f"/>
<rect x="232.90" y="559.06" width="21.55" height="19.36" fill="#571a75"/>
<rect x="254.15" y="559.06" width="21.55" height="19.36" fill="#571a75"/>
<rect x="275.40" y="559.06" width="21.55" height="19.36" fill="#541872"/>
<rect x="296.65" y="559.06" width="21.55" height="19.36" fill="#5a1c78"/>
<rect x="317.90" y="559.06" width="21.55" height="19.36" fill="#5a1f7b"/>
<rect x="339.15" y="559.06" width="21.55" height="19.36" fill="#582d87"/>
<rect x="105.40" y="578.12" width="21.55" height="19.36" fill="#b4ec57"/>
<rect x="126.65" y="578.12" width="21.55" height="19.36" fill="#96e869"/>
<rect x="147.90" y="578.12" width="21.55" height="19.36" fill="#72da81"/>
<rect x="169.15" y="578.12" width="21.55" height="19.36" fill="#88e372"/>
<rect x="190.40" y="578.12" width="21.55" height="19.36" fill="#a0e963"/>
<rect x="211.65" y="578.12" width="21.55" height="19.36" fill="#4e73a3"/>
<rect x="232.90" y="578.12" width="21.55" height="19.36" fill="#571a75"/>
<rect x="254.15" y="578.12" width="21.55" height="19.36" fill="#541872"/>
<rect x="275.40" y="578.12" width="21.55" height="19.36" fill="#541872"/>
<rect x="296.65" y="578.12" width="21.55" height="19.36" fill="#541872"/>
<rect x="317.90" y="578.12" width="21.55" height="19.36" fill="#541872"/>
<rect x="339.15" y="578.12" width="21.55" height="19.36" fill="#541872"/>
<rect x="105.40" y="597.19" width="21.55" height="19.36" fill="#beed51"/>
<rect x="126.65" y="597.19" width="21.55" height="19.36" fill="#b4ec57"/>
<rect x="147.90" y="597.19" width="21.55" height="19.36" fill="#b4ec57"/>
<rect x="169.15" y="597.19" width="21.55" height="19.36" fill="#c8ee4b"/>
<rect x="190.40" y="597.19" width="21.55" height="19.36" fill="#b4ec57"/>
<rect x="211.65" y="597.19" width="21.55" height="19.36" fill="#4d9e9f"/>
<rect x="232.90" y="597.19" width="21.55" height="19.36" fill="#571a75"/>
<rect x="254.15" y="597.19" width="21.55" height="19.36" fill="#5a1c78"/>
<rect x="275.40" y="597.19" width="21.55" height="19.36" fill="#571a75"/>
<rect x="296.65" y="597.19" width="21.55" height="19.36" fill="#571a75"/>
<rect x="317.90" y="597.19" width="21.55" height="19.36" fill="#571a75"/>
<rect x="339.15" y="597.19" width="21.55" height="19.36" fill="#571a75"/>
<rect x="105.40" y="616.25" width="21.55" height="19.36" fill="#c8ee4b"/>
<rect x="126.65" y="616.25" width="21.55" height="19.36" fill="#b9ec54"/>
<rect x="147.90" y="616.25" width="21.55" height="19.36" fill="#88e372"/>
<rect x="169.15" y="616.25" width="21.55" height="19.36" fill="#b9ec54"/>
<rect x="190.40" y="616.25" width="21.55" height="19.36" fill="#96e869"/>
<rect x="211.65" y="616.25" width="21.55" height="19.36" fill="#4b8ca0"/>
<rect x="232.90" y="616.25" width="21.55" height="19.36" fill="#571a75"/>
<rect x="254.15" y="616.25" width="21.55" height="19.36" fill="#541872"/>
<rect x="275.40" y="616.25" width="21.55" height="19.36" fill="#541872"/>
<rect x="296.65" y="616.25" width="21.55" height="19.36" fill="#571a75"/>
<rect x="317.90" y="616.25" width="21.55" height="19.36" fill="#571a75"/>
<rect x="339.15" y="616.25" width="21.55" height="19.36" fill="#59237e"/>
<rect x="105.40" y="635.31" width="21.55" height="19.36" fill="#d5f042"/>
<rect x="126.65" y="635.31" width="21.55" height="19.36" fill="#b9ec54"/>
<rect x="147.90" y="635.31" width="21.55" height="19.36" fill="#a0e963"/>
<rect x="169.15" y="635.31" width="21.55" height="19.36" fill="#c8ee4b"/>
<rect x="190.40" y="635.31" width="21.55" height="19.36" fill="#a0e963"/>
<rect x="211.65" y="635.31" width="21.55" height="19.36" fill="#4b8ca0"/>
<rect x="232.90" y="635.31" width="21.55" height="19.36" fill="#571a75"/>
<rect x="254.15" y="635.31" width="21.55" height="19.36" fill="#541872"/>
<rect x="275.40" y="635.31" width="21.55" height="19.36" fill="#541872"/>
<rect x="296.65" y="635.31" width="21.55" height="19.36" fill="#571a75"/>
<rect x="317.90" y="635.31" width="21.55" height="19.36" fill="#571a75"/>
<rect x="339.15" y="635.31" width="21.55" height="19.36" fill="#571a75"/>
<rect x="105.40" y="654.38" width="21.55" height="19.36" fill="#e5f13e"/>
<rect x="126.65" y="654.38" width="21.55" height="19.36" fill="#e0f13d"/>
<rect x="147.90" y="654.38" width="21.55" height="19.36" fill="#b9ec54"/>
<rect x="169.15" y="654.38" width="21.55" height="19.36" fill="#c8ee4b"/>
<rect x="190.40" y="654.38" width="21.55" height="19.36" fill="#b9ec54"/>
<rect x="211.65" y="654.38" width="21.55" height="19.36" fill="#beed51"/>
<rect x="232.90" y="654.38" width="21.55" height="19.36" fill="#4f68a1"/>
<rect x="254.15" y="654.38" width="21.55" height="19.36" fill="#534293"/>
<rect x="275.40" y="654.38" width="21.55" height="19.36" fill="#553b8f"/>
<rect x="296.65" y="654.38" width="21.55" height="19.36" fill="#541872"/>
<rect x="317.90" y="654.38" width="21.55" height="19.36" fill="#5a1c78"/>
<rect x="339.15" y="654.38" width="21.55" height="19.36" fill="#5a1f7b"/>
<rect x="105.40" y="673.44" width="21.55" height="19.36" fill="#e0f13d"/>
<rect x="126.65" y="673.44" width="21.55" height="19.36" fill="#e8f13f"/>
<rect x="147.90" y="673.44" width="21.55" height="19.36" fill="#e5f13e"/>
<rect x="169.15" y="673.44" width="21.55" height="19.36" fill="#beed51"/>
<rect x="190.40" y="673.44" width="21.55" height="19.36" fill="#b4ec57"/>
<rect x="211.65" y="673.44" width="21.55" height="19.36" fill="#84e175"/>
<rect x="232.90" y="673.44" width="21.55" height="19.36" fill="#4e73a3"/>
<rect x="254.15" y="673.44" width="21.55" height="19.36" fill="#4f68a1"/>
<rect x="275.40" y="673.44" width="21.55" height="19.36" fill="#50579d"/>
<rect x="296.65" y="673.44" width="21.55" height="19.36" fill="#582d87"/>
<rect x="317.90" y="673.44" width="21.55" height="19.36" fill="#59237e"/>
<rect x="339.15" y="673.44" width="21.55" height="19.36" fill="#571a75"/>
<line x1="126.65" y1="540.00" x2="126.65" y2="559.06" stroke="#fff" stroke-opacity="0.05" stroke-width="0.6"/>
<line x1="126.65" y1="559.06" x2="126.65" y2="578.12" stroke="#fff" stroke-opacity="0.05" stroke-width="0.6"/>
<line x1="126.65" y1="578.12" x2="126.65" y2="597.19" stroke="#fff" stroke-opacity="0.05" stroke-width="0.6"/>
<line x1="126.65" y1="597.19" x2="126.65" y2="616.25" stroke="#fff" stroke-opacity="0.05" stroke-width="0.6"/>
<line x1="126.65" y1="616.25" x2="126.65" y2="635.31" stroke="#fff" stroke-opacity="0.05" stroke-width="0.6"/>
<line x1="126.65" y1="635.31" x2="126.65" y2="654.38" stroke="#fff" stroke-opacity="0.05" stroke-width="0.6"/>
<line x1="126.65" y1="654.38" x2="126.65" y2="673.44" stroke="#fff" stroke-opacity="0.05" stroke-width="0.6"/>
<line x1="126.65" y1="673.44" x2="126.65" y2="692.50" stroke="#fff" stroke-opacity="0.05" stroke-width="0.6"/>
<line x1="147.90" y1="540.00" x2="147.90" y2="559.06" stroke="#fff" stroke-opacity="0.05" stroke-width="0.6"/>
<line x1="147.90" y1="559.06" x2="147.90" y2="578.12" stroke="#fff" stroke-opacity="0.05" stroke-width="0.6"/>
<line x1="147.90" y1="578.12" x2="147.90" y2="597.19" stroke="#fff" stroke-opacity="0.05" stroke-width="0.6"/>
<line x1="147.90" y1="597.19" x2="147.90" y2="616.25" stroke="#fff" stroke-opacity="0.05" stroke-width="0.6"/>
<line x1="147.90" y1="616.25" x2="147.90" y2="635.31" stroke="#fff" stroke-opacity="0.05" stroke-width="0.6"/>
<line x1="147.90" y1="635.31" x2="147.90" y2="654.38" stroke="#fff" stroke-opacity="0.05" stroke-width="0.6"/>
<line x1="147.90" y1="654.38" x2="147.90" y2="673.44" stroke="#fff" stroke-opacity="0.05" stroke-width="0.6"/>
<line x1="147.90" y1="673.44" x2="147.90" y2="692.50" stroke="#fff" stroke-opacity="0.05" stroke-width="0.6"/>
<line x1="169.15" y1="540.00" x2="169.15" y2="559.06" stroke="#fff" stroke-opacity="0.05" stroke-width="0.6"/>
<line x1="169.15" y1="559.06" x2="169.15" y2="578.12" stroke="#fff" stroke-opacity="0.05" stroke-width="0.6"/>
<line x1="169.15" y1="578.12" x2="169.15" y2="597.19" stroke="#fff" stroke-opacity="0.05" stroke-width="0.6"/>
<line x1="169.15" y1="597.19" x2="169.15" y2="616.25" stroke="#fff" stroke-opacity="0.05" stroke-width="0.6"/>
<line x1="169.15" y1="616.25" x2="169.15" y2="635.31" stroke="#fff" stroke-opacity="0.05" stroke-width="0.6"/>
<line x1="169.15" y1="635.31" x2="169.15" y2="654.38" stroke="#fff" stroke-opacity="0.05" stroke-width="0.6"/>
<line x1="169.15" y1="654.38" x2="169.15" y2="673.44" stroke="#fff" stroke-opacity="0.05" stroke-width="0.6"/>
<line x1="169.15" y1="673.44" x2="169.15" y2="692.50" stroke="#fff" stroke-opacity="0.05" stroke-width="0.6"/>
<line x1="190.40" y1="540.00" x2="190.40" y2="559.06" stroke="#fff" stroke-opacity="0.05" stroke-width="0.6"/>
<line x1="190.40" y1="559.06" x2="190.40" y2="578.12" stroke="#fff" stroke-opacity="0.05" stroke-width="0.6"/>
<line x1="190.40" y1="578.12" x2="190.40" y2="597.19" stroke="#fff" stroke-opacity="0.05" stroke-width="0.6"/>
<line x1="190.40" y1="597.19" x2="190.40" y2="616.25" stroke="#fff" stroke-opacity="0.05" stroke-width="0.6"/>
<line x1="190.40" y1="616.25" x2="190.40" y2="635.31" stroke="#fff" stroke-opacity="0.05" stroke-width="0.6"/>
<line x1="190.40" y1="635.31" x2="190.40" y2="654.38" stroke="#fff" stroke-opacity="0.05" stroke-width="0.6"/>
<line x1="190.40" y1="654.38" x2="190.40" y2="673.44" stroke="#fff" stroke-opacity="0.05" stroke-width="0.6"/>
<line x1="190.40" y1="673.44" x2="190.40" y2="692.50" stroke="#fff" stroke-opacity="0.05" stroke-width="0.6"/>
<line x1="211.65" y1="540.00" x2="211.65" y2="559.06" stroke="#fff" stroke-opacity="0.05" stroke-width="0.6"/>
<line x1="211.65" y1="559.06" x2="211.65" y2="578.12" stroke="#fff" stroke-opacity="0.05" stroke-width="0.6"/>
<line x1="211.65" y1="578.12" x2="211.65" y2="597.19" stroke="#fff" stroke-opacity="0.05" stroke-width="0.6"/>
<line x1="211.65" y1="597.19" x2="211.65" y2="616.25" stroke="#fff" stroke-opacity="0.05" stroke-width="0.6"/>
<line x1="211.65" y1="616.25" x2="211.65" y2="635.31" stroke="#fff" stroke-opacity="0.05" stroke-width="0.6"/>
<line x1="211.65" y1="635.31" x2="211.65" y2="654.38" stroke="#fff" stroke-opacity="0.05" stroke-width="0.6"/>
<line x1="211.65" y1="654.38" x2="211.65" y2="673.44" stroke="#fff" stroke-opacity="0.05" stroke-width="0.6"/>
<line x1="211.65" y1="673.44" x2="211.65" y2="692.50" stroke="#fff" stroke-opacity="0.05" stroke-width="0.6"/>
<line x1="232.90" y1="540.00" x2="232.90" y2="559.06" stroke="#fff" stroke-opacity="0.15" stroke-width="0.6"/>
<line x1="232.90" y1="559.06" x2="232.90" y2="578.12" stroke="#fff" stroke-opacity="0.15" stroke-width="0.6"/>
<line x1="232.90" y1="578.12" x2="232.90" y2="597.19" stroke="#fff" stroke-opacity="0.15" stroke-width="0.6"/>
<line x1="232.90" y1="597.19" x2="232.90" y2="616.25" stroke="#fff" stroke-opacity="0.05" stroke-width="0.6"/>
<line x1="232.90" y1="616.25" x2="232.90" y2="635.31" stroke="#fff" stroke-opacity="0.05" stroke-width="0.6"/>
<line x1="232.90" y1="635.31" x2="232.90" y2="654.38" stroke="#fff" stroke-opacity="0.05" stroke-width="0.6"/>
<line x1="232.90" y1="654.38" x2="232.90" y2="673.44" stroke="#fff" stroke-opacity="0.05" stroke-width="0.6"/>
<line x1="232.90" y1="673.44" x2="232.90" y2="692.50" stroke="#fff" stroke-opacity="0.05" stroke-width="0.6"/>
<line x1="254.15" y1="540.00" x2="254.15" y2="559.06" stroke="#fff" stroke-opacity="0.15" stroke-width="0.6"/>
<line x1="254.15" y1="559.06" x2="254.15" y2="578.12" stroke="#fff" stroke-opacity="0.15" stroke-width="0.6"/>
<line x1="254.15" y1="578.12" x2="254.15" y2="597.19" stroke="#fff" stroke-opacity="0.15" stroke-width="0.6"/>
<line x1="254.15" y1="597.19" x2="254.15" y2="616.25" stroke="#fff" stroke-opacity="0.15" stroke-width="0.6"/>
<line x1="254.15" y1="616.25" x2="254.15" y2="635.31" stroke="#fff" stroke-opacity="0.15" stroke-width="0.6"/>
<line x1="254.15" y1="635.31" x2="254.15" y2="654.38" stroke="#fff" stroke-opacity="0.15" stroke-width="0.6"/>
<line x1="254.15" y1="654.38" x2="254.15" y2="673.44" stroke="#fff" stroke-opacity="0.15" stroke-width="0.6"/>
<line x1="254.15" y1="673.44" x2="254.15" y2="692.50" stroke="#fff" stroke-opacity="0.15" stroke-width="0.6"/>
<line x1="275.40" y1="540.00" x2="275.40" y2="559.06" stroke="#fff" stroke-opacity="0.15" stroke-width="0.6"/>
<line x1="275.40" y1="559.06" x2="275.40" y2="578.12" stroke="#fff" stroke-opacity="0.15" stroke-width="0.6"/>
<line x1="275.40" y1="578.12" x2="275.40" y2="597.19" stroke="#fff" stroke-opacity="0.15" stroke-width="0.6"/>
<line x1="275.40" y1="597.19" x2="275.40" y2="616.25" stroke="#fff" stroke-opacity="0.15" stroke-width="0.6"/>
<line x1="275.40" y1="616.25" x2="275.40" y2="635.31" stroke="#fff" stroke-opacity="0.15" stroke-width="0.6"/>
<line x1="275.40" y1="635.31" x2="275.40" y2="654.38" stroke="#fff" stroke-opacity="0.15" stroke-width="0.6"/>
<line x1="275.40" y1="654.38" x2="275.40" y2="673.44" stroke="#fff" stroke-opacity="0.15" stroke-width="0.6"/>
<line x1="275.40" y1="673.44" x2="275.40" y2="692.50" stroke="#fff" stroke-opacity="0.15" stroke-width="0.6"/>
<line x1="296.65" y1="540.00" x2="296.65" y2="559.06" stroke="#fff" stroke-opacity="0.15" stroke-width="0.6"/>
<line x1="296.65" y1="559.06" x2="296.65" y2="578.12" stroke="#fff" stroke-opacity="0.15" stroke-width="0.6"/>
<line x1="296.65" y1="578.12" x2="296.65" y2="597.19" stroke="#fff" stroke-opacity="0.15" stroke-width="0.6"/>
<line x1="296.65" y1="597.19" x2="296.65" y2="616.25" stroke="#fff" stroke-opacity="0.15" stroke-width="0.6"/>
<line x1="296.65" y1="616.25" x2="296.65" y2="635.31" stroke="#fff" stroke-opacity="0.15" stroke-width="0.6"/>
<line x1="296.65" y1="635.31" x2="296.65" y2="654.38" stroke="#fff" stroke-opacity="0.15" stroke-width="0.6"/>
<line x1="296.65" y1="654.38" x2="296.65" y2="673.44" stroke="#fff" stroke-opacity="0.15" stroke-width="0.6"/>
<line x1="296.65" y1="673.44" x2="296.65" y2="692.50" stroke="#fff" stroke-opacity="0.15" stroke-width="0.6"/>
<line x1="317.90" y1="540.00" x2="317.90" y2="559.06" stroke="#fff" stroke-opacity="0.15" stroke-width="0.6"/>
<line x1="317.90" y1="559.06" x2="317.90" y2="578.12" stroke="#fff" stroke-opacity="0.15" stroke-width="0.6"/>
<line x1="317.90" y1="578.12" x2="317.90" y2="597.19" stroke="#fff" stroke-opacity="0.15" stroke-width="0.6"/>
<line x1="317.90" y1="597.19" x2="317.90" y2="616.25" stroke="#fff" stroke-opacity="0.15" stroke-width="0.6"/>
<line x1="317.90" y1="616.25" x2="317.90" y2="635.31" stroke="#fff" stroke-opacity="0.15" stroke-width="0.6"/>
<line x1="317.90" y1="635.31" x2="317.90" y2="654.38" stroke="#fff" stroke-opacity="0.15" stroke-width="0.6"/>
<line x1="317.90" y1="654.38" x2="317.90" y2="673.44" stroke="#fff" stroke-opacity="0.15" stroke-width="0.6"/>
<line x1="317.90" y1="673.44" x2="317.90" y2="692.50" stroke="#fff" stroke-opacity="0.15" stroke-width="0.6"/>
<line x1="339.15" y1="540.00" x2="339.15" y2="559.06" stroke="#fff" stroke-opacity="0.15" stroke-width="0.6"/>
<line x1="339.15" y1="559.06" x2="339.15" y2="578.12" stroke="#fff" stroke-opacity="0.15" stroke-width="0.6"/>
<line x1="339.15" y1="578.12" x2="339.15" y2="597.19" stroke="#fff" stroke-opacity="0.15" stroke-width="0.6"/>
<line x1="339.15" y1="597.19" x2="339.15" y2="616.25" stroke="#fff" stroke-opacity="0.15" stroke-width="0.6"/>
<line x1="339.15" y1="616.25" x2="339.15" y2="635.31" stroke="#fff" stroke-opacity="0.15" stroke-width="0.6"/>
<line x1="339.15" y1="635.31" x2="339.15" y2="654.38" stroke="#fff" stroke-opacity="0.15" stroke-width="0.6"/>
<line x1="339.15" y1="654.38" x2="339.15" y2="673.44" stroke="#fff" stroke-opacity="0.15" stroke-width="0.6"/>
<line x1="339.15" y1="673.44" x2="339.15" y2="692.50" stroke="#fff" stroke-opacity="0.15" stroke-width="0.6"/>
<line x1="105.40" y1="559.06" x2="126.65" y2="559.06" stroke="#fff" stroke-opacity="0.05" stroke-width="0.6"/>
<line x1="126.65" y1="559.06" x2="147.90" y2="559.06" stroke="#fff" stroke-opacity="0.05" stroke-width="0.6"/>
<line x1="147.90" y1="559.06" x2="169.15" y2="559.06" stroke="#fff" stroke-opacity="0.05" stroke-width="0.6"/>
<line x1="169.15" y1="559.06" x2="190.40" y2="559.06" stroke="#fff" stroke-opacity="0.05" stroke-width="0.6"/>
<line x1="190.40" y1="559.06" x2="211.65" y2="559.06" stroke="#fff" stroke-opacity="0.05" stroke-width="0.6"/>
<line x1="211.65" y1="559.06" x2="232.90" y2="559.06" stroke="#fff" stroke-opacity="0.15" stroke-width="0.6"/>
<line x1="232.90" y1="559.06" x2="254.15" y2="559.06" stroke="#fff" stroke-opacity="0.15" stroke-width="0.6"/>
<line x1="254.15" y1="559.06" x2="275.40" y2="559.06" stroke="#fff" stroke-opacity="0.15" stroke-width="0.6"/>
<line x1="275.40" y1="559.06" x2="296.65" y2="559.06" stroke="#fff" stroke-opacity="0.15" stroke-width="0.6"/>
<line x1="296.65" y1="559.06" x2="317.90" y2="559.06" stroke="#fff" stroke-opacity="0.15" stroke-width="0.6"/>
<line x1="317.90" y1="559.06" x2="339.15" y2="559.06" stroke="#fff" stroke-opacity="0.15" stroke-width="0.6"/>
<line x1="339.15" y1="559.06" x2="360.40" y2="559.06" stroke="#fff" stroke-opacity="0.15" stroke-width="0.6"/>
<line x1="105.40" y1="578.12" x2="126.65" y2="578.12" stroke="#fff" stroke-opacity="0.05" stroke-width="0.6"/>
<line x1="126.65" y1="578.12" x2="147.90" y2="578.12" stroke="#fff" stroke-opacity="0.05" stroke-width="0.6"/>
<line x1="147.90" y1="578.12" x2="169.15" y2="578.12" stroke="#fff" stroke-opacity="0.05" stroke-width="0.6"/>
<line x1="169.15" y1="578.12" x2="190.40" y2="578.12" stroke="#fff" stroke-opacity="0.05" stroke-width="0.6"/>
<line x1="190.40" y1="578.12" x2="211.65" y2="578.12" stroke="#fff" stroke-opacity="0.05" stroke-width="0.6"/>
<line x1="211.65" y1="578.12" x2="232.90" y2="578.12" stroke="#fff" stroke-opacity="0.15" stroke-width="0.6"/>
<line x1="232.90" y1="578.12" x2="254.15" y2="578.12" stroke="#fff" stroke-opacity="0.15" stroke-width="0.6"/>
<line x1="254.15" y1="578.12" x2="275.40" y2="578.12" stroke="#fff" stroke-opacity="0.15" stroke-width="0.6"/>
<line x1="275.40" y1="578.12" x2="296.65" y2="578.12" stroke="#fff" stroke-opacity="0.15" stroke-width="0.6"/>
<line x1="296.65" y1="578.12" x2="317.90" y2="578.12" stroke="#fff" stroke-opacity="0.15" stroke-width="0.6"/>
<line x1="317.90" y1="578.12" x2="339.15" y2="578.12" stroke="#fff" stroke-opacity="0.15" stroke-width="0.6"/>
<line x1="339.15" y1="578.12" x2="360.40" y2="578.12" stroke="#fff" stroke-opacity="0.15" stroke-width="0.6"/>
<line x1="105.40" y1="597.19" x2="126.65" y2="597.19" stroke="#fff" stroke-opacity="0.05" stroke-width="0.6"/>
<line x1="126.65" y1="597.19" x2="147.90" y2="597.19" stroke="#fff" stroke-opacity="0.05" stroke-width="0.6"/>
<line x1="147.90" y1="597.19" x2="169.15" y2="597.19" stroke="#fff" stroke-opacity="0.05" stroke-width="0.6"/>
<line x1="169.15" y1="597.19" x2="190.40" y2="597.19" stroke="#fff" stroke-opacity="0.05" stroke-width="0.6"/>
<line x1="190.40" y1="597.19" x2="211.65" y2="597.19" stroke="#fff" stroke-opacity="0.05" stroke-width="0.6"/>
<line x1="211.65" y1="597.19" x2="232.90" y2="597.19" stroke="#fff" stroke-opacity="0.05" stroke-width="0.6"/>
<line x1="232.90" y1="597.19" x2="254.15" y2="597.19" stroke="#fff" stroke-opacity="0.15" stroke-width="0.6"/>
<line x1="254.15" y1="597.19" x2="275.40" y2="597.19" stroke="#fff" stroke-opacity="0.15" stroke-width="0.6"/>
<line x1="275.40" y1="597.19" x2="296.65" y2="597.19" stroke="#fff" stroke-opacity="0.15" stroke-width="0.6"/>
<line x1="296.65" y1="597.19" x2="317.90" y2="597.19" stroke="#fff" stroke-opacity="0.15" stroke-width="0.6"/>
<line x1="317.90" y1="597.19" x2="339.15" y2="597.19" stroke="#fff" stroke-opacity="0.15" stroke-width="0.6"/>
<line x1="339.15" y1="597.19" x2="360.40" y2="597.19" stroke="#fff" stroke-opacity="0.15" stroke-width="0.6"/>
<line x1="105.40" y1="616.25" x2="126.65" y2="616.25" stroke="#fff" stroke-opacity="0.05" stroke-width="0.6"/>
<line x1="126.65" y1="616.25" x2="147.90" y2="616.25" stroke="#fff" stroke-opacity="0.05" stroke-width="0.6"/>
<line x1="147.90" y1="616.25" x2="169.15" y2="616.25" stroke="#fff" stroke-opacity="0.05" stroke-width="0.6"/>
<line x1="169.15" y1="616.25" x2="190.40" y2="616.25" stroke="#fff" stroke-opacity="0.05" stroke-width="0.6"/>
<line x1="190.40" y1="616.25" x2="211.65" y2="616.25" stroke="#fff" stroke-opacity="0.05" stroke-width="0.6"/>
<line x1="211.65" y1="616.25" x2="232.90" y2="616.25" stroke="#fff" stroke-opacity="0.05" stroke-width="0.6"/>
<line x1="232.90" y1="616.25" x2="254.15" y2="616.25" stroke="#fff" stroke-opacity="0.15" stroke-width="0.6"/>
<line x1="254.15" y1="616.25" x2="275.40" y2="616.25" stroke="#fff" stroke-opacity="0.15" stroke-width="0.6"/>
<line x1="275.40" y1="616.25" x2="296.65" y2="616.25" stroke="#fff" stroke-opacity="0.15" stroke-width="0.6"/>
<line x1="296.65" y1="616.25" x2="317.90" y2="616.25" stroke="#fff" stroke-opacity="0.15" stroke-width="0.6"/>
<line x1="317.90" y1="616.25" x2="339.15" y2="616.25" stroke="#fff" stroke-opacity="0.15" stroke-width="0.6"/>
<line x1="339.15" y1="616.25" x2="360.40" y2="616.25" stroke="#fff" stroke-opacity="0.15" stroke-width="0.6"/>
<line x1="105.40" y1="635.31" x2="126.65" y2="635.31" stroke="#fff" stroke-opacity="0.05" stroke-width="0.6"/>
<line x1="126.65" y1="635.31" x2="147.90" y2="635.31" stroke="#fff" stroke-opacity="0.05" stroke-width="0.6"/>
<line x1="147.90" y1="635.31" x2="169.15" y2="635.31" stroke="#fff" stroke-opacity="0.05" stroke-width="0.6"/>
<line x1="169.15" y1="635.31" x2="190.40" y2="635.31" stroke="#fff" stroke-opacity="0.05" stroke-width="0.6"/>
<line x1="190.40" y1="635.31" x2="211.65" y2="635.31" stroke="#fff" stroke-opacity="0.05" stroke-width="0.6"/>
<line x1="211.65" y1="635.31" x2="232.90" y2="635.31" stroke="#fff" stroke-opacity="0.05" stroke-width="0.6"/>
<line x1="232.90" y1="635.31" x2="254.15" y2="635.31" stroke="#fff" stroke-opacity="0.15" stroke-width="0.6"/>
<line x1="254.15" y1="635.31" x2="275.40" y2="635.31" stroke="#fff" stroke-opacity="0.15" stroke-width="0.6"/>
<line x1="275.40" y1="635.31" x2="296.65" y2="635.31" stroke="#fff" stroke-opacity="0.15" stroke-width="0.6"/>
<line x1="296.65" y1="635.31" x2="317.90" y2="635.31" stroke="#fff" stroke-opacity="0.15" stroke-width="0.6"/>
<line x1="317.90" y1="635.31" x2="339.15" y2="635.31" stroke="#fff" stroke-opacity="0.15" stroke-width="0.6"/>
<line x1="339.15" y1="635.31" x2="360.40" y2="635.31" stroke="#fff" stroke-opacity="0.15" stroke-width="0.6"/>
<line x1="105.40" y1="654.38" x2="126.65" y2="654.38" stroke="#fff" stroke-opacity="0.05" stroke-width="0.6"/>
<line x1="126.65" y1="654.38" x2="147.90" y2="654.38" stroke="#fff" stroke-opacity="0.05" stroke-width="0.6"/>
<line x1="147.90" y1="654.38" x2="169.15" y2="654.38" stroke="#fff" stroke-opacity="0.05" stroke-width="0.6"/>
<line x1="169.15" y1="654.38" x2="190.40" y2="654.38" stroke="#fff" stroke-opacity="0.05" stroke-width="0.6"/>
<line x1="190.40" y1="654.38" x2="211.65" y2="654.38" stroke="#fff" stroke-opacity="0.05" stroke-width="0.6"/>
<line x1="211.65" y1="654.38" x2="232.90" y2="654.38" stroke="#fff" stroke-opacity="0.05" stroke-width="0.6"/>
<line x1="232.90" y1="654.38" x2="254.15" y2="654.38" stroke="#fff" stroke-opacity="0.15" stroke-width="0.6"/>
<line x1="254.15" y1="654.38" x2="275.40" y2="654.38" stroke="#fff" stroke-opacity="0.15" stroke-width="0.6"/>
<line x1="275.40" y1="654.38" x2="296.65" y2="654.38" stroke="#fff" stroke-opacity="0.15" stroke-width="0.6"/>
<line x1="296.65" y1="654.38" x2="317.90" y2="654.38" stroke="#fff" stroke-opacity="0.15" stroke-width="0.6"/>
<line x1="317.90" y1="654.38" x2="339.15" y2="654.38" stroke="#fff" stroke-opacity="0.15" stroke-width="0.6"/>
<line x1="339.15" y1="654.38" x2="360.40" y2="654.38" stroke="#fff" stroke-opacity="0.15" stroke-width="0.6"/>
<line x1="105.40" y1="673.44" x2="126.65" y2="673.44" stroke="#fff" stroke-opacity="0.05" stroke-width="0.6"/>
<line x1="126.65" y1="673.44" x2="147.90" y2="673.44" stroke="#fff" stroke-opacity="0.05" stroke-width="0.6"/>
<line x1="147.90" y1="673.44" x2="169.15" y2="673.44" stroke="#fff" stroke-opacity="0.05" stroke-width="0.6"/>
<line x1="169.15" y1="673.44" x2="190.40" y2="673.44" stroke="#fff" stroke-opacity="0.05" stroke-width="0.6"/>
<line x1="190.40" y1="673.44" x2="211.65" y2="673.44" stroke="#fff" stroke-opacity="0.05" stroke-width="0.6"/>
<line x1="211.65" y1="673.44" x2="232.90" y2="673.44" stroke="#fff" stroke-opacity="0.05" stroke-width="0.6"/>
<line x1="232.90" y1="673.44" x2="254.15" y2="673.44" stroke="#fff" stroke-opacity="0.15" stroke-width="0.6"/>
<line x1="254.15" y1="673.44" x2="275.40" y2="673.44" stroke="#fff" stroke-opacity="0.15" stroke-width="0.6"/>
<line x1="275.40" y1="673.44" x2="296.65" y2="673.44" stroke="#fff" stroke-opacity="0.15" stroke-width="0.6"/>
<line x1="296.65" y1="673.44" x2="317.90" y2="673.44" stroke="#fff" stroke-opacity="0.15" stroke-width="0.6"/>
<line x1="317.90" y1="673.44" x2="339.15" y2="673.44" stroke="#fff" stroke-opacity="0.15" stroke-width="0.6"/>
<line x1="339.15" y1="673.44" x2="360.40" y2="673.44" stroke="#fff" stroke-opacity="0.15" stroke-width="0.6"/>
<rect x="105.4" y="540" width="254.99999999999997" height="152.5" fill="none" stroke="#111" stroke-width="1.3"/>
<text x="232.9" y="529.6" font-size="15.5" font-weight="700" text-anchor="middle">UOK276</text>
<line x1="116.03" y1="692.5" x2="116.03" y2="697.2" stroke="#111" stroke-width="1.3"/>
<text x="116.03" y="706.5" font-size="8.5" font-weight="700" text-anchor="middle" style="stroke-width:0.3px">0</text>
<line x1="137.28" y1="692.5" x2="137.28" y2="697.2" stroke="#111" stroke-width="1.3"/>
<text x="137.28" y="706.5" font-size="8.5" font-weight="700" text-anchor="middle" style="stroke-width:0.3px">34</text>
<line x1="158.53" y1="692.5" x2="158.53" y2="697.2" stroke="#111" stroke-width="1.3"/>
<text x="158.53" y="706.5" font-size="8.5" font-weight="700" text-anchor="middle" style="stroke-width:0.3px">52</text>
<line x1="179.77" y1="692.5" x2="179.77" y2="697.2" stroke="#111" stroke-width="1.3"/>
<text x="179.77" y="706.5" font-size="8.5" font-weight="700" text-anchor="middle" style="stroke-width:0.3px">78</text>
<line x1="201.02" y1="692.5" x2="201.02" y2="697.2" stroke="#111" stroke-width="1.3"/>
<text x="201.02" y="706.5" font-size="8.5" font-weight="700" text-anchor="middle" style="stroke-width:0.3px">117</text>
<line x1="222.27" y1="692.5" x2="222.27" y2="697.2" stroke="#111" stroke-width="1.3"/>
<text x="222.27" y="706.5" font-size="8.5" font-weight="700" text-anchor="middle" style="stroke-width:0.3px">177</text>
<line x1="243.52" y1="692.5" x2="243.52" y2="697.2" stroke="#111" stroke-width="1.3"/>
<text x="243.52" y="706.5" font-size="8.5" font-weight="700" text-anchor="middle" style="stroke-width:0.3px">263</text>
<line x1="264.77" y1="692.5" x2="264.77" y2="697.2" stroke="#111" stroke-width="1.3"/>
<text x="264.77" y="706.5" font-size="8.5" font-weight="700" text-anchor="middle" style="stroke-width:0.3px">395</text>
<line x1="286.02" y1="692.5" x2="286.02" y2="697.2" stroke="#111" stroke-width="1.3"/>
<text x="286.02" y="706.5" font-size="8.5" font-weight="700" text-anchor="middle" style="stroke-width:0.3px">593</text>
<line x1="307.27" y1="692.5" x2="307.27" y2="697.2" stroke="#111" stroke-width="1.3"/>
<text x="307.27" y="706.5" font-size="8.5" font-weight="700" text-anchor="middle" style="stroke-width:0.3px">889</text>
<line x1="328.52" y1="692.5" x2="328.52" y2="697.2" stroke="#111" stroke-width="1.3"/>
<text x="328.52" y="706.5" font-size="8.5" font-weight="700" text-anchor="middle" style="stroke-width:0.3px">1333</text>
<line x1="349.77" y1="692.5" x2="349.77" y2="697.2" stroke="#111" stroke-width="1.3"/>
<text x="349.77" y="706.5" font-size="8.5" font-weight="700" text-anchor="middle" style="stroke-width:0.3px">2000</text>
<line x1="100.5" y1="549.53" x2="105.4" y2="549.53" stroke="#111" stroke-width="1.3"/>
<text x="99.4" y="552.59" font-size="8.5" font-weight="700" text-anchor="end" style="stroke-width:0.3px">20</text>
<line x1="100.5" y1="568.59" x2="105.4" y2="568.59" stroke="#111" stroke-width="1.3"/>
<text x="99.4" y="571.65" font-size="8.5" font-weight="700" text-anchor="end" style="stroke-width:0.3px">10</text>
<line x1="100.5" y1="587.66" x2="105.4" y2="587.66" stroke="#111" stroke-width="1.3"/>
<text x="99.4" y="590.72" font-size="8.5" font-weight="700" text-anchor="end" style="stroke-width:0.3px">5</text>
<line x1="100.5" y1="606.72" x2="105.4" y2="606.72" stroke="#111" stroke-width="1.3"/>
<text x="99.4" y="609.78" font-size="8.5" font-weight="700" text-anchor="end" style="stroke-width:0.3px">2.5</text>
<line x1="100.5" y1="625.78" x2="105.4" y2="625.78" stroke="#111" stroke-width="1.3"/>
<text x="99.4" y="628.84" font-size="8.5" font-weight="700" text-anchor="end" style="stroke-width:0.3px">1.2</text>
<line x1="100.5" y1="644.84" x2="105.4" y2="644.84" stroke="#111" stroke-width="1.3"/>
<text x="99.4" y="647.90" font-size="8.5" font-weight="700" text-anchor="end" style="stroke-width:0.3px">0.6</text>
<line x1="100.5" y1="663.91" x2="105.4" y2="663.91" stroke="#111" stroke-width="1.3"/>
<text x="99.4" y="666.97" font-size="8.5" font-weight="700" text-anchor="end" style="stroke-width:0.3px">0.3</text>
<line x1="100.5" y1="682.97" x2="105.4" y2="682.97" stroke="#111" stroke-width="1.3"/>
<text x="99.4" y="686.03" font-size="8.5" font-weight="700" text-anchor="end" style="stroke-width:0.3px">0</text>
<text x="232.9" y="732.6" font-size="15.8" font-weight="700" text-anchor="middle">IKE, nM</text>
<text transform="translate(78.2,616.2) rotate(-90)" font-size="15.6" font-weight="700" text-anchor="middle">icFSP1, μM</text>
<defs><linearGradient id="g540" x1="0" y1="1" x2="0" y2="0">
<stop offset="0.0" stop-color="#4b126a"/>
<stop offset="0.05" stop-color="#5a1c78"/>
<stop offset="0.1" stop-color="#582d87"/>
<stop offset="0.2" stop-color="#50509b"/>
<stop offset="0.3" stop-color="#4e73a3"/>
<stop offset="0.4" stop-color="#4b8ca0"/>
<stop offset="0.5" stop-color="#4ea59e"/>
<stop offset="0.6" stop-color="#55be96"/>
<stop offset="0.7" stop-color="#69d787"/>
<stop offset="0.8" stop-color="#96e869"/>
<stop offset="0.9" stop-color="#c8ee4b"/>
<stop offset="0.95" stop-color="#def13c"/>
<stop offset="1.0" stop-color="#eaf140"/>
</linearGradient></defs>
<rect x="367" y="540" width="12" height="152.5" fill="url(#g540)" stroke="#151515" stroke-width="1"/>
<line x1="367" y1="546" x2="369.2" y2="546" stroke="#111" stroke-width="0.9"/>
<line x1="376.8" y1="546" x2="379" y2="546" stroke="#111" stroke-width="0.9"/>
<text x="383" y="548.95" font-size="8.2" fill="#222">100</text>
<line x1="367" y1="574.6" x2="369.2" y2="574.6" stroke="#111" stroke-width="0.9"/>
<line x1="376.8" y1="574.6" x2="379" y2="574.6" stroke="#111" stroke-width="0.9"/>
<text x="383" y="577.55" font-size="8.2" fill="#222">80</text>
<line x1="367" y1="603.2" x2="369.2" y2="603.2" stroke="#111" stroke-width="0.9"/>
<line x1="376.8" y1="603.2" x2="379" y2="603.2" stroke="#111" stroke-width="0.9"/>
<text x="383" y="606.15" font-size="8.2" fill="#222">60</text>
<line x1="367" y1="631.8" x2="369.2" y2="631.8" stroke="#111" stroke-width="0.9"/>
<line x1="376.8" y1="631.8" x2="379" y2="631.8" stroke="#111" stroke-width="0.9"/>
<text x="383" y="634.75" font-size="8.2" fill="#222">40</text>
<line x1="367" y1="660.4" x2="369.2" y2="660.4" stroke="#111" stroke-width="0.9"/>
<line x1="376.8" y1="660.4" x2="379" y2="660.4" stroke="#111" stroke-width="0.9"/>
<text x="383" y="663.35" font-size="8.2" fill="#222">20</text>
<line x1="367" y1="689" x2="369.2" y2="689" stroke="#111" stroke-width="0.9"/>
<line x1="376.8" y1="689" x2="379" y2="689" stroke="#111" stroke-width="0.9"/>
<text x="383" y="691.95" font-size="8.2" fill="#222">0</text>
<text transform="translate(411,616.2) rotate(-90)" font-size="12.3" font-weight="700" text-anchor="middle">% Cell Viability</text>
<rect x="105.60" y="797.40" width="21.53" height="19.38" fill="#b9ec54"/>
<rect x="126.83" y="797.40" width="21.53" height="19.38" fill="#d1ef45"/>
<rect x="148.07" y="797.40" width="21.53" height="19.38" fill="#61cd8d"/>
<rect x="169.30" y="797.40" width="21.53" height="19.38" fill="#592681"/>
<rect x="190.53" y="797.40" width="21.53" height="19.38" fill="#541872"/>
<rect x="211.77" y="797.40" width="21.53" height="19.38" fill="#541872"/>
<rect x="233.00" y="797.40" width="21.53" height="19.38" fill="#571a75"/>
<rect x="254.23" y="797.40" width="21.53" height="19.38" fill="#571a75"/>
<rect x="275.47" y="797.40" width="21.53" height="19.38" fill="#571a75"/>
<rect x="296.70" y="797.40" width="21.53" height="19.38" fill="#571a75"/>
<rect x="317.93" y="797.40" width="21.53" height="19.38" fill="#571a75"/>
<rect x="339.17" y="797.40" width="21.53" height="19.38" fill="#5a1c78"/>
<rect x="105.60" y="816.48" width="21.53" height="19.38" fill="#d5f042"/>
<rect x="126.83" y="816.48" width="21.53" height="19.38" fill="#e3f13e"/>
<rect x="148.07" y="816.48" width="21.53" height="19.38" fill="#daf03f"/>
<rect x="169.30" y="816.48" width="21.53" height="19.38" fill="#592681"/>
<rect x="190.53" y="816.48" width="21.53" height="19.38" fill="#511670"/>
<rect x="211.77" y="816.48" width="21.53" height="19.38" fill="#541872"/>
<rect x="233.00" y="816.48" width="21.53" height="19.38" fill="#541872"/>
<rect x="254.23" y="816.48" width="21.53" height="19.38" fill="#571a75"/>
<rect x="275.47" y="816.48" width="21.53" height="19.38" fill="#571a75"/>
<rect x="296.70" y="816.48" width="21.53" height="19.38" fill="#571a75"/>
<rect x="317.93" y="816.48" width="21.53" height="19.38" fill="#571a75"/>
<rect x="339.17" y="816.48" width="21.53" height="19.38" fill="#5a1c78"/>
<rect x="105.60" y="835.55" width="21.53" height="19.38" fill="#d5f042"/>
<rect x="126.83" y="835.55" width="21.53" height="19.38" fill="#daf03f"/>
<rect x="148.07" y="835.55" width="21.53" height="19.38" fill="#e3f13e"/>
<rect x="169.30" y="835.55" width="21.53" height="19.38" fill="#4f5e9e"/>
<rect x="190.53" y="835.55" width="21.53" height="19.38" fill="#541872"/>
<rect x="211.77" y="835.55" width="21.53" height="19.38" fill="#541872"/>
<rect x="233.00" y="835.55" width="21.53" height="19.38" fill="#571a75"/>
<rect x="254.23" y="835.55" width="21.53" height="19.38" fill="#571a75"/>
<rect x="275.47" y="835.55" width="21.53" height="19.38" fill="#571a75"/>
<rect x="296.70" y="835.55" width="21.53" height="19.38" fill="#571a75"/>
<rect x="317.93" y="835.55" width="21.53" height="19.38" fill="#571a75"/>
<rect x="339.17" y="835.55" width="21.53" height="19.38" fill="#5a1c78"/>
<rect x="105.60" y="854.62" width="21.53" height="19.38" fill="#ccef48"/>
<rect x="126.83" y="854.62" width="21.53" height="19.38" fill="#daf03f"/>
<rect x="148.07" y="854.62" width="21.53" height="19.38" fill="#d5f042"/>
<rect x="169.30" y="854.62" width="21.53" height="19.38" fill="#54b998"/>
<rect x="190.53" y="854.62" width="21.53" height="19.38" fill="#541872"/>
<rect x="211.77" y="854.62" width="21.53" height="19.38" fill="#541872"/>
<rect x="233.00" y="854.62" width="21.53" height="19.38" fill="#571a75"/>
<rect x="254.23" y="854.62" width="21.53" height="19.38" fill="#571a75"/>
<rect x="275.47" y="854.62" width="21.53" height="19.38" fill="#571a75"/>
<rect x="296.70" y="854.62" width="21.53" height="19.38" fill="#571a75"/>
<rect x="317.93" y="854.62" width="21.53" height="19.38" fill="#571a75"/>
<rect x="339.17" y="854.62" width="21.53" height="19.38" fill="#5a1c78"/>
<rect x="105.60" y="873.70" width="21.53" height="19.38" fill="#e5f13e"/>
<rect x="126.83" y="873.70" width="21.53" height="19.38" fill="#e3f13e"/>
<rect x="148.07" y="873.70" width="21.53" height="19.38" fill="#e0f13d"/>
<rect x="169.30" y="873.70" width="21.53" height="19.38" fill="#def13c"/>
<rect x="190.53" y="873.70" width="21.53" height="19.38" fill="#50509b"/>
<rect x="211.77" y="873.70" width="21.53" height="19.38" fill="#5a1c78"/>
<rect x="233.00" y="873.70" width="21.53" height="19.38" fill="#5a1c78"/>
<rect x="254.23" y="873.70" width="21.53" height="19.38" fill="#5a1c78"/>
<rect x="275.47" y="873.70" width="21.53" height="19.38" fill="#5a1c78"/>
<rect x="296.70" y="873.70" width="21.53" height="19.38" fill="#5a1c78"/>
<rect x="317.93" y="873.70" width="21.53" height="19.38" fill="#5a1c78"/>
<rect x="339.17" y="873.70" width="21.53" height="19.38" fill="#59237e"/>
<rect x="105.60" y="892.77" width="21.53" height="19.38" fill="#def13c"/>
<rect x="126.83" y="892.77" width="21.53" height="19.38" fill="#e5f13e"/>
<rect x="148.07" y="892.77" width="21.53" height="19.38" fill="#e5f13e"/>
<rect x="169.30" y="892.77" width="21.53" height="19.38" fill="#e3f13e"/>
<rect x="190.53" y="892.77" width="21.53" height="19.38" fill="#52b499"/>
<rect x="211.77" y="892.77" width="21.53" height="19.38" fill="#541872"/>
<rect x="233.00" y="892.77" width="21.53" height="19.38" fill="#5a1c78"/>
<rect x="254.23" y="892.77" width="21.53" height="19.38" fill="#5a1c78"/>
<rect x="275.47" y="892.77" width="21.53" height="19.38" fill="#571a75"/>
<rect x="296.70" y="892.77" width="21.53" height="19.38" fill="#571a75"/>
<rect x="317.93" y="892.77" width="21.53" height="19.38" fill="#5a1c78"/>
<rect x="339.17" y="892.77" width="21.53" height="19.38" fill="#59237e"/>
<rect x="105.60" y="911.85" width="21.53" height="19.38" fill="#def13c"/>
<rect x="126.83" y="911.85" width="21.53" height="19.38" fill="#e5f13e"/>
<rect x="148.07" y="911.85" width="21.53" height="19.38" fill="#e5f13e"/>
<rect x="169.30" y="911.85" width="21.53" height="19.38" fill="#e5f13e"/>
<rect x="190.53" y="911.85" width="21.53" height="19.38" fill="#a5ea60"/>
<rect x="211.77" y="911.85" width="21.53" height="19.38" fill="#5a1c78"/>
<rect x="233.00" y="911.85" width="21.53" height="19.38" fill="#5a1c78"/>
<rect x="254.23" y="911.85" width="21.53" height="19.38" fill="#5a1c78"/>
<rect x="275.47" y="911.85" width="21.53" height="19.38" fill="#5a1c78"/>
<rect x="296.70" y="911.85" width="21.53" height="19.38" fill="#571a75"/>
<rect x="317.93" y="911.85" width="21.53" height="19.38" fill="#5a1c78"/>
<rect x="339.17" y="911.85" width="21.53" height="19.38" fill="#59237e"/>
<rect x="105.60" y="930.92" width="21.53" height="19.38" fill="#b9ec54"/>
<rect x="126.83" y="930.92" width="21.53" height="19.38" fill="#c8ee4b"/>
<rect x="148.07" y="930.92" width="21.53" height="19.38" fill="#daf03f"/>
<rect x="169.30" y="930.92" width="21.53" height="19.38" fill="#def13c"/>
<rect x="190.53" y="930.92" width="21.53" height="19.38" fill="#d5f042"/>
<rect x="211.77" y="930.92" width="21.53" height="19.38" fill="#582d87"/>
<rect x="233.00" y="930.92" width="21.53" height="19.38" fill="#5a1c78"/>
<rect x="254.23" y="930.92" width="21.53" height="19.38" fill="#5a1c78"/>
<rect x="275.47" y="930.92" width="21.53" height="19.38" fill="#5a1c78"/>
<rect x="296.70" y="930.92" width="21.53" height="19.38" fill="#5a1c78"/>
<rect x="317.93" y="930.92" width="21.53" height="19.38" fill="#5a1c78"/>
<rect x="339.17" y="930.92" width="21.53" height="19.38" fill="#59237e"/>
<line x1="126.83" y1="797.40" x2="126.83" y2="816.48" stroke="#fff" stroke-opacity="0.05" stroke-width="0.6"/>
<line x1="126.83" y1="816.48" x2="126.83" y2="835.55" stroke="#fff" stroke-opacity="0.05" stroke-width="0.6"/>
<line x1="126.83" y1="835.55" x2="126.83" y2="854.62" stroke="#fff" stroke-opacity="0.05" stroke-width="0.6"/>
<line x1="126.83" y1="854.62" x2="126.83" y2="873.70" stroke="#fff" stroke-opacity="0.05" stroke-width="0.6"/>
<line x1="126.83" y1="873.70" x2="126.83" y2="892.77" stroke="#fff" stroke-opacity="0.05" stroke-width="0.6"/>
<line x1="126.83" y1="892.77" x2="126.83" y2="911.85" stroke="#fff" stroke-opacity="0.05" stroke-width="0.6"/>
<line x1="126.83" y1="911.85" x2="126.83" y2="930.92" stroke="#fff" stroke-opacity="0.05" stroke-width="0.6"/>
<line x1="126.83" y1="930.92" x2="126.83" y2="950.00" stroke="#fff" stroke-opacity="0.05" stroke-width="0.6"/>
<line x1="148.07" y1="797.40" x2="148.07" y2="816.48" stroke="#fff" stroke-opacity="0.05" stroke-width="0.6"/>
<line x1="148.07" y1="816.48" x2="148.07" y2="835.55" stroke="#fff" stroke-opacity="0.05" stroke-width="0.6"/>
<line x1="148.07" y1="835.55" x2="148.07" y2="854.62" stroke="#fff" stroke-opacity="0.05" stroke-width="0.6"/>
<line x1="148.07" y1="854.62" x2="148.07" y2="873.70" stroke="#fff" stroke-opacity="0.05" stroke-width="0.6"/>
<line x1="148.07" y1="873.70" x2="148.07" y2="892.77" stroke="#fff" stroke-opacity="0.05" stroke-width="0.6"/>
<line x1="148.07" y1="892.77" x2="148.07" y2="911.85" stroke="#fff" stroke-opacity="0.05" stroke-width="0.6"/>
<line x1="148.07" y1="911.85" x2="148.07" y2="930.92" stroke="#fff" stroke-opacity="0.05" stroke-width="0.6"/>
<line x1="148.07" y1="930.92" x2="148.07" y2="950.00" stroke="#fff" stroke-opacity="0.05" stroke-width="0.6"/>
<line x1="169.30" y1="797.40" x2="169.30" y2="816.48" stroke="#fff" stroke-opacity="0.05" stroke-width="0.6"/>
<line x1="169.30" y1="816.48" x2="169.30" y2="835.55" stroke="#fff" stroke-opacity="0.05" stroke-width="0.6"/>
<line x1="169.30" y1="835.55" x2="169.30" y2="854.62" stroke="#fff" stroke-opacity="0.05" stroke-width="0.6"/>
<line x1="169.30" y1="854.62" x2="169.30" y2="873.70" stroke="#fff" stroke-opacity="0.05" stroke-width="0.6"/>
<line x1="169.30" y1="873.70" x2="169.30" y2="892.77" stroke="#fff" stroke-opacity="0.05" stroke-width="0.6"/>
<line x1="169.30" y1="892.77" x2="169.30" y2="911.85" stroke="#fff" stroke-opacity="0.05" stroke-width="0.6"/>
<line x1="169.30" y1="911.85" x2="169.30" y2="930.92" stroke="#fff" stroke-opacity="0.05" stroke-width="0.6"/>
<line x1="169.30" y1="930.92" x2="169.30" y2="950.00" stroke="#fff" stroke-opacity="0.05" stroke-width="0.6"/>
<line x1="190.53" y1="797.40" x2="190.53" y2="816.48" stroke="#fff" stroke-opacity="0.15" stroke-width="0.6"/>
<line x1="190.53" y1="816.48" x2="190.53" y2="835.55" stroke="#fff" stroke-opacity="0.15" stroke-width="0.6"/>
<line x1="190.53" y1="835.55" x2="190.53" y2="854.62" stroke="#fff" stroke-opacity="0.15" stroke-width="0.6"/>
<line x1="190.53" y1="854.62" x2="190.53" y2="873.70" stroke="#fff" stroke-opacity="0.05" stroke-width="0.6"/>
<line x1="190.53" y1="873.70" x2="190.53" y2="892.77" stroke="#fff" stroke-opacity="0.05" stroke-width="0.6"/>
<line x1="190.53" y1="892.77" x2="190.53" y2="911.85" stroke="#fff" stroke-opacity="0.05" stroke-width="0.6"/>
<line x1="190.53" y1="911.85" x2="190.53" y2="930.92" stroke="#fff" stroke-opacity="0.05" stroke-width="0.6"/>
<line x1="190.53" y1="930.92" x2="190.53" y2="950.00" stroke="#fff" stroke-opacity="0.05" stroke-width="0.6"/>
<line x1="211.77" y1="797.40" x2="211.77" y2="816.48" stroke="#fff" stroke-opacity="0.15" stroke-width="0.6"/>
<line x1="211.77" y1="816.48" x2="211.77" y2="835.55" stroke="#fff" stroke-opacity="0.15" stroke-width="0.6"/>
<line x1="211.77" y1="835.55" x2="211.77" y2="854.62" stroke="#fff" stroke-opacity="0.15" stroke-width="0.6"/>
<line x1="211.77" y1="854.62" x2="211.77" y2="873.70" stroke="#fff" stroke-opacity="0.15" stroke-width="0.6"/>
<line x1="211.77" y1="873.70" x2="211.77" y2="892.77" stroke="#fff" stroke-opacity="0.15" stroke-width="0.6"/>
<line x1="211.77" y1="892.77" x2="211.77" y2="911.85" stroke="#fff" stroke-opacity="0.05" stroke-width="0.6"/>
<line x1="211.77" y1="911.85" x2="211.77" y2="930.92" stroke="#fff" stroke-opacity="0.05" stroke-width="0.6"/>
<line x1="211.77" y1="930.92" x2="211.77" y2="950.00" stroke="#fff" stroke-opacity="0.05" stroke-width="0.6"/>
<line x1="233.00" y1="797.40" x2="233.00" y2="816.48" stroke="#fff" stroke-opacity="0.15" stroke-width="0.6"/>
<line x1="233.00" y1="816.48" x2="233.00" y2="835.55" stroke="#fff" stroke-opacity="0.15" stroke-width="0.6"/>
<line x1="233.00" y1="835.55" x2="233.00" y2="854.62" stroke="#fff" stroke-opacity="0.15" stroke-width="0.6"/>
<line x1="233.00" y1="854.62" x2="233.00" y2="873.70" stroke="#fff" stroke-opacity="0.15" stroke-width="0.6"/>
<line x1="233.00" y1="873.70" x2="233.00" y2="892.77" stroke="#fff" stroke-opacity="0.15" stroke-width="0.6"/>
<line x1="233.00" y1="892.77" x2="233.00" y2="911.85" stroke="#fff" stroke-opacity="0.15" stroke-width="0.6"/>
<line x1="233.00" y1="911.85" x2="233.00" y2="930.92" stroke="#fff" stroke-opacity="0.15" stroke-width="0.6"/>
<line x1="233.00" y1="930.92" x2="233.00" y2="950.00" stroke="#fff" stroke-opacity="0.15" stroke-width="0.6"/>
<line x1="254.23" y1="797.40" x2="254.23" y2="816.48" stroke="#fff" stroke-opacity="0.15" stroke-width="0.6"/>
<line x1="254.23" y1="816.48" x2="254.23" y2="835.55" stroke="#fff" stroke-opacity="0.15" stroke-width="0.6"/>
<line x1="254.23" y1="835.55" x2="254.23" y2="854.62" stroke="#fff" stroke-opacity="0.15" stroke-width="0.6"/>
<line x1="254.23" y1="854.62" x2="254.23" y2="873.70" stroke="#fff" stroke-opacity="0.15" stroke-width="0.6"/>
<line x1="254.23" y1="873.70" x2="254.23" y2="892.77" stroke="#fff" stroke-opacity="0.15" stroke-width="0.6"/>
<line x1="254.23" y1="892.77" x2="254.23" y2="911.85" stroke="#fff" stroke-opacity="0.15" stroke-width="0.6"/>
<line x1="254.23" y1="911.85" x2="254.23" y2="930.92" stroke="#fff" stroke-opacity="0.15" stroke-width="0.6"/>
<line x1="254.23" y1="930.92" x2="254.23" y2="950.00" stroke="#fff" stroke-opacity="0.15" stroke-width="0.6"/>
<line x1="275.47" y1="797.40" x2="275.47" y2="816.48" stroke="#fff" stroke-opacity="0.15" stroke-width="0.6"/>
<line x1="275.47" y1="816.48" x2="275.47" y2="835.55" stroke="#fff" stroke-opacity="0.15" stroke-width="0.6"/>
<line x1="275.47" y1="835.55" x2="275.47" y2="854.62" stroke="#fff" stroke-opacity="0.15" stroke-width="0.6"/>
<line x1="275.47" y1="854.62" x2="275.47" y2="873.70" stroke="#fff" stroke-opacity="0.15" stroke-width="0.6"/>
<line x1="275.47" y1="873.70" x2="275.47" y2="892.77" stroke="#fff" stroke-opacity="0.15" stroke-width="0.6"/>
<line x1="275.47" y1="892.77" x2="275.47" y2="911.85" stroke="#fff" stroke-opacity="0.15" stroke-width="0.6"/>
<line x1="275.47" y1="911.85" x2="275.47" y2="930.92" stroke="#fff" stroke-opacity="0.15" stroke-width="0.6"/>
<line x1="275.47" y1="930.92" x2="275.47" y2="950.00" stroke="#fff" stroke-opacity="0.15" stroke-width="0.6"/>
<line x1="296.70" y1="797.40" x2="296.70" y2="816.48" stroke="#fff" stroke-opacity="0.15" stroke-width="0.6"/>
<line x1="296.70" y1="816.48" x2="296.70" y2="835.55" stroke="#fff" stroke-opacity="0.15" stroke-width="0.6"/>
<line x1="296.70" y1="835.55" x2="296.70" y2="854.62" stroke="#fff" stroke-opacity="0.15" stroke-width="0.6"/>
<line x1="296.70" y1="854.62" x2="296.70" y2="873.70" stroke="#fff" stroke-opacity="0.15" stroke-width="0.6"/>
<line x1="296.70" y1="873.70" x2="296.70" y2="892.77" stroke="#fff" stroke-opacity="0.15" stroke-width="0.6"/>
<line x1="296.70" y1="892.77" x2="296.70" y2="911.85" stroke="#fff" stroke-opacity="0.15" stroke-width="0.6"/>
<line x1="296.70" y1="911.85" x2="296.70" y2="930.92" stroke="#fff" stroke-opacity="0.15" stroke-width="0.6"/>
<line x1="296.70" y1="930.92" x2="296.70" y2="950.00" stroke="#fff" stroke-opacity="0.15" stroke-width="0.6"/>
<line x1="317.93" y1="797.40" x2="317.93" y2="816.48" stroke="#fff" stroke-opacity="0.15" stroke-width="0.6"/>
<line x1="317.93" y1="816.48" x2="317.93" y2="835.55" stroke="#fff" stroke-opacity="0.15" stroke-width="0.6"/>
<line x1="317.93" y1="835.55" x2="317.93" y2="854.62" stroke="#fff" stroke-opacity="0.15" stroke-width="0.6"/>
<line x1="317.93" y1="854.62" x2="317.93" y2="873.70" stroke="#fff" stroke-opacity="0.15" stroke-width="0.6"/>
<line x1="317.93" y1="873.70" x2="317.93" y2="892.77" stroke="#fff" stroke-opacity="0.15" stroke-width="0.6"/>
<line x1="317.93" y1="892.77" x2="317.93" y2="911.85" stroke="#fff" stroke-opacity="0.15" stroke-width="0.6"/>
<line x1="317.93" y1="911.85" x2="317.93" y2="930.92" stroke="#fff" stroke-opacity="0.15" stroke-width="0.6"/>
<line x1="317.93" y1="930.92" x2="317.93" y2="950.00" stroke="#fff" stroke-opacity="0.15" stroke-width="0.6"/>
<line x1="339.17" y1="797.40" x2="339.17" y2="816.48" stroke="#fff" stroke-opacity="0.15" stroke-width="0.6"/>
<line x1="339.17" y1="816.48" x2="339.17" y2="835.55" stroke="#fff" stroke-opacity="0.15" stroke-width="0.6"/>
<line x1="339.17" y1="835.55" x2="339.17" y2="854.62" stroke="#fff" stroke-opacity="0.15" stroke-width="0.6"/>
<line x1="339.17" y1="854.62" x2="339.17" y2="873.70" stroke="#fff" stroke-opacity="0.15" stroke-width="0.6"/>
<line x1="339.17" y1="873.70" x2="339.17" y2="892.77" stroke="#fff" stroke-opacity="0.15" stroke-width="0.6"/>
<line x1="339.17" y1="892.77" x2="339.17" y2="911.85" stroke="#fff" stroke-opacity="0.15" stroke-width="0.6"/>
<line x1="339.17" y1="911.85" x2="339.17" y2="930.92" stroke="#fff" stroke-opacity="0.15" stroke-width="0.6"/>
<line x1="339.17" y1="930.92" x2="339.17" y2="950.00" stroke="#fff" stroke-opacity="0.15" stroke-width="0.6"/>
<line x1="105.60" y1="816.48" x2="126.83" y2="816.48" stroke="#fff" stroke-opacity="0.05" stroke-width="0.6"/>
<line x1="126.83" y1="816.48" x2="148.07" y2="816.48" stroke="#fff" stroke-opacity="0.05" stroke-width="0.6"/>
<line x1="148.07" y1="816.48" x2="169.30" y2="816.48" stroke="#fff" stroke-opacity="0.05" stroke-width="0.6"/>
<line x1="169.30" y1="816.48" x2="190.53" y2="816.48" stroke="#fff" stroke-opacity="0.15" stroke-width="0.6"/>
<line x1="190.53" y1="816.48" x2="211.77" y2="816.48" stroke="#fff" stroke-opacity="0.15" stroke-width="0.6"/>
<line x1="211.77" y1="816.48" x2="233.00" y2="816.48" stroke="#fff" stroke-opacity="0.15" stroke-width="0.6"/>
<line x1="233.00" y1="816.48" x2="254.23" y2="816.48" stroke="#fff" stroke-opacity="0.15" stroke-width="0.6"/>
<line x1="254.23" y1="816.48" x2="275.47" y2="816.48" stroke="#fff" stroke-opacity="0.15" stroke-width="0.6"/>
<line x1="275.47" y1="816.48" x2="296.70" y2="816.48" stroke="#fff" stroke-opacity="0.15" stroke-width="0.6"/>
<line x1="296.70" y1="816.48" x2="317.93" y2="816.48" stroke="#fff" stroke-opacity="0.15" stroke-width="0.6"/>
<line x1="317.93" y1="816.48" x2="339.17" y2="816.48" stroke="#fff" stroke-opacity="0.15" stroke-width="0.6"/>
<line x1="339.17" y1="816.48" x2="360.40" y2="816.48" stroke="#fff" stroke-opacity="0.15" stroke-width="0.6"/>
<line x1="105.60" y1="835.55" x2="126.83" y2="835.55" stroke="#fff" stroke-opacity="0.05" stroke-width="0.6"/>
<line x1="126.83" y1="835.55" x2="148.07" y2="835.55" stroke="#fff" stroke-opacity="0.05" stroke-width="0.6"/>
<line x1="148.07" y1="835.55" x2="169.30" y2="835.55" stroke="#fff" stroke-opacity="0.05" stroke-width="0.6"/>
<line x1="169.30" y1="835.55" x2="190.53" y2="835.55" stroke="#fff" stroke-opacity="0.15" stroke-width="0.6"/>
<line x1="190.53" y1="835.55" x2="211.77" y2="835.55" stroke="#fff" stroke-opacity="0.15" stroke-width="0.6"/>
<line x1="211.77" y1="835.55" x2="233.00" y2="835.55" stroke="#fff" stroke-opacity="0.15" stroke-width="0.6"/>
<line x1="233.00" y1="835.55" x2="254.23" y2="835.55" stroke="#fff" stroke-opacity="0.15" stroke-width="0.6"/>
<line x1="254.23" y1="835.55" x2="275.47" y2="835.55" stroke="#fff" stroke-opacity="0.15" stroke-width="0.6"/>
<line x1="275.47" y1="835.55" x2="296.70" y2="835.55" stroke="#fff" stroke-opacity="0.15" stroke-width="0.6"/>
<line x1="296.70" y1="835.55" x2="317.93" y2="835.55" stroke="#fff" stroke-opacity="0.15" stroke-width="0.6"/>
<line x1="317.93" y1="835.55" x2="339.17" y2="835.55" stroke="#fff" stroke-opacity="0.15" stroke-width="0.6"/>
<line x1="339.17" y1="835.55" x2="360.40" y2="835.55" stroke="#fff" stroke-opacity="0.15" stroke-width="0.6"/>
<line x1="105.60" y1="854.62" x2="126.83" y2="854.62" stroke="#fff" stroke-opacity="0.05" stroke-width="0.6"/>
<line x1="126.83" y1="854.62" x2="148.07" y2="854.62" stroke="#fff" stroke-opacity="0.05" stroke-width="0.6"/>
<line x1="148.07" y1="854.62" x2="169.30" y2="854.62" stroke="#fff" stroke-opacity="0.05" stroke-width="0.6"/>
<line x1="169.30" y1="854.62" x2="190.53" y2="854.62" stroke="#fff" stroke-opacity="0.05" stroke-width="0.6"/>
<line x1="190.53" y1="854.62" x2="211.77" y2="854.62" stroke="#fff" stroke-opacity="0.15" stroke-width="0.6"/>
<line x1="211.77" y1="854.62" x2="233.00" y2="854.62" stroke="#fff" stroke-opacity="0.15" stroke-width="0.6"/>
<line x1="233.00" y1="854.62" x2="254.23" y2="854.62" stroke="#fff" stroke-opacity="0.15" stroke-width="0.6"/>
<line x1="254.23" y1="854.62" x2="275.47" y2="854.62" stroke="#fff" stroke-opacity="0.15" stroke-width="0.6"/>
<line x1="275.47" y1="854.62" x2="296.70" y2="854.62" stroke="#fff" stroke-opacity="0.15" stroke-width="0.6"/>
<line x1="296.70" y1="854.62" x2="317.93" y2="854.62" stroke="#fff" stroke-opacity="0.15" stroke-width="0.6"/>
<line x1="317.93" y1="854.62" x2="339.17" y2="854.62" stroke="#fff" stroke-opacity="0.15" stroke-width="0.6"/>
<line x1="339.17" y1="854.62" x2="360.40" y2="854.62" stroke="#fff" stroke-opacity="0.15" stroke-width="0.6"/>
<line x1="105.60" y1="873.70" x2="126.83" y2="873.70" stroke="#fff" stroke-opacity="0.05" stroke-width="0.6"/>
<line x1="126.83" y1="873.70" x2="148.07" y2="873.70" stroke="#fff" stroke-opacity="0.05" stroke-width="0.6"/>
<line x1="148.07" y1="873.70" x2="169.30" y2="873.70" stroke="#fff" stroke-opacity="0.05" stroke-width="0.6"/>
<line x1="169.30" y1="873.70" x2="190.53" y2="873.70" stroke="#fff" stroke-opacity="0.05" stroke-width="0.6"/>
<line x1="190.53" y1="873.70" x2="211.77" y2="873.70" stroke="#fff" stroke-opacity="0.15" stroke-width="0.6"/>
<line x1="211.77" y1="873.70" x2="233.00" y2="873.70" stroke="#fff" stroke-opacity="0.15" stroke-width="0.6"/>
<line x1="233.00" y1="873.70" x2="254.23" y2="873.70" stroke="#fff" stroke-opacity="0.15" stroke-width="0.6"/>
<line x1="254.23" y1="873.70" x2="275.47" y2="873.70" stroke="#fff" stroke-opacity="0.15" stroke-width="0.6"/>
<line x1="275.47" y1="873.70" x2="296.70" y2="873.70" stroke="#fff" stroke-opacity="0.15" stroke-width="0.6"/>
<line x1="296.70" y1="873.70" x2="317.93" y2="873.70" stroke="#fff" stroke-opacity="0.15" stroke-width="0.6"/>
<line x1="317.93" y1="873.70" x2="339.17" y2="873.70" stroke="#fff" stroke-opacity="0.15" stroke-width="0.6"/>
<line x1="339.17" y1="873.70" x2="360.40" y2="873.70" stroke="#fff" stroke-opacity="0.15" stroke-width="0.6"/>
<line x1="105.60" y1="892.77" x2="126.83" y2="892.77" stroke="#fff" stroke-opacity="0.05" stroke-width="0.6"/>
<line x1="126.83" y1="892.77" x2="148.07" y2="892.77" stroke="#fff" stroke-opacity="0.05" stroke-width="0.6"/>
<line x1="148.07" y1="892.77" x2="169.30" y2="892.77" stroke="#fff" stroke-opacity="0.05" stroke-width="0.6"/>
<line x1="169.30" y1="892.77" x2="190.53" y2="892.77" stroke="#fff" stroke-opacity="0.05" stroke-width="0.6"/>
<line x1="190.53" y1="892.77" x2="211.77" y2="892.77" stroke="#fff" stroke-opacity="0.05" stroke-width="0.6"/>
<line x1="211.77" y1="892.77" x2="233.00" y2="892.77" stroke="#fff" stroke-opacity="0.15" stroke-width="0.6"/>
<line x1="233.00" y1="892.77" x2="254.23" y2="892.77" stroke="#fff" stroke-opacity="0.15" stroke-width="0.6"/>
<line x1="254.23" y1="892.77" x2="275.47" y2="892.77" stroke="#fff" stroke-opacity="0.15" stroke-width="0.6"/>
<line x1="275.47" y1="892.77" x2="296.70" y2="892.77" stroke="#fff" stroke-opacity="0.15" stroke-width="0.6"/>
<line x1="296.70" y1="892.77" x2="317.93" y2="892.77" stroke="#fff" stroke-opacity="0.15" stroke-width="0.6"/>
<line x1="317.93" y1="892.77" x2="339.17" y2="892.77" stroke="#fff" stroke-opacity="0.15" stroke-width="0.6"/>
<line x1="339.17" y1="892.77" x2="360.40" y2="892.77" stroke="#fff" stroke-opacity="0.15" stroke-width="0.6"/>
<line x1="105.60" y1="911.85" x2="126.83" y2="911.85" stroke="#fff" stroke-opacity="0.05" stroke-width="0.6"/>
<line x1="126.83" y1="911.85" x2="148.07" y2="911.85" stroke="#fff" stroke-opacity="0.05" stroke-width="0.6"/>
<line x1="148.07" y1="911.85" x2="169.30" y2="911.85" stroke="#fff" stroke-opacity="0.05" stroke-width="0.6"/>
<line x1="169.30" y1="911.85" x2="190.53" y2="911.85" stroke="#fff" stroke-opacity="0.05" stroke-width="0.6"/>
<line x1="190.53" y1="911.85" x2="211.77" y2="911.85" stroke="#fff" stroke-opacity="0.05" stroke-width="0.6"/>
<line x1="211.77" y1="911.85" x2="233.00" y2="911.85" stroke="#fff" stroke-opacity="0.15" stroke-width="0.6"/>
<line x1="233.00" y1="911.85" x2="254.23" y2="911.85" stroke="#fff" stroke-opacity="0.15" stroke-width="0.6"/>
<line x1="254.23" y1="911.85" x2="275.47" y2="911.85" stroke="#fff" stroke-opacity="0.15" stroke-width="0.6"/>
<line x1="275.47" y1="911.85" x2="296.70" y2="911.85" stroke="#fff" stroke-opacity="0.15" stroke-width="0.6"/>
<line x1="296.70" y1="911.85" x2="317.93" y2="911.85" stroke="#fff" stroke-opacity="0.15" stroke-width="0.6"/>
<line x1="317.93" y1="911.85" x2="339.17" y2="911.85" stroke="#fff" stroke-opacity="0.15" stroke-width="0.6"/>
<line x1="339.17" y1="911.85" x2="360.40" y2="911.85" stroke="#fff" stroke-opacity="0.15" stroke-width="0.6"/>
<line x1="105.60" y1="930.92" x2="126.83" y2="930.92" stroke="#fff" stroke-opacity="0.05" stroke-width="0.6"/>
<line x1="126.83" y1="930.92" x2="148.07" y2="930.92" stroke="#fff" stroke-opacity="0.05" stroke-width="0.6"/>
<line x1="148.07" y1="930.92" x2="169.30" y2="930.92" stroke="#fff" stroke-opacity="0.05" stroke-width="0.6"/>
<line x1="169.30" y1="930.92" x2="190.53" y2="930.92" stroke="#fff" stroke-opacity="0.05" stroke-width="0.6"/>
<line x1="190.53" y1="930.92" x2="211.77" y2="930.92" stroke="#fff" stroke-opacity="0.05" stroke-width="0.6"/>
<line x1="211.77" y1="930.92" x2="233.00" y2="930.92" stroke="#fff" stroke-opacity="0.15" stroke-width="0.6"/>
<line x1="233.00" y1="930.92" x2="254.23" y2="930.92" stroke="#fff" stroke-opacity="0.15" stroke-width="0.6"/>
<line x1="254.23" y1="930.92" x2="275.47" y2="930.92" stroke="#fff" stroke-opacity="0.15" stroke-width="0.6"/>
<line x1="275.47" y1="930.92" x2="296.70" y2="930.92" stroke="#fff" stroke-opacity="0.15" stroke-width="0.6"/>
<line x1="296.70" y1="930.92" x2="317.93" y2="930.92" stroke="#fff" stroke-opacity="0.15" stroke-width="0.6"/>
<line x1="317.93" y1="930.92" x2="339.17" y2="930.92" stroke="#fff" stroke-opacity="0.15" stroke-width="0.6"/>
<line x1="339.17" y1="930.92" x2="360.40" y2="930.92" stroke="#fff" stroke-opacity="0.15" stroke-width="0.6"/>
<rect x="105.6" y="797.4" width="254.79999999999998" height="152.60000000000002" fill="none" stroke="#111" stroke-width="1.3"/>
<text x="233.0" y="791.6" font-size="15.5" font-weight="700" text-anchor="middle">RCJ-T2</text>
<line x1="116.22" y1="950" x2="116.22" y2="954.7" stroke="#111" stroke-width="1.3"/>
<text x="116.22" y="962.8" font-size="7.2" font-weight="700" text-anchor="middle" style="stroke-width:0.2px">0</text>
<line x1="137.45" y1="950" x2="137.45" y2="954.7" stroke="#111" stroke-width="1.3"/>
<text x="137.45" y="962.8" font-size="7.2" font-weight="700" text-anchor="middle" style="stroke-width:0.2px">9</text>
<line x1="158.68" y1="950" x2="158.68" y2="954.7" stroke="#111" stroke-width="1.3"/>
<text x="158.68" y="962.8" font-size="7.2" font-weight="700" text-anchor="middle" style="stroke-width:0.2px">17</text>
<line x1="179.92" y1="950" x2="179.92" y2="954.7" stroke="#111" stroke-width="1.3"/>
<text x="179.92" y="962.8" font-size="7.2" font-weight="700" text-anchor="middle" style="stroke-width:0.2px">28</text>
<line x1="201.15" y1="950" x2="201.15" y2="954.7" stroke="#111" stroke-width="1.3"/>
<text x="201.15" y="962.8" font-size="7.2" font-weight="700" text-anchor="middle" style="stroke-width:0.2px">48</text>
<line x1="222.38" y1="950" x2="222.38" y2="954.7" stroke="#111" stroke-width="1.3"/>
<text x="222.38" y="962.8" font-size="7.2" font-weight="700" text-anchor="middle" style="stroke-width:0.2px">82</text>
<line x1="243.62" y1="950" x2="243.62" y2="954.7" stroke="#111" stroke-width="1.3"/>
<text x="243.62" y="962.8" font-size="7.2" font-weight="700" text-anchor="middle" style="stroke-width:0.2px">140</text>
<line x1="264.85" y1="950" x2="264.85" y2="954.7" stroke="#111" stroke-width="1.3"/>
<text x="264.85" y="962.8" font-size="7.2" font-weight="700" text-anchor="middle" style="stroke-width:0.2px">239</text>
<line x1="286.08" y1="950" x2="286.08" y2="954.7" stroke="#111" stroke-width="1.3"/>
<text x="286.08" y="962.8" font-size="7.2" font-weight="700" text-anchor="middle" style="stroke-width:0.2px">407</text>
<line x1="307.32" y1="950" x2="307.32" y2="954.7" stroke="#111" stroke-width="1.3"/>
<text x="307.32" y="962.8" font-size="7.2" font-weight="700" text-anchor="middle" style="stroke-width:0.2px">692</text>
<line x1="328.55" y1="950" x2="328.55" y2="954.7" stroke="#111" stroke-width="1.3"/>
<text x="328.55" y="962.8" font-size="7.2" font-weight="700" text-anchor="middle" style="stroke-width:0.2px">1176</text>
<line x1="349.78" y1="950" x2="349.78" y2="954.7" stroke="#111" stroke-width="1.3"/>
<text x="349.78" y="962.8" font-size="7.2" font-weight="700" text-anchor="middle" style="stroke-width:0.2px">2000</text>
<line x1="100.69999999999999" y1="806.94" x2="105.6" y2="806.94" stroke="#111" stroke-width="1.3"/>
<text x="99.2" y="809.53" font-size="7.2" font-weight="700" text-anchor="end" style="stroke-width:0.2px">20</text>
<line x1="100.69999999999999" y1="826.01" x2="105.6" y2="826.01" stroke="#111" stroke-width="1.3"/>
<text x="99.2" y="828.60" font-size="7.2" font-weight="700" text-anchor="end" style="stroke-width:0.2px">10</text>
<line x1="100.69999999999999" y1="845.09" x2="105.6" y2="845.09" stroke="#111" stroke-width="1.3"/>
<text x="99.2" y="847.68" font-size="7.2" font-weight="700" text-anchor="end" style="stroke-width:0.2px">5.0</text>
<line x1="100.69999999999999" y1="864.16" x2="105.6" y2="864.16" stroke="#111" stroke-width="1.3"/>
<text x="99.2" y="866.75" font-size="7.2" font-weight="700" text-anchor="end" style="stroke-width:0.2px">2.5</text>
<line x1="100.69999999999999" y1="883.24" x2="105.6" y2="883.24" stroke="#111" stroke-width="1.3"/>
<text x="99.2" y="885.83" font-size="7.2" font-weight="700" text-anchor="end" style="stroke-width:0.2px">1.2</text>
<line x1="100.69999999999999" y1="902.31" x2="105.6" y2="902.31" stroke="#111" stroke-width="1.3"/>
<text x="99.2" y="904.90" font-size="7.2" font-weight="700" text-anchor="end" style="stroke-width:0.2px">0.6</text>
<line x1="100.69999999999999" y1="921.39" x2="105.6" y2="921.39" stroke="#111" stroke-width="1.3"/>
<text x="99.2" y="923.98" font-size="7.2" font-weight="700" text-anchor="end" style="stroke-width:0.2px">0.3</text>
<line x1="100.69999999999999" y1="940.46" x2="105.6" y2="940.46" stroke="#111" stroke-width="1.3"/>
<text x="99.2" y="943.05" font-size="7.2" font-weight="700" text-anchor="end" style="stroke-width:0.2px">0.0</text>
<text x="233.0" y="982" font-size="15.8" font-weight="700" text-anchor="middle">IKE (nM)</text>
<text transform="translate(81.3,873.7) rotate(-90)" font-size="15.6" font-weight="700" text-anchor="middle">icFSP1 (μM)</text>
<defs><linearGradient id="g797" x1="0" y1="1" x2="0" y2="0">
<stop offset="0.0" stop-color="#4b126a"/>
<stop offset="0.05" stop-color="#5a1c78"/>
<stop offset="0.1" stop-color="#582d87"/>
<stop offset="0.2" stop-color="#50509b"/>
<stop offset="0.3" stop-color="#4e73a3"/>
<stop offset="0.4" stop-color="#4b8ca0"/>
<stop offset="0.5" stop-color="#4ea59e"/>
<stop offset="0.6" stop-color="#55be96"/>
<stop offset="0.7" stop-color="#69d787"/>
<stop offset="0.8" stop-color="#96e869"/>
<stop offset="0.9" stop-color="#c8ee4b"/>
<stop offset="0.95" stop-color="#def13c"/>
<stop offset="1.0" stop-color="#eaf140"/>
</linearGradient></defs>
<rect x="371.8" y="797.4" width="12.199999999999989" height="152.60000000000002" fill="url(#g797)" stroke="#151515" stroke-width="1"/>
<line x1="371.8" y1="817.6" x2="374.0" y2="817.6" stroke="#111" stroke-width="0.9"/>
<line x1="381.8" y1="817.6" x2="384" y2="817.6" stroke="#111" stroke-width="0.9"/>
<text x="388" y="820.55" font-size="8.2" fill="#222">1.0</text>
<line x1="371.8" y1="842.8" x2="374.0" y2="842.8" stroke="#111" stroke-width="0.9"/>
<line x1="381.8" y1="842.8" x2="384" y2="842.8" stroke="#111" stroke-width="0.9"/>
<text x="388" y="845.75" font-size="8.2" fill="#222">0.8</text>
<line x1="371.8" y1="868" x2="374.0" y2="868" stroke="#111" stroke-width="0.9"/>
<line x1="381.8" y1="868" x2="384" y2="868" stroke="#111" stroke-width="0.9"/>
<text x="388" y="870.95" font-size="8.2" fill="#222">0.6</text>
<line x1="371.8" y1="893.2" x2="374.0" y2="893.2" stroke="#111" stroke-width="0.9"/>
<line x1="381.8" y1="893.2" x2="384" y2="893.2" stroke="#111" stroke-width="0.9"/>
<text x="388" y="896.15" font-size="8.2" fill="#222">0.4</text>
<line x1="371.8" y1="918.4" x2="374.0" y2="918.4" stroke="#111" stroke-width="0.9"/>
<line x1="381.8" y1="918.4" x2="384" y2="918.4" stroke="#111" stroke-width="0.9"/>
<text x="388" y="921.35" font-size="8.2" fill="#222">0.2</text>
<line x1="371.8" y1="943.6" x2="374.0" y2="943.6" stroke="#111" stroke-width="0.9"/>
<line x1="381.8" y1="943.6" x2="384" y2="943.6" stroke="#111" stroke-width="0.9"/>
<text x="388" y="946.55" font-size="8.2" fill="#222">0</text>
<text transform="translate(416,873.7) rotate(-90)" font-size="12.3" font-weight="700" text-anchor="middle">% Cell Viability</text>
<text x="501" y="18.6" font-size="15.4" font-weight="700" >B</text>
<text x="625.5" y="9.2" font-size="11" font-weight="700" text-anchor="middle">UOK276</text>
<path d="M577.15,196.00 L577.15,85.30 L592.95,85.30 L592.95,196.00" fill="#808280" stroke="#161616" stroke-width="2.0"/>
<path d="M603.85,196.00 L603.85,111.08 L619.95,111.08 L619.95,196.00" fill="#f596c3" stroke="#f23c84" stroke-width="1.7"/>
<path d="M611.90,111.97 L611.90,109.19 M608.90,111.97 L614.90,111.97 M608.90,109.19 L614.90,109.19" stroke="#f56fa6" stroke-width="0.9" fill="none"/>
<path d="M630.85,196.00 L630.85,82.92 L646.95,82.92 L646.95,196.00" fill="#8cd2c8" stroke="#3c968c" stroke-width="1.7"/>
<path d="M638.90,84.70 L638.90,80.80 M635.40,84.70 L642.40,84.70 M635.40,80.80 L642.40,80.80" stroke="#4fa49a" stroke-width="0.9" fill="none"/>
<line x1="567.0" y1="56.6" x2="567.0" y2="196.5" stroke="#151515" stroke-width="1.35"/>
<line x1="566.5" y1="196" x2="684" y2="196" stroke="#151515" stroke-width="1.35"/>
<line x1="562.6" y1="84.70" x2="567.0" y2="84.70" stroke="#151515" stroke-width="1.35"/>
<text x="560.8" y="87.80" font-size="8.6" font-weight="700" text-anchor="end" fill="#222" style="stroke-width:0.1px">1.0</text>
<line x1="562.6" y1="140.35" x2="567.0" y2="140.35" stroke="#151515" stroke-width="1.35"/>
<text x="560.8" y="143.45" font-size="8.6" font-weight="700" text-anchor="end" fill="#222" style="stroke-width:0.1px">0.5</text>
<line x1="562.6" y1="196.00" x2="567.0" y2="196.00" stroke="#151515" stroke-width="1.35"/>
<text x="560.8" y="199.10" font-size="8.6" font-weight="700" text-anchor="end" fill="#222" style="stroke-width:0.1px">0.0</text>
<line x1="585.05" y1="196" x2="585.05" y2="200.6" stroke="#151515" stroke-width="1.35"/>
<line x1="611.9" y1="196" x2="611.9" y2="200.6" stroke="#151515" stroke-width="1.35"/>
<line x1="638.9" y1="196" x2="638.9" y2="200.6" stroke="#151515" stroke-width="1.35"/>
<line x1="665.8" y1="196" x2="665.8" y2="200.6" stroke="#151515" stroke-width="1.35"/>
<circle cx="578.3" cy="84.1" r="2.25" fill="#000000"/>
<circle cx="585" cy="84.1" r="2.25" fill="#000000"/>
<circle cx="591.7" cy="84.1" r="2.25" fill="#000000"/>
<circle cx="605.2" cy="111.2" r="2.25" fill="#f23c84"/>
<circle cx="611.9" cy="108.9" r="2.25" fill="#f23c84"/>
<circle cx="618.5" cy="110.5" r="2.25" fill="#f23c84"/>
<circle cx="632" cy="83.5" r="2.25" fill="#3c968c"/>
<circle cx="638.9" cy="80.8" r="2.25" fill="#3c968c"/>
<circle cx="645.5" cy="82.4" r="2.25" fill="#3c968c"/>
<circle cx="659" cy="195.8" r="2.25" fill="#5a28b4"/>
<circle cx="665.6" cy="195.8" r="2.25" fill="#5a28b4"/>
<circle cx="672.4" cy="195.8" r="2.25" fill="#5a28b4"/>
<text transform="translate(543,126.7) rotate(-90)" font-size="9.6" text-anchor="middle" fill="#222" stroke="#222" stroke-width="0.55">Relative Viability</text>
<path d="M584.6,35.6 L584.6,29 L666,29 L666,35.6" fill="none" stroke="#2c2c2c" stroke-width="1"/>
<text x="625.6" y="28.3" font-size="10.4" font-weight="700" text-anchor="middle" fill="#222" letter-spacing="0.3" style="stroke-width:0.55px">****</text>
<path d="M611.6,55 L611.6,48 L666,48 L666,55" fill="none" stroke="#2c2c2c" stroke-width="1"/>
<text x="638.6" y="47.9" font-size="10.4" font-weight="700" text-anchor="middle" fill="#222" letter-spacing="0.3" style="stroke-width:0.55px">****</text>
<path d="M584.6,74.5 L584.6,67.6 L611.6,67.6 L611.6,74.5" fill="none" stroke="#2c2c2c" stroke-width="1"/>
<text x="598.4" y="67.3" font-size="10.4" font-weight="700" text-anchor="middle" fill="#222" letter-spacing="0.3" style="stroke-width:0.55px">****</text>
<path d="M638.4,74.5 L638.4,67.6 L666,67.6 L666,74.5" fill="none" stroke="#2c2c2c" stroke-width="1"/>
<text x="652" y="67.3" font-size="10.4" font-weight="700" text-anchor="middle" fill="#222" letter-spacing="0.3" style="stroke-width:0.55px">****</text>
<text x="568.4" y="214.20000000000002" font-size="9.9" font-weight="700" text-anchor="end" fill="#222">RSL3 (26 nM)</text>
<text x="568.4" y="227.0" font-size="9.9" font-weight="700" text-anchor="end" fill="#222">icFSP1 (20 μM)</text>
<text x="585.05" y="213.4" font-size="10" font-weight="700" text-anchor="middle" fill="#222">-</text>
<text x="611.9" y="213.70000000000002" font-size="9.5" font-weight="700" text-anchor="middle" fill="#222">+</text>
<text x="638.9" y="213.4" font-size="10" font-weight="700" text-anchor="middle" fill="#222">-</text>
<text x="665.8" y="213.70000000000002" font-size="9.5" font-weight="700" text-anchor="middle" fill="#222">+</text>
<text x="585.05" y="226.2" font-size="10" font-weight="700" text-anchor="middle" fill="#222">-</text>
<text x="611.9" y="226.2" font-size="10" font-weight="700" text-anchor="middle" fill="#222">-</text>
<text x="638.9" y="226.5" font-size="9.5" font-weight="700" text-anchor="middle" fill="#222">+</text>
<text x="665.8" y="226.5" font-size="9.5" font-weight="700" text-anchor="middle" fill="#222">+</text>
<text x="501" y="263" font-size="15.4" font-weight="700" >D</text>
<text x="623.5" y="253" font-size="11" font-weight="700" text-anchor="middle">RCJ-T2</text>
<path d="M576.85,442.90 L576.85,333.00 L592.35,333.00 L592.35,442.90" fill="#808280" stroke="#161616" stroke-width="2.0"/>
<path d="M602.60,442.90 L602.60,326.00 L618.40,326.00 L618.40,442.90" fill="#f596c3" stroke="#f23c84" stroke-width="1.7"/>
<path d="M610.50,345.99 L610.50,304.55 M606.70,345.99 L614.30,345.99" stroke="#f56fa6" stroke-width="0.9" fill="none"/>
<path d="M628.60,442.90 L628.60,326.44 L644.40,326.44 L644.40,442.90" fill="#8cd2c8" stroke="#3c968c" stroke-width="1.7"/>
<path d="M636.50,327.98 L636.50,322.01 M631.50,327.98 L641.50,327.98 M631.50,322.01 L641.50,322.01" stroke="#4fa49a" stroke-width="0.9" fill="none"/>
<path d="M654.40,442.90 L654.40,409.32 L670.20,409.32 L670.20,442.90" fill="#a58ccd" stroke="#5a28aa" stroke-width="1.7"/>
<path d="M662.30,410.85 L662.30,404.56 M656.80,410.85 L667.80,410.85 M656.80,404.56 L667.80,404.56" stroke="#6a3cb8" stroke-width="0.9" fill="none"/>
<line x1="567.0" y1="304.6" x2="567.0" y2="443.4" stroke="#151515" stroke-width="1.35"/>
<line x1="566.5" y1="442.9" x2="679.6" y2="442.9" stroke="#151515" stroke-width="1.35"/>
<line x1="562.6" y1="332.40" x2="567.0" y2="332.40" stroke="#151515" stroke-width="1.35"/>
<text x="560.8" y="335.50" font-size="8.6" font-weight="700" text-anchor="end" fill="#222" style="stroke-width:0.1px">1.0</text>
<line x1="562.6" y1="387.65" x2="567.0" y2="387.65" stroke="#151515" stroke-width="1.35"/>
<text x="560.8" y="390.75" font-size="8.6" font-weight="700" text-anchor="end" fill="#222" style="stroke-width:0.1px">0.5</text>
<line x1="562.6" y1="442.90" x2="567.0" y2="442.90" stroke="#151515" stroke-width="1.35"/>
<text x="560.8" y="446.00" font-size="8.6" font-weight="700" text-anchor="end" fill="#222" style="stroke-width:0.1px">0.0</text>
<line x1="584.6" y1="442.9" x2="584.6" y2="447.5" stroke="#151515" stroke-width="1.35"/>
<line x1="610.5" y1="442.9" x2="610.5" y2="447.5" stroke="#151515" stroke-width="1.35"/>
<line x1="636.5" y1="442.9" x2="636.5" y2="447.5" stroke="#151515" stroke-width="1.35"/>
<line x1="662.3" y1="442.9" x2="662.3" y2="447.5" stroke="#151515" stroke-width="1.35"/>
<circle cx="578.6" cy="332.4" r="2.25" fill="#000000"/>
<circle cx="584.6" cy="332.4" r="2.25" fill="#000000"/>
<circle cx="590.6" cy="332.4" r="2.25" fill="#000000"/>
<circle cx="610.6" cy="310" r="2.25" fill="#f23c84"/>
<circle cx="610.6" cy="316" r="2.25" fill="#f23c84"/>
<circle cx="610.6" cy="349" r="2.25" fill="#f23c84"/>
<circle cx="629.9" cy="321.9" r="2.25" fill="#3c968c"/>
<circle cx="643" cy="325.5" r="2.25" fill="#3c968c"/>
<circle cx="630.3" cy="328.8" r="2.25" fill="#3c968c"/>
<circle cx="656" cy="405" r="2.25" fill="#5a28b4"/>
<circle cx="668.6" cy="407.6" r="2.25" fill="#5a28b4"/>
<circle cx="662" cy="412" r="2.25" fill="#5a28b4"/>
<text transform="translate(543.4,374) rotate(-90)" font-size="9.6" text-anchor="middle" fill="#222" stroke="#222" stroke-width="0.55">Relative Viability</text>
<path d="M584,278.6 L584,272 L662.6,272 L662.6,278.6" fill="none" stroke="#2c2c2c" stroke-width="1"/>
<text x="623.6" y="271.7" font-size="10.4" font-weight="700" text-anchor="middle" fill="#222" letter-spacing="0.3" style="stroke-width:0.55px">***</text>
<path d="M610.4,298 L610.4,291.6 L662.6,291.6 L662.6,298" fill="none" stroke="#2c2c2c" stroke-width="1"/>
<text x="636.6" y="291.7" font-size="10.4" font-weight="700" text-anchor="middle" fill="#222" letter-spacing="0.3" style="stroke-width:0.55px">****</text>
<path d="M636.2,317.4 L636.2,311 L662.6,311 L662.6,317.4" fill="none" stroke="#2c2c2c" stroke-width="1"/>
<text x="649.4" y="310.5" font-size="10.4" font-weight="700" text-anchor="middle" fill="#222" letter-spacing="0.3" style="stroke-width:0.55px">****</text>
<text x="568.4" y="461.4" font-size="9.9" font-weight="700" text-anchor="end" fill="#222">RSL3 (18 nM)</text>
<text x="568.4" y="474.0" font-size="9.9" font-weight="700" text-anchor="end" fill="#222">icFSP1 (20 μM)</text>
<text x="584.6" y="460.6" font-size="10" font-weight="700" text-anchor="middle" fill="#222">-</text>
<text x="610.5" y="460.9" font-size="9.5" font-weight="700" text-anchor="middle" fill="#222">+</text>
<text x="636.5" y="460.6" font-size="10" font-weight="700" text-anchor="middle" fill="#222">-</text>
<text x="662.3" y="460.9" font-size="9.5" font-weight="700" text-anchor="middle" fill="#222">+</text>
<text x="584.6" y="473.20000000000005" font-size="10" font-weight="700" text-anchor="middle" fill="#222">-</text>
<text x="610.5" y="473.20000000000005" font-size="10" font-weight="700" text-anchor="middle" fill="#222">-</text>
<text x="636.5" y="473.5" font-size="9.5" font-weight="700" text-anchor="middle" fill="#222">+</text>
<text x="662.3" y="473.5" font-size="9.5" font-weight="700" text-anchor="middle" fill="#222">+</text>
<text x="500.6" y="519" font-size="15.4" font-weight="700" >F</text>
<text x="624" y="512.4" font-size="11" font-weight="700" text-anchor="middle">UOK276</text>
<path d="M577.25,692.60 L577.25,582.00 L592.75,582.00 L592.75,692.60" fill="#808280" stroke="#161616" stroke-width="2.0"/>
<path d="M602.90,692.60 L602.90,608.87 L618.70,608.87 L618.70,692.60" fill="#f596c3" stroke="#f23c84" stroke-width="1.7"/>
<path d="M610.80,609.76 L610.80,605.64 M607.80,609.76 L613.80,609.76 M607.80,605.64 L613.80,605.64" stroke="#f56fa6" stroke-width="0.9" fill="none"/>
<path d="M629.10,692.60 L629.10,594.86 L644.90,594.86 L644.90,692.60" fill="#8cd2c8" stroke="#3c968c" stroke-width="1.7"/>
<path d="M637.00,609.98 L637.00,577.62 M632.80,609.98 L641.20,609.98 M632.80,577.62 L641.20,577.62" stroke="#4fa49a" stroke-width="0.9" fill="none"/>
<path d="M655.10,692.60 L655.10,685.49 L670.90,685.49 L670.90,692.60" fill="#a58ccd" stroke="#5a28aa" stroke-width="1.7"/>
<path d="M663.00,686.48 L663.00,682.04 M659.00,686.48 L667.00,686.48 M659.00,682.04 L667.00,682.04" stroke="#6a3cb8" stroke-width="0.9" fill="none"/>
<line x1="567.3" y1="553.6" x2="567.3" y2="693.1" stroke="#151515" stroke-width="1.35"/>
<line x1="566.8" y1="692.6" x2="680.6" y2="692.6" stroke="#151515" stroke-width="1.35"/>
<line x1="562.9" y1="581.40" x2="567.3" y2="581.40" stroke="#151515" stroke-width="1.35"/>
<text x="562" y="584.50" font-size="8.6" font-weight="700" text-anchor="end" fill="#222" style="stroke-width:0.1px">1.0</text>
<line x1="562.9" y1="637.00" x2="567.3" y2="637.00" stroke="#151515" stroke-width="1.35"/>
<text x="562" y="640.10" font-size="8.6" font-weight="700" text-anchor="end" fill="#222" style="stroke-width:0.1px">0.5</text>
<line x1="562.9" y1="692.60" x2="567.3" y2="692.60" stroke="#151515" stroke-width="1.35"/>
<text x="562" y="695.70" font-size="8.6" font-weight="700" text-anchor="end" fill="#222" style="stroke-width:0.1px">0.0</text>
<line x1="585" y1="692.6" x2="585" y2="697.2" stroke="#151515" stroke-width="1.35"/>
<line x1="610.8" y1="692.6" x2="610.8" y2="697.2" stroke="#151515" stroke-width="1.35"/>
<line x1="637" y1="692.6" x2="637" y2="697.2" stroke="#151515" stroke-width="1.35"/>
<line x1="663" y1="692.6" x2="663" y2="697.2" stroke="#151515" stroke-width="1.35"/>
<circle cx="579" cy="581.4" r="2.25" fill="#000000"/>
<circle cx="585" cy="581.4" r="2.25" fill="#000000"/>
<circle cx="591" cy="581.4" r="2.25" fill="#000000"/>
<circle cx="606.6" cy="605" r="2.25" fill="#f23c84"/>
<circle cx="606.6" cy="609.6" r="2.25" fill="#f23c84"/>
<circle cx="615" cy="608" r="2.25" fill="#f23c84"/>
<circle cx="637" cy="576.6" r="2.25" fill="#3c968c"/>
<circle cx="637" cy="597.4" r="2.25" fill="#3c968c"/>
<circle cx="637" cy="609" r="2.25" fill="#3c968c"/>
<circle cx="659" cy="682" r="2.25" fill="#5a28b4"/>
<circle cx="667.4" cy="683" r="2.25" fill="#5a28b4"/>
<circle cx="658.6" cy="686.6" r="2.25" fill="#5a28b4"/>
<text transform="translate(545,623.3) rotate(-90)" font-size="10" text-anchor="middle" fill="#222" stroke="#222" stroke-width="0.55">Relative Viability</text>
<path d="M584.4,536 L584.4,530 L663.4,530 L663.4,536" fill="none" stroke="#2c2c2c" stroke-width="1"/>
<text x="624" y="529.9" font-size="10.4" font-weight="700" text-anchor="middle" fill="#222" letter-spacing="0.3" style="stroke-width:0.55px">****</text>
<path d="M610.6,553.6 L610.6,547.4 L663.4,547.4 L663.4,553.6" fill="none" stroke="#2c2c2c" stroke-width="1"/>
<text x="637" y="547.5" font-size="10.4" font-weight="700" text-anchor="middle" fill="#222" letter-spacing="0.3" style="stroke-width:0.55px">****</text>
<path d="M584.4,571 L584.4,565 L611,565 L611,571" fill="none" stroke="#2c2c2c" stroke-width="1"/>
<text x="597.6" y="565.3" font-size="10.4" font-weight="700" text-anchor="middle" fill="#222" letter-spacing="0.3" style="stroke-width:0.55px">*</text>
<path d="M636.6,571 L636.6,565 L663.4,565 L663.4,571" fill="none" stroke="#2c2c2c" stroke-width="1"/>
<text x="650" y="565.3" font-size="10.4" font-weight="700" text-anchor="middle" fill="#222" letter-spacing="0.3" style="stroke-width:0.55px">****</text>
<text x="567.6" y="712.1999999999999" font-size="9.9" font-weight="700" text-anchor="end" fill="#222">IKE (177 nM)</text>
<text x="567.6" y="724.8" font-size="9.9" font-weight="700" text-anchor="end" fill="#222">icFSP1 (20 μM)</text>
<text x="585" y="711.4" font-size="10" font-weight="700" text-anchor="middle" fill="#222">-</text>
<text x="610.8" y="711.6999999999999" font-size="9.5" font-weight="700" text-anchor="middle" fill="#222">+</text>
<text x="637" y="711.4" font-size="10" font-weight="700" text-anchor="middle" fill="#222">-</text>
<text x="663" y="711.6999999999999" font-size="9.5" font-weight="700" text-anchor="middle" fill="#222">+</text>
<text x="585" y="724.0" font-size="10" font-weight="700" text-anchor="middle" fill="#222">-</text>
<text x="610.8" y="724.0" font-size="10" font-weight="700" text-anchor="middle" fill="#222">-</text>
<text x="637" y="724.3" font-size="9.5" font-weight="700" text-anchor="middle" fill="#222">+</text>
<text x="663" y="724.3" font-size="9.5" font-weight="700" text-anchor="middle" fill="#222">+</text>
<text x="500.6" y="777.6" font-size="15.4" font-weight="700" >H</text>
<text x="623.3" y="750" font-size="11" font-weight="700" text-anchor="middle">RCJ-T2</text>
<path d="M576.65,949.90 L576.65,840.20 L592.15,840.20 L592.15,949.90" fill="#808280" stroke="#161616" stroke-width="2.0"/>
<path d="M602.10,949.90 L602.10,831.01 L617.90,831.01 L617.90,949.90" fill="#f596c3" stroke="#f23c84" stroke-width="1.7"/>
<path d="M610.00,837.95 L610.00,821.62 M606.20,837.95 L613.80,837.95 M606.20,821.62 L613.80,821.62" stroke="#f56fa6" stroke-width="0.9" fill="none"/>
<path d="M627.90,949.90 L627.90,841.15 L643.70,841.15 L643.70,949.90" fill="#8cd2c8" stroke="#3c968c" stroke-width="1.7"/>
<path d="M635.80,856.14 L635.80,824.60 M631.60,856.14 L640.00,856.14 M631.60,824.60 L640.00,824.60" stroke="#4fa49a" stroke-width="0.9" fill="none"/>
<path d="M661.40,948.58 L661.40,946.59 M656.90,948.58 L665.90,948.58 M656.90,946.59 L665.90,946.59" stroke="#6a3cb8" stroke-width="0.9" fill="none"/>
<line x1="567.15" y1="811.6" x2="567.15" y2="950.4" stroke="#151515" stroke-width="1.35"/>
<line x1="566.65" y1="949.9" x2="679" y2="949.9" stroke="#151515" stroke-width="1.35"/>
<line x1="562.75" y1="839.60" x2="567.15" y2="839.60" stroke="#151515" stroke-width="1.35"/>
<text x="560.8" y="842.70" font-size="8.6" font-weight="700" text-anchor="end" fill="#222" style="stroke-width:0.1px">1.0</text>
<line x1="562.75" y1="894.75" x2="567.15" y2="894.75" stroke="#151515" stroke-width="1.35"/>
<text x="560.8" y="897.85" font-size="8.6" font-weight="700" text-anchor="end" fill="#222" style="stroke-width:0.1px">0.5</text>
<line x1="562.75" y1="949.90" x2="567.15" y2="949.90" stroke="#151515" stroke-width="1.35"/>
<text x="560.8" y="953.00" font-size="8.6" font-weight="700" text-anchor="end" fill="#222" style="stroke-width:0.1px">0.0</text>
<line x1="584.4" y1="949.9" x2="584.4" y2="954.5" stroke="#151515" stroke-width="1.35"/>
<line x1="610" y1="949.9" x2="610" y2="954.5" stroke="#151515" stroke-width="1.35"/>
<line x1="635.8" y1="949.9" x2="635.8" y2="954.5" stroke="#151515" stroke-width="1.35"/>
<line x1="661.4" y1="949.9" x2="661.4" y2="954.5" stroke="#151515" stroke-width="1.35"/>
<circle cx="578.4" cy="839.6" r="2.25" fill="#000000"/>
<circle cx="584.4" cy="839.6" r="2.25" fill="#000000"/>
<circle cx="590.4" cy="839.6" r="2.25" fill="#000000"/>
<circle cx="610" cy="821.4" r="2.25" fill="#f23c84"/>
<circle cx="610" cy="831" r="2.25" fill="#f23c84"/>
<circle cx="610" cy="837.6" r="2.25" fill="#f23c84"/>
<circle cx="635.6" cy="824.4" r="2.25" fill="#3c968c"/>
<circle cx="635.6" cy="838" r="2.25" fill="#3c968c"/>
<circle cx="635.6" cy="856" r="2.25" fill="#3c968c"/>
<circle cx="655" cy="949" r="2.25" fill="#5a28b4"/>
<circle cx="661.4" cy="945.6" r="2.25" fill="#5a28b4"/>
<circle cx="668" cy="948" r="2.25" fill="#5a28b4"/>
<text transform="translate(544,881.2) rotate(-90)" font-size="9.6" text-anchor="middle" fill="#222" stroke="#222" stroke-width="0.55">Relative Viability</text>
<path d="M584.4,776.6 L584.4,770.4 L661.6,770.4 L661.6,776.6" fill="none" stroke="#2c2c2c" stroke-width="1"/>
<text x="623" y="770.3" font-size="10.4" font-weight="700" text-anchor="middle" fill="#222" letter-spacing="0.3" style="stroke-width:0.55px">****</text>
<path d="M610,795.6 L610,789.4 L661.6,789.4 L661.6,795.6" fill="none" stroke="#2c2c2c" stroke-width="1"/>
<text x="636" y="788.9" font-size="10.4" font-weight="700" text-anchor="middle" fill="#222" letter-spacing="0.3" style="stroke-width:0.55px">****</text>
<path d="M635.4,815 L635.4,808.6 L661.6,808.6 L661.6,815" fill="none" stroke="#2c2c2c" stroke-width="1"/>
<text x="648.6" y="807.9" font-size="10.4" font-weight="700" text-anchor="middle" fill="#222" letter-spacing="0.3" style="stroke-width:0.55px">****</text>
<text x="568.4" y="969.1999999999999" font-size="9.9" font-weight="700" text-anchor="end" fill="#222">IKE (48 nM)</text>
<text x="568.4" y="981.6" font-size="9.9" font-weight="700" text-anchor="end" fill="#222">icFSP1 (20 μM)</text>
<text x="584.4" y="968.4" font-size="10" font-weight="700" text-anchor="middle" fill="#222">-</text>
<text x="610" y="968.6999999999999" font-size="9.5" font-weight="700" text-anchor="middle" fill="#222">+</text>
<text x="635.8" y="968.4" font-size="10" font-weight="700" text-anchor="middle" fill="#222">-</text>
<text x="661.4" y="968.6999999999999" font-size="9.5" font-weight="700" text-anchor="middle" fill="#222">+</text>
<text x="584.4" y="980.8000000000001" font-size="10" font-weight="700" text-anchor="middle" fill="#222">-</text>
<text x="610" y="980.8000000000001" font-size="10" font-weight="700" text-anchor="middle" fill="#222">-</text>
<text x="635.8" y="981.1" font-size="9.5" font-weight="700" text-anchor="middle" fill="#222">+</text>
<text x="661.4" y="981.1" font-size="9.5" font-weight="700" text-anchor="middle" fill="#222">+</text>
</svg></body></html>
